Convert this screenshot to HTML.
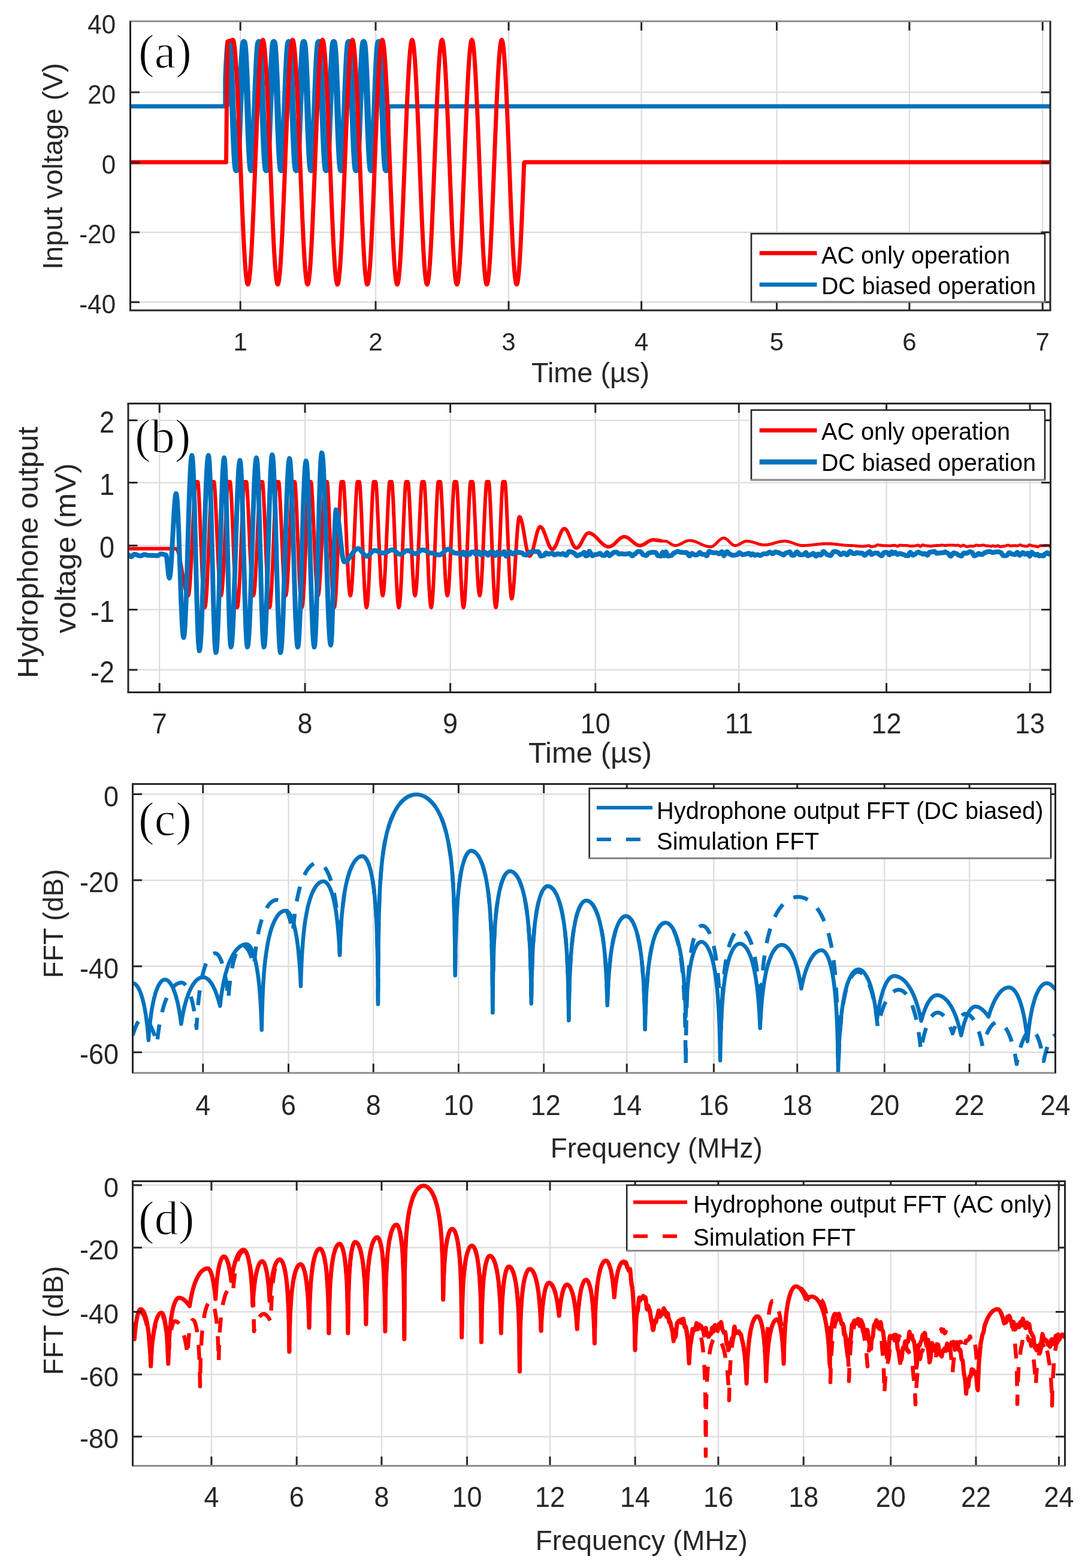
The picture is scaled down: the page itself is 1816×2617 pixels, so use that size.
<!DOCTYPE html>
<html><head><meta charset="utf-8"><title>Figure</title>
<style>html,body{margin:0;padding:0;background:#fff;}svg{display:block;filter:blur(0.6px);}</style>
</head><body>
<svg width="1816" height="2617" viewBox="0 0 1816 2617">
<rect width="1816" height="2617" fill="#fff"/>
<path d="M401.2 35.5V518M627 35.5V518M849 35.5V518M1070.6 35.5V518M1296.5 35.5V518M1517.9 35.5V518M1740.2 35.5V518M217.5 504.3H1753M217.5 387.8H1753M217.5 271.3H1753M217.5 154H1753" stroke="#dedede" stroke-width="2.4" fill="none"/>
<path d="M377.5 177.4 L377.5 131.6 L378 119.9 L378.5 109 L379 99.3 L379.5 90.7 L380 83.5 L380.5 77.8 L381 73.7 L381.5 71.2 L382 70.3 L382.5 71.2 L383 73.7 L383.5 77.8 L384 83.5 L384.5 90.7 L385 99.3 L385.5 109 L386 119.9 L386.5 131.6 L387 144.1 L387.5 157.1 L388 170.4 L388.5 183.8 L389 197.1 L389.5 210.1 L390 222.5 L390.5 234.3 L391 245.1 L391.5 254.9 L392 263.4 L392.5 270.6 L393 276.3 L393.5 280.5 L394 283 L394.5 283.8 L395 283 L395.5 280.5 L396 276.3 L396.5 270.6 L397 263.4 L397.5 254.9 L398 245.1 L398.5 234.3 L399 222.5 L399.5 210.1 L400 197.1 L400.5 183.8 L401 170.4 L401.5 157.1 L402 144.1 L402.5 131.6 L403 119.9 L403.5 109 L404 99.3 L404.5 90.7 L405 83.5 L405.5 77.8 L406 73.7 L406.5 71.2 L407 70.3 L407.5 71.2 L408 73.7 L408.5 77.8 L409 83.5 L409.5 90.7 L410 99.3 L410.5 109 L411 119.9 L411.5 131.6 L412 144.1 L412.5 157.1 L413 170.4 L413.5 183.8 L414 197.1 L414.5 210.1 L415 222.5 L415.5 234.3 L416 245.1 L416.5 254.9 L417 263.4 L417.5 270.6 L418 276.3 L418.5 280.5 L419 283 L419.5 283.8 L420 283 L420.5 280.5 L421 276.3 L421.5 270.6 L422 263.4 L422.5 254.9 L423 245.1 L423.5 234.3 L424 222.5 L424.5 210.1 L425 197.1 L425.5 183.8 L426 170.4 L426.5 157.1 L427 144.1 L427.5 131.6 L428 119.9 L428.5 109 L429 99.3 L429.5 90.7 L430 83.5 L430.5 77.8 L431 73.7 L431.5 71.2 L432 70.3 L432.5 71.2 L433 73.7 L433.5 77.8 L434 83.5 L434.5 90.7 L435 99.3 L435.5 109 L436 119.9 L436.5 131.6 L437 144.1 L437.5 157.1 L438 170.4 L438.5 183.8 L439 197.1 L439.5 210.1 L440 222.5 L440.5 234.3 L441 245.1 L441.5 254.9 L442 263.4 L442.5 270.6 L443 276.3 L443.5 280.5 L444 283 L444.5 283.8 L445 283 L445.5 280.5 L446 276.3 L446.5 270.6 L447 263.4 L447.5 254.9 L448 245.1 L448.5 234.3 L449 222.5 L449.5 210.1 L450 197.1 L450.5 183.8 L451 170.4 L451.5 157.1 L452 144.1 L452.5 131.6 L453 119.9 L453.5 109 L454 99.3 L454.5 90.7 L455 83.5 L455.5 77.8 L456 73.7 L456.5 71.2 L457 70.3 L457.5 71.2 L458 73.7 L458.5 77.8 L459 83.5 L459.5 90.7 L460 99.3 L460.5 109 L461 119.9 L461.5 131.6 L462 144.1 L462.5 157.1 L463 170.4 L463.5 183.8 L464 197.1 L464.5 210.1 L465 222.5 L465.5 234.3 L466 245.1 L466.5 254.9 L467 263.4 L467.5 270.6 L468 276.3 L468.5 280.5 L469 283 L469.5 283.8 L470 283 L470.5 280.5 L471 276.3 L471.5 270.6 L472 263.4 L472.5 254.9 L473 245.1 L473.5 234.3 L474 222.5 L474.5 210.1 L475 197.1 L475.5 183.8 L476 170.4 L476.5 157.1 L477 144.1 L477.5 131.6 L478 119.9 L478.5 109 L479 99.3 L479.5 90.7 L480 83.5 L480.5 77.8 L481 73.7 L481.5 71.2 L482 70.3 L482.5 71.2 L483 73.7 L483.5 77.8 L484 83.5 L484.5 90.7 L485 99.3 L485.5 109 L486 119.9 L486.5 131.6 L487 144.1 L487.5 157.1 L488 170.4 L488.5 183.8 L489 197.1 L489.5 210.1 L490 222.5 L490.5 234.3 L491 245.1 L491.5 254.9 L492 263.4 L492.5 270.6 L493 276.3 L493.5 280.5 L494 283 L494.5 283.8 L495 283 L495.5 280.5 L496 276.3 L496.5 270.6 L497 263.4 L497.5 254.9 L498 245.1 L498.5 234.3 L499 222.5 L499.5 210.1 L500 197.1 L500.5 183.8 L501 170.4 L501.5 157.1 L502 144.1 L502.5 131.6 L503 119.9 L503.5 109 L504 99.3 L504.5 90.7 L505 83.5 L505.5 77.8 L506 73.7 L506.5 71.2 L507 70.3 L507.5 71.2 L508 73.7 L508.5 77.8 L509 83.5 L509.5 90.7 L510 99.3 L510.5 109 L511 119.9 L511.5 131.6 L512 144.1 L512.5 157.1 L513 170.4 L513.5 183.8 L514 197.1 L514.5 210.1 L515 222.5 L515.5 234.3 L516 245.1 L516.5 254.9 L517 263.4 L517.5 270.6 L518 276.3 L518.5 280.5 L519 283 L519.5 283.8 L520 283 L520.5 280.5 L521 276.3 L521.5 270.6 L522 263.4 L522.5 254.9 L523 245.1 L523.5 234.3 L524 222.5 L524.5 210.1 L525 197.1 L525.5 183.8 L526 170.4 L526.5 157.1 L527 144.1 L527.5 131.6 L528 119.9 L528.5 109 L529 99.3 L529.5 90.7 L530 83.5 L530.5 77.8 L531 73.7 L531.5 71.2 L532 70.3 L532.5 71.2 L533 73.7 L533.5 77.8 L534 83.5 L534.5 90.7 L535 99.3 L535.5 109 L536 119.9 L536.5 131.6 L537 144.1 L537.5 157.1 L538 170.4 L538.5 183.8 L539 197.1 L539.5 210.1 L540 222.5 L540.5 234.3 L541 245.1 L541.5 254.9 L542 263.4 L542.5 270.6 L543 276.3 L543.5 280.5 L544 283 L544.5 283.8 L545 283 L545.5 280.5 L546 276.3 L546.5 270.6 L547 263.4 L547.5 254.9 L548 245.1 L548.5 234.3 L549 222.5 L549.5 210.1 L550 197.1 L550.5 183.8 L551 170.4 L551.5 157.1 L552 144.1 L552.5 131.6 L553 119.9 L553.5 109 L554 99.3 L554.5 90.7 L555 83.5 L555.5 77.8 L556 73.7 L556.5 71.2 L557 70.3 L557.5 71.2 L558 73.7 L558.5 77.8 L559 83.5 L559.5 90.7 L560 99.3 L560.5 109 L561 119.9 L561.5 131.6 L562 144.1 L562.5 157.1 L563 170.4 L563.5 183.8 L564 197.1 L564.5 210.1 L565 222.5 L565.5 234.3 L566 245.1 L566.5 254.9 L567 263.4 L567.5 270.6 L568 276.3 L568.5 280.5 L569 283 L569.5 283.8 L570 283 L570.5 280.5 L571 276.3 L571.5 270.6 L572 263.4 L572.5 254.9 L573 245.1 L573.5 234.3 L574 222.5 L574.5 210.1 L575 197.1 L575.5 183.8 L576 170.4 L576.5 157.1 L577 144.1 L577.5 131.6 L578 119.9 L578.5 109 L579 99.3 L579.5 90.7 L580 83.5 L580.5 77.8 L581 73.7 L581.5 71.2 L582 70.3 L582.5 71.2 L583 73.7 L583.5 77.8 L584 83.5 L584.5 90.7 L585 99.3 L585.5 109 L586 119.9 L586.5 131.6 L587 144.1 L587.5 157.1 L588 170.4 L588.5 183.8 L589 197.1 L589.5 210.1 L590 222.5 L590.5 234.3 L591 245.1 L591.5 254.9 L592 263.4 L592.5 270.6 L593 276.3 L593.5 280.5 L594 283 L594.5 283.8 L595 283 L595.5 280.5 L596 276.3 L596.5 270.6 L597 263.4 L597.5 254.9 L598 245.1 L598.5 234.3 L599 222.5 L599.5 210.1 L600 197.1 L600.5 183.8 L601 170.4 L601.5 157.1 L602 144.1 L602.5 131.6 L603 119.9 L603.5 109 L604 99.3 L604.5 90.7 L605 83.5 L605.5 77.8 L606 73.7 L606.5 71.2 L607 70.3 L607.5 71.2 L608 73.7 L608.5 77.8 L609 83.5 L609.5 90.7 L610 99.3 L610.5 109 L611 119.9 L611.5 131.6 L612 144.1 L612.5 157.1 L613 170.4 L613.5 183.8 L614 197.1 L614.5 210.1 L615 222.5 L615.5 234.3 L616 245.1 L616.5 254.9 L617 263.4 L617.5 270.6 L618 276.3 L618.5 280.5 L619 283 L619.5 283.8 L620 283 L620.5 280.5 L621 276.3 L621.5 270.6 L622 263.4 L622.5 254.9 L623 245.1 L623.5 234.3 L624 222.5 L624.5 210.1 L625 197.1 L625.5 183.8 L626 170.4 L626.5 157.1 L627 144.1 L627.5 131.6 L628 119.9 L628.5 109 L629 99.3 L629.5 90.7 L630 83.5 L630.5 77.8 L631 73.7 L631.5 71.2 L632 70.3 L632.5 71.2 L633 73.7 L633.5 77.8 L634 83.5 L634.5 90.7 L635 99.3 L635.5 109 L636 119.9 L636.5 131.6 L637 144.1 L637.5 157.1 L638 170.4 L638.5 183.8 L639 197.1 L639.5 210.1 L640 222.5 L640.5 234.3 L641 245.1 L641.5 254.9 L642 263.4 L642.5 270.6 L643 276.3 L643.5 280.5 L644 283 L644.5 283.8 L645 283 L645.5 270.7 L646.5 177.4" fill="none" stroke="#0072bd" stroke-width="10.5" stroke-linejoin="round"/>
<path d="M217.5 177.4 L378 177.4" fill="none" stroke="#0072bd" stroke-width="7" stroke-linejoin="round"/>
<path d="M646.5 177.4 L1753 177.4" fill="none" stroke="#0072bd" stroke-width="7" stroke-linejoin="round"/>
<path d="M217.5 270.7 L377.5 270.7 L379.5 69.5 L388.8 66.5 L388.8 66.5 L389.3 67 L389.8 68.2 L390.3 70.2 L390.8 73 L391.3 76.6 L391.8 81 L392.3 86.1 L392.8 91.9 L393.3 98.5 L393.8 105.8 L394.3 113.7 L394.8 122.2 L395.3 131.3 L395.8 141 L396.3 151.2 L396.8 161.8 L397.3 172.9 L397.8 184.4 L398.3 196.2 L398.8 208.3 L399.3 220.7 L399.8 233.3 L400.3 246 L400.8 258.8 L401.3 271.7 L401.8 284.5 L402.3 297.3 L402.8 310 L403.3 322.6 L403.8 334.9 L404.3 347 L404.8 358.7 L405.3 370.2 L405.8 381.2 L406.3 391.8 L406.8 401.9 L407.3 411.5 L407.8 420.5 L408.3 429 L408.8 436.8 L409.3 443.9 L409.8 450.4 L410.3 456.1 L410.8 461.1 L411.3 465.4 L411.8 468.9 L412.3 471.6 L412.8 473.5 L413.3 474.6 L413.8 474.8 L414.3 474.3 L414.8 473 L415.3 470.8 L415.8 467.9 L416.3 464.2 L416.8 459.7 L417.3 454.5 L417.8 448.5 L418.3 441.8 L418.8 434.5 L419.3 426.5 L419.8 417.9 L420.3 408.7 L420.8 398.9 L421.3 388.7 L421.8 377.9 L422.3 366.8 L422.8 355.2 L423.3 343.4 L423.8 331.2 L424.3 318.8 L424.8 306.2 L425.3 293.5 L425.8 280.7 L426.3 267.8 L426.8 255 L427.3 242.2 L427.8 229.5 L428.3 217 L428.8 204.7 L429.3 192.6 L429.8 180.9 L430.3 169.6 L430.8 158.6 L431.3 148.1 L431.8 138 L432.3 128.5 L432.8 119.6 L433.3 111.2 L433.8 103.5 L434.3 96.5 L434.8 90.1 L435.3 84.5 L435.8 79.6 L436.3 75.4 L436.8 72.1 L437.3 69.5 L437.8 67.7 L438.3 66.7 L438.8 66.6 L439.3 67.2 L439.8 68.7 L440.3 70.9 L440.8 74 L441.3 77.8 L441.8 82.4 L442.3 87.8 L442.8 93.8 L443.3 100.6 L443.8 108.1 L444.3 116.2 L444.8 124.9 L445.3 134.2 L445.8 144 L446.3 154.3 L446.8 165.1 L447.3 176.3 L447.8 187.9 L448.3 199.8 L448.8 212 L449.3 224.5 L449.8 237.1 L450.3 249.8 L450.8 262.7 L451.3 275.5 L451.8 288.4 L452.3 301.1 L452.8 313.8 L453.3 326.3 L453.8 338.5 L454.3 350.5 L454.8 362.2 L455.3 373.5 L455.8 384.4 L456.3 394.9 L456.8 404.8 L457.3 414.3 L457.8 423.1 L458.3 431.4 L458.8 439 L459.3 445.9 L459.8 452.2 L460.3 457.7 L460.8 462.5 L461.3 466.5 L461.8 469.8 L462.3 472.2 L462.8 473.9 L463.3 474.7 L463.8 474.8 L464.3 474 L464.8 472.4 L465.3 470 L465.8 466.9 L466.3 462.9 L466.8 458.2 L467.3 452.8 L467.8 446.6 L468.3 439.7 L468.8 432.2 L469.3 424 L469.8 415.2 L470.3 405.8 L470.8 395.9 L471.3 385.5 L471.8 374.6 L472.3 363.4 L472.8 351.7 L473.3 339.8 L473.8 327.5 L474.3 315.1 L474.8 302.4 L475.3 289.7 L475.8 276.8 L476.3 263.9 L476.8 251.1 L477.3 238.4 L477.8 225.7 L478.3 213.3 L478.8 201 L479.3 189.1 L479.8 177.5 L480.3 166.2 L480.8 155.4 L481.3 145 L481.8 135.1 L482.3 125.8 L482.8 117 L483.3 108.8 L483.8 101.3 L484.3 94.5 L484.8 88.3 L485.3 82.9 L485.8 78.3 L486.3 74.3 L486.8 71.2 L487.3 68.9 L487.8 67.3 L488.3 66.6 L488.8 66.7 L489.3 67.6 L489.8 69.3 L490.3 71.8 L490.8 75.1 L491.3 79.1 L491.8 84 L492.3 89.5 L492.8 95.8 L493.3 102.8 L493.8 110.4 L494.3 118.7 L494.8 127.6 L495.3 137.1 L495.8 147 L496.3 157.5 L496.8 168.4 L497.3 179.8 L497.8 191.5 L498.3 203.5 L498.8 215.7 L499.3 228.2 L499.8 240.9 L500.3 253.7 L500.8 266.5 L501.3 279.4 L501.8 292.2 L502.3 305 L502.8 317.6 L503.3 330 L503.8 342.2 L504.3 354.1 L504.8 365.6 L505.3 376.8 L505.8 387.6 L506.3 397.9 L506.8 407.7 L507.3 417 L507.8 425.7 L508.3 433.7 L508.8 441.1 L509.3 447.9 L509.8 453.9 L510.3 459.2 L510.8 463.8 L511.3 467.6 L511.8 470.6 L512.3 472.8 L512.8 474.2 L513.3 474.8 L513.8 474.6 L514.3 473.6 L514.8 471.8 L515.3 469.2 L515.8 465.8 L516.3 461.6 L516.8 456.7 L517.3 451 L517.8 444.6 L518.3 437.5 L518.8 429.8 L519.3 421.4 L519.8 412.4 L520.3 402.9 L520.8 392.8 L521.3 382.3 L521.8 371.3 L522.3 359.9 L522.8 348.2 L523.3 336.1 L523.8 323.8 L524.3 311.3 L524.8 298.6 L525.3 285.8 L525.8 273 L526.3 260.1 L526.8 247.3 L527.3 234.5 L527.8 222 L528.3 209.6 L528.8 197.4 L529.3 185.6 L529.8 174.1 L530.3 162.9 L530.8 152.2 L531.3 142 L531.8 132.3 L532.3 123.1 L532.8 114.5 L533.3 106.5 L533.8 99.2 L534.3 92.6 L534.8 86.6 L535.3 81.4 L535.8 77 L536.3 73.3 L536.8 70.4 L537.3 68.3 L537.8 67 L538.3 66.5 L538.8 66.9 L539.3 68 L539.8 69.9 L540.3 72.7 L540.8 76.2 L541.3 80.5 L541.8 85.5 L542.3 91.3 L542.8 97.8 L543.3 105 L543.8 112.8 L544.3 121.3 L544.8 130.4 L545.3 140 L545.8 150.1 L546.3 160.7 L546.8 171.8 L547.3 183.2 L547.8 195 L548.3 207.1 L548.8 219.5 L549.3 232 L549.8 244.7 L550.3 257.5 L550.8 270.4 L551.3 283.2 L551.8 296 L552.3 308.8 L552.8 321.3 L553.3 333.7 L553.8 345.8 L554.3 357.6 L554.8 369 L555.3 380.1 L555.8 390.8 L556.3 400.9 L556.8 410.6 L557.3 419.6 L557.8 428.1 L558.3 436 L558.8 443.2 L559.3 449.8 L559.8 455.6 L560.3 460.7 L560.8 465 L561.3 468.6 L561.8 471.3 L562.3 473.3 L562.8 474.5 L563.3 474.9 L563.8 474.4 L564.3 473.2 L564.8 471.1 L565.3 468.2 L565.8 464.6 L566.3 460.2 L566.8 455 L567.3 449.1 L567.8 442.5 L568.3 435.3 L568.8 427.3 L569.3 418.8 L569.8 409.6 L570.3 399.9 L570.8 389.7 L571.3 379 L571.8 367.9 L572.3 356.4 L572.8 344.6 L573.3 332.4 L573.8 320.1 L574.3 307.5 L574.8 294.8 L575.3 282 L575.8 269.1 L576.3 256.2 L576.8 243.4 L577.3 230.8 L577.8 218.2 L578.3 205.9 L578.8 193.8 L579.3 182.1 L579.8 170.7 L580.3 159.7 L580.8 149.1 L581.3 139 L581.8 129.4 L582.3 120.4 L582.8 112 L583.3 104.3 L583.8 97.1 L584.3 90.7 L584.8 85 L585.3 80 L585.8 75.8 L586.3 72.4 L586.8 69.7 L587.3 67.9 L587.8 66.8 L588.3 66.6 L588.8 67.1 L589.3 68.5 L589.8 70.7 L590.3 73.7 L590.8 77.4 L591.3 81.9 L591.8 87.2 L592.3 93.2 L592.8 99.9 L593.3 107.3 L593.8 115.3 L594.3 124 L594.8 133.2 L595.3 143 L595.8 153.3 L596.3 164 L596.8 175.2 L597.3 186.7 L597.8 198.6 L598.3 210.8 L598.8 223.2 L599.3 235.8 L599.8 248.5 L600.3 261.4 L600.8 274.2 L601.3 287.1 L601.8 299.9 L602.3 312.5 L602.8 325 L603.3 337.3 L603.8 349.3 L604.3 361.1 L604.8 372.4 L605.3 383.4 L605.8 393.9 L606.3 403.9 L606.8 413.3 L607.3 422.3 L607.8 430.6 L608.3 438.3 L608.8 445.3 L609.3 451.6 L609.8 457.2 L610.3 462 L610.8 466.2 L611.3 469.5 L611.8 472 L612.3 473.8 L612.8 474.7 L613.3 474.8 L613.8 474.1 L614.3 472.6 L614.8 470.3 L615.3 467.2 L615.8 463.4 L616.3 458.7 L616.8 453.3 L617.3 447.2 L617.8 440.4 L618.3 432.9 L618.8 424.8 L619.3 416.1 L619.8 406.8 L620.3 396.9 L620.8 386.6 L621.3 375.7 L621.8 364.5 L622.3 352.9 L622.8 341 L623.3 328.7 L623.8 316.3 L624.3 303.7 L624.8 290.9 L625.3 278.1 L625.8 265.2 L626.3 252.4 L626.8 239.6 L627.3 227 L627.8 214.5 L628.3 202.3 L628.8 190.3 L629.3 178.6 L629.8 167.3 L630.3 156.4 L630.8 146 L631.3 136.1 L631.8 126.7 L632.3 117.9 L632.8 109.6 L633.3 102.1 L633.8 95.1 L634.3 88.9 L634.8 83.4 L635.3 78.7 L635.8 74.7 L636.3 71.5 L636.8 69.1 L637.3 67.5 L637.8 66.6 L638.3 66.6 L638.8 67.5 L639.3 69.1 L639.8 71.5 L640.3 74.7 L640.8 78.7 L641.3 83.4 L641.8 88.9 L642.3 95.1 L642.8 102.1 L643.3 109.6 L643.8 117.9 L644.3 126.7 L644.8 136.1 L645.3 146 L645.8 156.4 L646.3 167.3 L646.8 178.6 L647.3 190.3 L647.8 202.3 L648.3 214.5 L648.8 227 L649.3 239.6 L649.8 252.4 L650.3 265.2 L650.8 278.1 L651.3 290.9 L651.8 303.7 L652.3 316.3 L652.8 328.7 L653.3 341 L653.8 352.9 L654.3 364.5 L654.8 375.7 L655.3 386.6 L655.8 396.9 L656.3 406.8 L656.8 416.1 L657.3 424.8 L657.8 432.9 L658.3 440.4 L658.8 447.2 L659.3 453.3 L659.8 458.7 L660.3 463.4 L660.8 467.2 L661.3 470.3 L661.8 472.6 L662.3 474.1 L662.8 474.8 L663.3 474.7 L663.8 473.8 L664.3 472 L664.8 469.5 L665.3 466.2 L665.8 462 L666.3 457.2 L666.8 451.6 L667.3 445.3 L667.8 438.3 L668.3 430.6 L668.8 422.3 L669.3 413.3 L669.8 403.9 L670.3 393.9 L670.8 383.4 L671.3 372.4 L671.8 361.1 L672.3 349.3 L672.8 337.3 L673.3 325 L673.8 312.5 L674.3 299.9 L674.8 287.1 L675.3 274.2 L675.8 261.4 L676.3 248.5 L676.8 235.8 L677.3 223.2 L677.8 210.8 L678.3 198.6 L678.8 186.7 L679.3 175.2 L679.8 164 L680.3 153.3 L680.8 143 L681.3 133.2 L681.8 124 L682.3 115.3 L682.8 107.3 L683.3 99.9 L683.8 93.2 L684.3 87.2 L684.8 81.9 L685.3 77.4 L685.8 73.7 L686.3 70.7 L686.8 68.5 L687.3 67.1 L687.8 66.6 L688.3 66.8 L688.8 67.9 L689.3 69.7 L689.8 72.4 L690.3 75.8 L690.8 80 L691.3 85 L691.8 90.7 L692.3 97.1 L692.8 104.3 L693.3 112 L693.8 120.4 L694.3 129.4 L694.8 139 L695.3 149.1 L695.8 159.7 L696.3 170.7 L696.8 182.1 L697.3 193.8 L697.8 205.9 L698.3 218.2 L698.8 230.8 L699.3 243.4 L699.8 256.2 L700.3 269.1 L700.8 282 L701.3 294.8 L701.8 307.5 L702.3 320.1 L702.8 332.4 L703.3 344.6 L703.8 356.4 L704.3 367.9 L704.8 379 L705.3 389.7 L705.8 399.9 L706.3 409.6 L706.8 418.8 L707.3 427.3 L707.8 435.3 L708.3 442.5 L708.8 449.1 L709.3 455 L709.8 460.2 L710.3 464.6 L710.8 468.2 L711.3 471.1 L711.8 473.2 L712.3 474.4 L712.8 474.9 L713.3 474.5 L713.8 473.3 L714.3 471.3 L714.8 468.6 L715.3 465 L715.8 460.7 L716.3 455.6 L716.8 449.8 L717.3 443.2 L717.8 436 L718.3 428.1 L718.8 419.6 L719.3 410.6 L719.8 400.9 L720.3 390.8 L720.8 380.1 L721.3 369 L721.8 357.6 L722.3 345.8 L722.8 333.7 L723.3 321.3 L723.8 308.8 L724.3 296 L724.8 283.2 L725.3 270.4 L725.8 257.5 L726.3 244.7 L726.8 232 L727.3 219.5 L727.8 207.1 L728.3 195 L728.8 183.2 L729.3 171.8 L729.8 160.7 L730.3 150.1 L730.8 140 L731.3 130.4 L731.8 121.3 L732.3 112.8 L732.8 105 L733.3 97.8 L733.8 91.3 L734.3 85.5 L734.8 80.5 L735.3 76.2 L735.8 72.7 L736.3 69.9 L736.8 68 L737.3 66.9 L737.8 66.5 L738.3 67 L738.8 68.3 L739.3 70.4 L739.8 73.3 L740.3 77 L740.8 81.4 L741.3 86.6 L741.8 92.6 L742.3 99.2 L742.8 106.5 L743.3 114.5 L743.8 123.1 L744.3 132.3 L744.8 142 L745.3 152.2 L745.8 162.9 L746.3 174.1 L746.8 185.6 L747.3 197.4 L747.8 209.6 L748.3 222 L748.8 234.5 L749.3 247.3 L749.8 260.1 L750.3 273 L750.8 285.8 L751.3 298.6 L751.8 311.3 L752.3 323.8 L752.8 336.1 L753.3 348.2 L753.8 359.9 L754.3 371.3 L754.8 382.3 L755.3 392.8 L755.8 402.9 L756.3 412.4 L756.8 421.4 L757.3 429.8 L757.8 437.5 L758.3 444.6 L758.8 451 L759.3 456.7 L759.8 461.6 L760.3 465.8 L760.8 469.2 L761.3 471.8 L761.8 473.6 L762.3 474.6 L762.8 474.8 L763.3 474.2 L763.8 472.8 L764.3 470.6 L764.8 467.6 L765.3 463.8 L765.8 459.2 L766.3 453.9 L766.8 447.9 L767.3 441.1 L767.8 433.7 L768.3 425.7 L768.8 417 L769.3 407.7 L769.8 397.9 L770.3 387.6 L770.8 376.8 L771.3 365.6 L771.8 354.1 L772.3 342.2 L772.8 330 L773.3 317.6 L773.8 305 L774.3 292.2 L774.8 279.4 L775.3 266.5 L775.8 253.7 L776.3 240.9 L776.8 228.2 L777.3 215.7 L777.8 203.5 L778.3 191.5 L778.8 179.8 L779.3 168.4 L779.8 157.5 L780.3 147 L780.8 137.1 L781.3 127.6 L781.8 118.7 L782.3 110.4 L782.8 102.8 L783.3 95.8 L783.8 89.5 L784.3 84 L784.8 79.1 L785.3 75.1 L785.8 71.8 L786.3 69.3 L786.8 67.6 L787.3 66.7 L787.8 66.6 L788.3 67.3 L788.8 68.9 L789.3 71.2 L789.8 74.3 L790.3 78.3 L790.8 82.9 L791.3 88.3 L791.8 94.5 L792.3 101.3 L792.8 108.8 L793.3 117 L793.8 125.8 L794.3 135.1 L794.8 145 L795.3 155.4 L795.8 166.2 L796.3 177.5 L796.8 189.1 L797.3 201 L797.8 213.3 L798.3 225.7 L798.8 238.4 L799.3 251.1 L799.8 263.9 L800.3 276.8 L800.8 289.7 L801.3 302.4 L801.8 315.1 L802.3 327.5 L802.8 339.8 L803.3 351.7 L803.8 363.4 L804.3 374.6 L804.8 385.5 L805.3 395.9 L805.8 405.8 L806.3 415.2 L806.8 424 L807.3 432.2 L807.8 439.7 L808.3 446.6 L808.8 452.8 L809.3 458.2 L809.8 462.9 L810.3 466.9 L810.8 470 L811.3 472.4 L811.8 474 L812.3 474.8 L812.8 474.7 L813.3 473.9 L813.8 472.2 L814.3 469.8 L814.8 466.5 L815.3 462.5 L815.8 457.7 L816.3 452.2 L816.8 445.9 L817.3 439 L817.8 431.4 L818.3 423.1 L818.8 414.3 L819.3 404.8 L819.8 394.9 L820.3 384.4 L820.8 373.5 L821.3 362.2 L821.8 350.5 L822.3 338.5 L822.8 326.3 L823.3 313.8 L823.8 301.1 L824.3 288.4 L824.8 275.5 L825.3 262.7 L825.8 249.8 L826.3 237.1 L826.8 224.5 L827.3 212 L827.8 199.8 L828.3 187.9 L828.8 176.3 L829.3 165.1 L829.8 154.3 L830.3 144 L830.8 134.2 L831.3 124.9 L831.8 116.2 L832.3 108.1 L832.8 100.6 L833.3 93.8 L833.8 87.8 L834.3 82.4 L834.8 77.8 L835.3 74 L835.8 70.9 L836.3 68.7 L836.8 67.2 L837.3 66.6 L837.8 66.7 L838.3 67.7 L838.8 69.5 L839.3 72.1 L839.8 75.4 L840.3 79.6 L840.8 84.5 L841.3 90.1 L841.8 96.5 L842.3 103.5 L842.8 111.2 L843.3 119.6 L843.8 128.5 L844.3 138 L844.8 148.1 L845.3 158.6 L845.8 169.6 L846.3 180.9 L846.8 192.6 L847.3 204.7 L847.8 217 L848.3 229.5 L848.8 242.2 L849.3 255 L849.8 267.8 L850.3 280.7 L850.8 293.5 L851.3 306.2 L851.8 318.8 L852.3 331.2 L852.8 343.4 L853.3 355.2 L853.8 366.8 L854.3 377.9 L854.8 388.7 L855.3 398.9 L855.8 408.7 L856.3 417.9 L856.8 426.5 L857.3 434.5 L857.8 441.8 L858.3 448.5 L858.8 454.5 L859.3 459.7 L859.8 464.2 L860.3 467.9 L860.8 470.8 L861.3 473 L861.8 474.3 L862.3 474.8 L862.8 474.6 L863.3 473.5 L863.8 471.6 L864.3 468.9 L864.8 465.4 L865.3 461.1 L865.8 456.1 L866.3 450.4 L866.8 443.9 L867.3 436.8 L867.8 429 L868.3 420.5 L868.8 411.5 L869.3 401.9 L869.8 391.8 L870.3 381.2 L870.8 370.2 L871.3 358.7 L871.8 347 L872.3 334.9 L872.8 322.6 L873.3 310 L873.8 297.3 L874.3 284.5 L874.8 271.7 L875.3 270.7 L1753 270.7" fill="none" stroke="#ff0000" stroke-width="7" stroke-linejoin="round"/>
<path d="M401.2 518v-15.5M401.2 35.5v15.5M627 518v-15.5M627 35.5v15.5M849 518v-15.5M849 35.5v15.5M1070.6 518v-15.5M1070.6 35.5v15.5M1296.5 518v-15.5M1296.5 35.5v15.5M1517.9 518v-15.5M1517.9 35.5v15.5M1740.2 518v-15.5M1740.2 35.5v15.5M217.5 504.3h15.5M1753 504.3h-15.5M217.5 387.8h15.5M1753 387.8h-15.5M217.5 271.3h15.5M1753 271.3h-15.5M217.5 154h15.5M1753 154h-15.5" stroke="#262626" stroke-width="3" fill="none"/>
<path d="M216 35.5H1754.5" stroke="#939393" stroke-width="3"/>
<path d="M216 518H1754.5" stroke="#262626" stroke-width="3"/>
<path d="M217.5 35.5V518" stroke="#262626" stroke-width="3"/>
<path d="M1753 35.5V518" stroke="#262626" stroke-width="3"/>
<text x="401.2" y="585" font-size="42" text-anchor="middle" fill="#262626" font-family='"Liberation Sans", sans-serif'>1</text>
<text x="627" y="585" font-size="42" text-anchor="middle" fill="#262626" font-family='"Liberation Sans", sans-serif'>2</text>
<text x="849" y="585" font-size="42" text-anchor="middle" fill="#262626" font-family='"Liberation Sans", sans-serif'>3</text>
<text x="1070.6" y="585" font-size="42" text-anchor="middle" fill="#262626" font-family='"Liberation Sans", sans-serif'>4</text>
<text x="1296.5" y="585" font-size="42" text-anchor="middle" fill="#262626" font-family='"Liberation Sans", sans-serif'>5</text>
<text x="1517.9" y="585" font-size="42" text-anchor="middle" fill="#262626" font-family='"Liberation Sans", sans-serif'>6</text>
<text x="1740.2" y="585" font-size="42" text-anchor="middle" fill="#262626" font-family='"Liberation Sans", sans-serif'>7</text>
<text x="0" y="0" font-size="42" text-anchor="end" fill="#262626" font-family='"Liberation Sans", sans-serif' transform="translate(193 522.8) scale(1 1.07)">-40</text>
<text x="0" y="0" font-size="42" text-anchor="end" fill="#262626" font-family='"Liberation Sans", sans-serif' transform="translate(193 406.3) scale(1 1.07)">-20</text>
<text x="0" y="0" font-size="42" text-anchor="end" fill="#262626" font-family='"Liberation Sans", sans-serif' transform="translate(193 289.8) scale(1 1.07)">0</text>
<text x="0" y="0" font-size="42" text-anchor="end" fill="#262626" font-family='"Liberation Sans", sans-serif' transform="translate(193 172.5) scale(1 1.07)">20</text>
<text x="0" y="0" font-size="42" text-anchor="end" fill="#262626" font-family='"Liberation Sans", sans-serif' transform="translate(193 55.8) scale(1 1.07)">40</text>
<text x="985.5" y="637.5" font-size="46" text-anchor="middle" fill="#262626" font-family='"Liberation Sans", sans-serif' textLength="197" lengthAdjust="spacingAndGlyphs">Time (µs)</text>
<text x="104" y="277.5" font-size="46" text-anchor="middle" fill="#262626" font-family='"Liberation Sans", sans-serif' transform="rotate(-90 104 277.5)" textLength="345" lengthAdjust="spacingAndGlyphs">Input voltage (V)</text>
<text x="231" y="113" font-size="80" text-anchor="start" fill="#000" font-family='"Liberation Serif", serif' stroke="#fff" stroke-width="1.3">(a)</text>
<rect x="1254" y="390" width="490" height="114" fill="#fff" stroke="#262626" stroke-width="2.6"/>
<path d="M1252.7 504H1745.3" stroke="#8f8f8f" stroke-width="2.6"/>
<path d="M1267.7 422.4H1363.5" stroke="#ff0000" stroke-width="7"/>
<text x="1371" y="440" font-size="40" text-anchor="start" fill="#000" font-family='"Liberation Sans", sans-serif' textLength="315" lengthAdjust="spacingAndGlyphs">AC only operation</text>
<path d="M1267.7 474.9H1363.5" stroke="#0072bd" stroke-width="7"/>
<text x="1371" y="491" font-size="40" text-anchor="start" fill="#000" font-family='"Liberation Sans", sans-serif' textLength="358" lengthAdjust="spacingAndGlyphs">DC biased operation</text>
<path d="M266.2 673.5V1155.5M509.1 673.5V1155.5M751.6 673.5V1155.5M993.8 673.5V1155.5M1233.3 673.5V1155.5M1479.6 673.5V1155.5M1719.1 673.5V1155.5M214 1118H1753.5M214 1017.4H1753.5M214 910.5H1753.5M214 805.6H1753.5M214 701.6H1753.5" stroke="#dedede" stroke-width="2.4" fill="none"/>
<path d="M214 915.7 L214.8 915.7 L215.6 915.7 L216.4 915.7 L217.2 915.7 L218 915.7 L218.8 915.7 L219.6 915.7 L220.4 915.7 L221.2 915.7 L222 915.7 L222.8 915.7 L223.6 915.7 L224.4 915.7 L225.2 915.7 L226 915.7 L226.8 915.7 L227.6 915.7 L228.4 915.7 L229.2 915.7 L230 915.7 L230.8 915.7 L231.6 915.7 L232.4 915.7 L233.2 915.7 L234 915.7 L234.8 915.7 L235.6 915.7 L236.4 915.7 L237.2 915.7 L238 915.7 L238.8 915.7 L239.6 915.7 L240.4 915.7 L241.2 915.7 L242 915.7 L242.8 915.7 L243.6 915.7 L244.4 915.7 L245.2 915.7 L246 915.7 L246.8 915.7 L247.6 915.7 L248.4 915.7 L249.2 915.7 L250 915.7 L250.8 915.7 L251.6 915.7 L252.4 915.7 L253.2 915.7 L254 915.7 L254.8 915.7 L255.6 915.7 L256.4 915.7 L257.2 915.7 L258 915.7 L258.8 915.7 L259.6 915.7 L260.4 915.7 L261.2 915.7 L262 915.7 L262.8 915.7 L263.6 915.7 L264.4 915.7 L265.2 915.7 L266 915.7 L266.8 915.7 L267.6 915.7 L268.4 915.7 L269.2 915.7 L270 915.7 L270.8 915.7 L271.6 915.7 L272.4 915.7 L273.2 915.7 L274 915.7 L274.8 915.7 L275.6 915.7 L276.4 915.7 L277.2 915.7 L278 915.7 L278.8 915.7 L279.6 915.7 L280.4 915.7 L281.2 915.7 L282 915.7 L282.8 915.7 L283.6 915.7 L284.4 915.7 L285.2 915.7 L286 915.7 L286.8 915.7 L287.6 915.7 L288.4 915.7 L289.2 915.7 L290 915.7 L290.8 915.7 L291.6 915.7 L292.4 915.7 L293.2 915.7 L294 915.7 L294.8 916 L295.6 917 L296.4 918.5 L297.2 920.6 L298.1 923.2 L298.9 926.3 L299.7 929.9 L300.5 933.9 L301.3 938.2 L302.1 942.8 L302.9 947.6 L303.7 952.5 L304.5 957.4 L305.3 962.3 L306.1 967 L307 971.6 L307.8 975.9 L308.6 979.9 L309.4 983.5 L310.2 986.6 L311 989.3 L311.8 991.3 L312.6 992.9 L313.4 993.8 L314.2 994.1 L315.1 992.4 L315.9 987.2 L316.8 978.8 L317.6 967.5 L318.4 953.6 L319.3 937.6 L320.1 920.1 L321 901.6 L321.8 882.8 L322.6 864.3 L323.5 846.8 L324.3 830.8 L325.1 816.9 L326 805.6 L326.8 803.9 L327.7 803.9 L328.5 803.9 L329.3 803.9 L330.2 803.9 L331 809.2 L331.9 823.1 L332.7 840 L333.6 859.4 L334.4 880.3 L335.2 902.1 L336.1 924 L336.9 944.9 L337.8 964.3 L338.6 981.2 L339.5 995.1 L340.3 1005.4 L341.1 1011.8 L342 1014 L342.8 1011.8 L343.7 1005.4 L344.5 995.1 L345.4 981.2 L346.2 964.3 L347 944.9 L347.9 924 L348.7 902.1 L349.6 880.3 L350.4 859.4 L351.3 840 L352.1 823.1 L353 809.2 L353.8 803.9 L354.6 803.9 L355.5 803.9 L356.3 803.9 L357.2 803.9 L358 807.5 L358.9 820.2 L359.7 835.6 L360.5 853.2 L361.4 872.3 L362.2 892.2 L363.1 912.1 L363.9 931.2 L364.8 948.8 L365.6 964.3 L366.4 976.9 L367.3 986.3 L368.1 992.1 L369 994.1 L369.8 992.1 L370.7 986.3 L371.5 976.9 L372.3 964.3 L373.2 948.8 L374 931.2 L374.9 912.1 L375.7 892.2 L376.6 872.3 L377.4 853.2 L378.2 835.6 L379.1 820.2 L379.9 807.5 L380.8 803.9 L381.6 803.9 L382.5 803.9 L383.3 803.9 L384.1 803.9 L385 809.2 L385.8 823.1 L386.7 840 L387.5 859.4 L388.4 880.3 L389.2 902.1 L390 924 L390.9 944.9 L391.7 964.3 L392.6 981.2 L393.4 995.1 L394.3 1005.4 L395.1 1011.8 L395.9 1014 L396.8 1011.8 L397.6 1005.4 L398.5 995.1 L399.3 981.2 L400.2 964.3 L401 944.9 L401.9 924 L402.7 902.1 L403.5 880.3 L404.4 859.4 L405.2 840 L406.1 823.1 L406.9 809.2 L407.8 803.9 L408.6 803.9 L409.4 803.9 L410.3 803.9 L411.1 803.9 L412 807.5 L412.8 820.2 L413.7 835.6 L414.5 853.2 L415.3 872.3 L416.2 892.2 L417 912.1 L417.9 931.2 L418.7 948.8 L419.6 964.3 L420.4 976.9 L421.2 986.3 L422.1 992.1 L422.9 994.1 L423.8 992.1 L424.6 986.3 L425.5 976.9 L426.3 964.3 L427.1 948.8 L428 931.2 L428.8 912.1 L429.7 892.2 L430.5 872.3 L431.4 853.2 L432.2 835.6 L433 820.2 L433.9 807.5 L434.7 803.9 L435.6 803.9 L436.4 803.9 L437.3 803.9 L438.1 803.9 L438.9 809.2 L439.8 823.1 L440.6 840 L441.5 859.4 L442.3 880.3 L443.2 902.1 L444 924 L444.9 944.9 L445.7 964.3 L446.5 981.2 L447.4 995.1 L448.2 1005.4 L449.1 1011.8 L449.9 1014 L450.8 1011.8 L451.6 1005.4 L452.4 995.1 L453.3 981.2 L454.1 964.3 L455 944.9 L455.8 924 L456.7 902.1 L457.5 880.3 L458.3 859.4 L459.2 840 L460 823.1 L460.9 809.2 L461.7 803.9 L462.6 803.9 L463.4 803.9 L464.2 803.9 L465.1 803.9 L465.9 807.5 L466.8 820.2 L467.6 835.6 L468.5 853.2 L469.3 872.3 L470.1 892.2 L471 912.1 L471.8 931.2 L472.7 948.8 L473.5 964.3 L474.4 976.9 L475.2 986.3 L476 992.1 L476.9 994.1 L477.7 992.1 L478.6 986.3 L479.4 976.9 L480.3 964.3 L481.1 948.8 L481.9 931.2 L482.8 912.1 L483.6 892.2 L484.5 872.3 L485.3 853.2 L486.2 835.6 L487 820.2 L487.9 807.5 L488.7 803.9 L489.5 803.9 L490.4 803.9 L491.2 803.9 L492.1 803.9 L492.9 809.2 L493.8 823.1 L494.6 840 L495.4 859.4 L496.3 880.3 L497.1 902.1 L498 924 L498.8 944.9 L499.7 964.3 L500.5 981.2 L501.3 995.1 L502.2 1005.4 L503 1011.8 L503.9 1014 L504.7 1011.8 L505.6 1005.4 L506.4 995.1 L507.2 981.2 L508.1 964.3 L508.9 944.9 L509.8 924 L510.6 902.1 L511.5 880.3 L512.3 859.4 L513.1 840 L514 823.1 L514.8 809.2 L515.7 803.9 L516.5 803.9 L517.4 803.9 L518.2 803.9 L519 803.9 L519.9 807.5 L520.7 820.2 L521.6 835.6 L522.4 853.2 L523.3 872.3 L524.1 892.2 L524.9 912.1 L525.8 931.2 L526.6 948.8 L527.5 964.3 L528.3 976.9 L529.2 986.3 L530 992.1 L530.9 994.1 L531.7 992.1 L532.5 986.3 L533.4 976.9 L534.2 964.3 L535.1 948.8 L535.9 931.2 L536.8 912.1 L537.6 892.2 L538.4 872.3 L539.3 853.2 L540.1 835.6 L541 820.2 L541.8 807.5 L542.7 803.9 L543.5 803.9 L544.3 803.9 L545.2 803.9 L546 803.9 L546.9 809.2 L547.7 823.1 L548.6 840 L549.4 859.4 L550.2 880.3 L551.1 902.1 L551.9 924 L552.8 944.9 L553.6 964.3 L554.5 981.2 L555.3 995.1 L556.1 1005.4 L557 1011.8 L557.8 1014 L558.7 1011.8 L559.5 1005.4 L560.4 995.1 L561.2 981.2 L562 964.3 L562.9 944.9 L563.7 924 L564.6 902.1 L565.4 880.3 L566.3 859.4 L567.1 840 L567.9 823.1 L568.8 809.2 L569.6 803.9 L570.5 803.9 L571.3 803.9 L572.2 803.9 L573 803.9 L573.8 807.5 L574.7 820.2 L575.5 835.6 L576.4 853.2 L577.2 872.3 L578.1 892.2 L578.9 912.1 L579.8 931.2 L580.6 948.8 L581.4 964.3 L582.3 976.9 L583.1 986.3 L584 992.1 L584.8 994.1 L585.7 992.1 L586.5 986.3 L587.3 976.9 L588.2 964.3 L589 948.8 L589.9 931.2 L590.7 912.1 L591.6 892.2 L592.4 872.3 L593.2 853.2 L594.1 835.6 L594.9 820.2 L595.8 807.5 L596.6 803.9 L597.5 803.9 L598.3 803.9 L599.1 803.9 L600 803.9 L600.8 809.2 L601.7 823.1 L602.5 840 L603.4 859.4 L604.2 880.3 L605 902.1 L605.9 924 L606.7 944.9 L607.6 964.3 L608.4 981.2 L609.3 995.1 L610.1 1005.4 L610.9 1011.8 L611.8 1014 L612.6 1011.8 L613.5 1005.4 L614.3 995.1 L615.2 981.2 L616 964.3 L616.8 944.9 L617.7 924 L618.5 902.1 L619.4 880.3 L620.2 859.4 L621.1 840 L621.9 823.1 L622.8 809.2 L623.6 803.9 L624.4 803.9 L625.3 803.9 L626.1 803.9 L627 803.9 L627.8 807.5 L628.7 820.2 L629.5 835.6 L630.3 853.2 L631.2 872.3 L632 892.2 L632.9 912.1 L633.7 931.2 L634.6 948.8 L635.4 964.3 L636.2 976.9 L637.1 986.3 L637.9 992.1 L638.8 994.1 L639.6 992.1 L640.5 986.3 L641.3 976.9 L642.1 964.3 L643 948.8 L643.8 931.2 L644.7 912.1 L645.5 892.2 L646.4 872.3 L647.2 853.2 L648 835.6 L648.9 820.2 L649.7 807.5 L650.6 803.9 L651.4 803.9 L652.3 803.9 L653.1 803.9 L653.9 803.9 L654.8 809.2 L655.6 823.1 L656.5 840 L657.3 859.4 L658.2 880.3 L659 902.1 L659.8 924 L660.7 944.9 L661.5 964.3 L662.4 981.2 L663.2 995.1 L664.1 1005.4 L664.9 1011.8 L665.8 1014 L666.6 1011.8 L667.4 1005.4 L668.3 995.1 L669.1 981.2 L670 964.3 L670.8 944.9 L671.7 924 L672.5 902.1 L673.3 880.3 L674.2 859.4 L675 840 L675.9 823.1 L676.7 809.2 L677.6 803.9 L678.4 803.9 L679.2 803.9 L680.1 803.9 L680.9 803.9 L681.8 807.5 L682.6 820.2 L683.5 835.6 L684.3 853.2 L685.1 872.3 L686 892.2 L686.8 912.1 L687.7 931.2 L688.5 948.8 L689.4 964.3 L690.2 976.9 L691 986.3 L691.9 992.1 L692.7 994.1 L693.6 992.1 L694.4 986.3 L695.3 976.9 L696.1 964.3 L696.9 948.8 L697.8 931.2 L698.6 912.1 L699.5 892.2 L700.3 872.3 L701.2 853.2 L702 835.6 L702.8 820.2 L703.7 807.5 L704.5 803.9 L705.4 803.9 L706.2 803.9 L707.1 803.9 L707.9 803.9 L708.7 809.2 L709.6 823.1 L710.4 840 L711.3 859.4 L712.1 880.3 L713 902.1 L713.8 924 L714.7 944.9 L715.5 964.3 L716.3 981.2 L717.2 995.1 L718 1005.4 L718.9 1011.8 L719.7 1014 L720.6 1011.8 L721.4 1005.4 L722.2 995.1 L723.1 981.2 L723.9 964.3 L724.8 944.9 L725.6 924 L726.5 902.1 L727.3 880.3 L728.1 859.4 L729 840 L729.8 823.1 L730.7 809.2 L731.5 803.9 L732.4 803.9 L733.2 803.9 L734 803.9 L734.9 803.9 L735.7 807.5 L736.6 820.2 L737.4 835.6 L738.3 853.2 L739.1 872.3 L739.9 892.2 L740.8 912.1 L741.6 931.2 L742.5 948.8 L743.3 964.3 L744.2 976.9 L745 986.3 L745.8 992.1 L746.7 994.1 L747.5 992.1 L748.4 986.3 L749.2 976.9 L750.1 964.3 L750.9 948.8 L751.7 931.2 L752.6 912.1 L753.4 892.2 L754.3 872.3 L755.1 853.2 L756 835.6 L756.8 820.2 L757.7 807.5 L758.5 803.9 L759.3 803.9 L760.2 803.9 L761 803.9 L761.9 803.9 L762.7 809.2 L763.6 823.1 L764.4 840 L765.2 859.4 L766.1 880.3 L766.9 902.1 L767.8 924 L768.6 944.9 L769.5 964.3 L770.3 981.2 L771.1 995.1 L772 1005.4 L772.8 1011.8 L773.7 1014 L774.5 1011.8 L775.4 1005.4 L776.2 995.1 L777 981.2 L777.9 964.3 L778.7 944.9 L779.6 924 L780.4 902.1 L781.3 880.3 L782.1 859.4 L782.9 840 L783.8 823.1 L784.6 809.2 L785.5 803.9 L786.3 803.9 L787.2 803.9 L788 803.9 L788.8 803.9 L789.7 807.5 L790.5 820.2 L791.4 835.6 L792.2 853.2 L793.1 872.3 L793.9 892.2 L794.7 912.1 L795.6 931.2 L796.4 948.8 L797.3 964.3 L798.1 976.9 L799 986.3 L799.8 992.1 L800.7 994.1 L801.5 992.1 L802.3 986.3 L803.2 976.9 L804 964.3 L804.9 948.8 L805.7 931.2 L806.6 912.1 L807.4 892.2 L808.2 872.3 L809.1 853.2 L809.9 835.6 L810.8 820.2 L811.6 807.5 L812.5 803.9 L813.3 803.9 L814.1 803.9 L815 803.9 L815.8 803.9 L816.7 809.2 L817.5 823.1 L818.4 840 L819.2 859.4 L820 880.3 L820.9 902.1 L821.7 924 L822.6 944.9 L823.4 964.3 L824.3 981.2 L825.1 995.1 L825.9 1005.4 L826.8 1011.8 L827.6 1014 L828.5 1011.8 L829.3 1005.4 L830.2 995.1 L831 981.2 L831.8 964.3 L832.7 944.9 L833.5 924 L834.4 902.1 L835.2 880.3 L836.1 859.4 L836.9 840 L837.7 823.1 L838.6 809.2 L839.4 803.9 L840.3 803.9 L841.1 803.9 L841.9 803.9 L842.7 803.9 L843.6 807.9 L844.4 820.9 L845.2 836.8 L846 854.8 L846.8 874.4 L847.6 894.8 L848.4 915.2 L849.2 934.8 L850 952.9 L850.9 968.7 L851.7 981.7 L852.5 991.4 L853.3 997.3 L854.1 999.3 L854.9 998 L855.7 994.1 L856.5 987.8 L857.3 979.3 L858.1 968.9 L858.9 957.1 L859.7 944.2 L860.5 930.9 L861.4 917.5 L862.2 904.7 L863 892.9 L863.8 882.5 L864.6 874 L865.4 867.6 L866.2 863.7 L867 862.4 L867.8 862.8 L868.6 863.9 L869.4 865.7 L870.2 868.1 L871 871.2 L871.9 874.8 L872.7 878.9 L873.5 883.3 L874.3 888 L875.1 892.9 L875.9 897.8 L876.7 902.7 L877.5 907.4 L878.3 911.8 L879.1 915.9 L880 919.5 L880.8 922.5 L881.6 925 L882.4 926.8 L883.2 927.9 L884 928.3 L884.8 928 L885.6 927.3 L886.4 926 L887.2 924.4 L888 922.3 L888.8 919.8 L889.6 917 L890.4 913.9 L891.2 910.6 L892 907.2 L892.9 903.7 L893.7 900.2 L894.5 896.8 L895.3 893.5 L896.1 890.4 L896.9 887.6 L897.7 885.1 L898.5 883 L899.3 881.4 L900.1 880.1 L900.9 879.4 L901.7 879.1 L902.5 879.3 L903.3 879.7 L904.1 880.5 L904.9 881.5 L905.8 882.7 L906.6 884.2 L907.4 886 L908.2 887.9 L909 890 L909.8 892.1 L910.6 894.4 L911.4 896.8 L912.3 899.1 L913.1 901.5 L913.9 903.8 L914.7 906 L915.5 908 L916.3 909.9 L917.1 911.7 L917.9 913.2 L918.8 914.4 L919.6 915.4 L920.4 916.2 L921.2 916.6 L922 916.8 L922.8 916.6 L923.6 916.2 L924.4 915.6 L925.2 914.6 L926 913.5 L926.8 912.1 L927.6 910.5 L928.4 908.8 L929.2 906.9 L930 904.9 L930.8 902.8 L931.6 900.6 L932.4 898.4 L933.2 896.3 L934 894.2 L934.8 892.2 L935.6 890.3 L936.4 888.5 L937.2 887 L938 885.6 L938.8 884.4 L939.6 883.5 L940.4 882.8 L941.2 882.4 L942 882.3 L942.8 882.4 L943.6 882.8 L944.4 883.4 L945.2 884.3 L946 885.4 L946.8 886.7 L947.6 888.2 L948.4 889.8 L949.2 891.6 L950 893.5 L950.8 895.4 L951.6 897.5 L952.4 899.5 L953.2 901.5 L954 903.5 L954.8 905.4 L955.6 907.2 L956.4 908.8 L957.2 910.3 L958 911.6 L958.8 912.7 L959.6 913.5 L960.4 914.2 L961.2 914.6 L962 914.7 L962.8 914.6 L963.6 914.3 L964.4 913.8 L965.3 913.1 L966.1 912.3 L966.9 911.3 L967.7 910.1 L968.5 908.9 L969.3 907.5 L970.2 906 L971 904.5 L971.8 902.9 L972.6 901.4 L973.4 899.8 L974.2 898.3 L975.1 896.8 L975.9 895.4 L976.7 894.1 L977.5 893 L978.3 892 L979.1 891.2 L980 890.5 L980.8 890 L981.6 889.7 L982.4 889.6 L983.2 889.6 L984 889.7 L984.8 889.9 L985.6 890.1 L986.4 890.4 L987.2 890.7 L988 891.1 L988.8 891.6 L989.6 892.1 L990.4 892.7 L991.2 893.3 L992 893.9 L992.8 894.6 L993.6 895.3 L994.4 896.1 L995.2 896.9 L996 897.7 L996.8 898.5 L997.6 899.4 L998.4 900.2 L999.2 901.1 L1000 902 L1000.8 902.8 L1001.6 903.7 L1002.4 904.5 L1003.2 905.3 L1004 906.1 L1004.8 906.8 L1005.6 907.6 L1006.4 908.3 L1007.2 908.9 L1008 909.5 L1008.8 910.1 L1009.6 910.6 L1010.4 911 L1011.2 911.5 L1012 911.8 L1012.8 912.1 L1013.6 912.3 L1014.4 912.5 L1015.2 912.6 L1016 912.6 L1016.8 912.5 L1017.6 912.4 L1018.4 912.2 L1019.2 912 L1020.1 911.6 L1020.9 911.2 L1021.7 910.7 L1022.5 910.1 L1023.3 909.5 L1024.1 908.9 L1024.9 908.2 L1025.8 907.4 L1026.6 906.7 L1027.4 905.9 L1028.2 905 L1029 904.2 L1029.8 903.4 L1030.6 902.6 L1031.4 901.8 L1032.2 901 L1033.1 900.3 L1033.9 899.6 L1034.7 898.9 L1035.5 898.3 L1036.3 897.8 L1037.1 897.3 L1037.9 896.9 L1038.8 896.5 L1039.6 896.2 L1040.4 896 L1041.2 895.9 L1042 895.9 L1042.8 895.9 L1043.6 896 L1044.4 896.2 L1045.2 896.4 L1046.1 896.7 L1046.9 897.1 L1047.7 897.5 L1048.5 898 L1049.3 898.5 L1050.1 899.1 L1050.9 899.7 L1051.8 900.4 L1052.6 901.1 L1053.4 901.8 L1054.2 902.5 L1055 903.2 L1055.8 903.9 L1056.6 904.6 L1057.4 905.3 L1058.2 906 L1059.1 906.6 L1059.9 907.2 L1060.7 907.8 L1061.5 908.4 L1062.3 908.8 L1063.1 909.3 L1063.9 909.6 L1064.8 909.9 L1065.6 910.2 L1066.4 910.4 L1067.2 910.5 L1068 910.5 L1068.8 910.5 L1069.6 910.4 L1070.4 910.2 L1071.3 910 L1072.1 909.7 L1072.9 909.4 L1073.7 909 L1074.5 908.6 L1075.3 908.1 L1076.1 907.7 L1077 907.1 L1077.8 906.6 L1078.6 906.1 L1079.4 905.5 L1080.2 905 L1081 904.4 L1081.9 903.9 L1082.7 903.4 L1083.5 903 L1084.3 902.6 L1085.1 902.2 L1085.9 901.9 L1086.7 901.6 L1087.6 901.4 L1088.4 901.2 L1089.2 901.1 L1090 901.1 L1090.8 901.1 L1091.6 901.1 L1092.4 901.2 L1093.2 901.2 L1094 901.3 L1094.8 901.4 L1095.6 901.5 L1096.4 901.6 L1097.2 901.7 L1098 901.8 L1098.8 901.9 L1099.6 902.1 L1100.4 902.2 L1101.2 902.3 L1102 902.5 L1102.8 902.6 L1103.6 902.7 L1104.4 902.8" fill="none" stroke="#ff0000" stroke-width="6" stroke-linejoin="round"/>
<path d="M1100.4 902.2 L1101.2 902.3 L1102 902.5 L1102.8 902.6 L1103.6 902.7 L1104.4 902.8 L1105.2 902.9 L1106 903 L1106.8 903.1 L1107.6 903.1 L1108.4 903.2 L1109.2 903.2 L1110 903.2 L1110.8 903.2 L1111.6 903.3 L1112.4 903.5 L1113.2 903.8 L1114 904.2 L1114.9 904.6 L1115.7 905 L1116.5 905.5 L1117.3 906 L1118.1 906.6 L1118.9 907.1 L1119.7 907.7 L1120.5 908.2 L1121.3 908.7 L1122.1 909.1 L1123 909.5 L1123.8 909.9 L1124.6 910.1 L1125.4 910.3 L1126.2 910.5 L1127 910.5 L1127.8 910.5 L1128.6 910.4 L1129.4 910.3 L1130.2 910.1 L1131 909.9 L1131.8 909.7 L1132.6 909.4 L1133.4 909.1 L1134.2 908.8 L1135 908.4 L1135.8 908 L1136.6 907.6 L1137.4 907.2 L1138.2 906.8 L1139 906.3 L1139.8 905.9 L1140.6 905.5 L1141.4 905 L1142.2 904.6 L1143 904.2 L1143.8 903.9 L1144.6 903.5 L1145.4 903.2 L1146.2 902.9 L1147 902.7 L1147.8 902.5 L1148.6 902.3 L1149.4 902.2 L1150.2 902.2 L1151 902.1 L1151.8 902.2 L1152.6 902.2 L1153.4 902.3 L1154.3 902.4 L1155.1 902.5 L1155.9 902.6 L1156.7 902.8 L1157.5 903 L1158.3 903.2 L1159.1 903.5 L1160 903.7 L1160.8 904 L1161.6 904.3 L1162.4 904.6 L1163.2 905 L1164 905.3 L1164.8 905.7 L1165.7 906 L1166.5 906.4 L1167.3 906.8 L1168.1 907.2 L1168.9 907.6 L1169.7 907.9 L1170.5 908.3 L1171.3 908.7 L1172.2 909.1 L1173 909.4 L1173.8 909.8 L1174.6 910.1 L1175.4 910.4 L1176.2 910.7 L1177 911 L1177.9 911.3 L1178.7 911.5 L1179.5 911.7 L1180.3 911.9 L1181.1 912.1 L1181.9 912.2 L1182.7 912.4 L1183.6 912.5 L1184.4 912.5 L1185.2 912.6 L1186 912.6 L1186.8 912.5 L1187.6 912.4 L1188.4 912.1 L1189.3 911.8 L1190.1 911.4 L1190.9 910.9 L1191.7 910.3 L1192.5 909.6 L1193.3 908.9 L1194.1 908.2 L1195 907.4 L1195.8 906.5 L1196.6 905.7 L1197.4 904.8 L1198.2 904 L1199 903.2 L1199.9 902.4 L1200.7 901.6 L1201.5 900.9 L1202.3 900.3 L1203.1 899.7 L1203.9 899.2 L1204.7 898.7 L1205.6 898.4 L1206.4 898.2 L1207.2 898 L1208 898 L1208.8 898 L1209.7 898.2 L1210.5 898.5 L1211.3 898.9 L1212.1 899.4 L1213 900 L1213.8 900.6 L1214.6 901.3 L1215.4 902.1 L1216.3 903 L1217.1 903.8 L1217.9 904.7 L1218.7 905.5 L1219.6 906.3 L1220.4 907.1 L1221.2 907.8 L1222 908.5 L1222.9 909.1 L1223.7 909.6 L1224.5 910 L1225.3 910.3 L1226.2 910.4 L1227 910.5 L1227.8 910.5 L1228.6 910.4 L1229.5 910.2 L1230.3 910 L1231.1 909.7 L1231.9 909.4 L1232.7 909.1 L1233.5 908.7 L1234.3 908.2 L1235.2 907.8 L1236 907.3 L1236.8 906.8 L1237.6 906.4 L1238.4 905.9 L1239.2 905.4 L1240.1 905 L1240.9 904.6 L1241.7 904.3 L1242.5 903.9 L1243.3 903.7 L1244.1 903.5 L1245 903.3 L1245.8 903.2 L1246.6 903.2 L1247.4 903.2 L1248.2 903.2 L1249 903.3 L1249.9 903.4 L1250.7 903.5 L1251.5 903.6 L1252.3 903.8 L1253.1 903.9 L1253.9 904.1 L1254.8 904.3 L1255.6 904.5 L1256.4 904.8 L1257.2 905 L1258 905.2 L1258.8 905.5 L1259.7 905.8 L1260.5 906 L1261.3 906.3 L1262.1 906.6 L1262.9 906.9 L1263.8 907.1 L1264.6 907.4 L1265.4 907.6 L1266.2 907.9 L1267 908.1 L1267.8 908.3 L1268.7 908.5 L1269.5 908.7 L1270.3 908.9 L1271.1 909 L1271.9 909.2 L1272.7 909.3 L1273.5 909.3 L1274.4 909.4 L1275.2 909.4 L1276 909.5 L1276.8 909.4 L1277.6 909.4 L1278.5 909.4 L1279.3 909.3 L1280.1 909.2 L1280.9 909.1 L1281.7 909 L1282.6 908.9 L1283.4 908.7 L1284.2 908.6 L1285 908.4 L1285.8 908.2 L1286.7 908 L1287.5 907.8 L1288.3 907.6 L1289.1 907.4 L1289.9 907.2 L1290.8 906.9 L1291.6 906.7 L1292.4 906.4 L1293.2 906.2 L1294 906 L1294.8 905.7 L1295.7 905.5 L1296.5 905.3 L1297.3 905 L1298.1 904.8 L1298.9 904.6 L1299.8 904.4 L1300.6 904.2 L1301.4 904.1 L1302.2 903.9 L1303 903.8 L1303.9 903.6 L1304.7 903.5 L1305.5 903.4 L1306.3 903.3 L1307.1 903.3 L1308 903.2 L1308.8 903.2 L1309.6 903.2 L1310.4 903.2 L1311.2 903.2 L1312 903.3 L1312.8 903.4 L1313.6 903.5 L1314.4 903.6 L1315.2 903.8 L1316 904 L1316.8 904.2 L1317.6 904.4 L1318.4 904.6 L1319.2 904.8 L1320 905.1 L1320.8 905.4 L1321.6 905.7 L1322.4 905.9 L1323.2 906.2 L1324 906.5 L1324.8 906.8 L1325.6 907.1 L1326.4 907.4 L1327.2 907.7 L1328 908 L1328.8 908.3 L1329.6 908.6 L1330.4 908.8 L1331.2 909.1 L1332 909.3 L1332.8 909.5 L1333.6 909.7 L1334.4 909.9 L1335.2 910.1 L1336 910.2 L1336.8 910.3 L1337.6 910.4 L1338.4 910.5 L1339.2 910.5 L1340 910.5 L1340.8 910.5 L1341.6 910.5 L1342.4 910.5 L1343.2 910.5 L1344 910.4 L1344.8 910.4 L1345.6 910.4 L1346.4 910.3 L1347.2 910.3 L1348 910.2 L1348.8 910.1 L1349.6 910.1 L1350.4 910 L1351.2 909.9 L1352 909.9 L1352.8 909.8 L1353.6 909.7 L1354.4 909.6 L1355.2 909.5 L1356 909.4 L1356.8 909.3 L1357.6 909.2 L1358.4 909.1 L1359.2 909 L1360 908.9 L1360.8 908.8 L1361.6 908.7 L1362.4 908.6 L1363.2 908.5 L1364 908.4 L1364.8 908.4 L1365.6 908.3 L1366.4 908.2 L1367.2 908.1 L1368 908 L1368.8 907.9 L1369.6 907.9 L1370.4 907.8 L1371.2 907.7 L1372 907.7 L1372.8 907.6 L1373.6 907.6 L1374.4 907.5 L1375.2 907.5 L1376 907.4 L1376.8 907.4 L1377.6 907.4 L1378.4 907.4 L1379.2 907.4 L1380 907.4 L1380.8 907.4 L1381.6 907.4 L1382.4 907.4 L1383.2 907.4 L1384 907.4 L1384.8 907.5 L1385.6 907.5 L1386.4 907.6 L1387.2 907.6 L1388 907.7 L1388.8 907.7 L1389.6 907.8 L1390.4 907.9 L1391.2 907.9 L1392 908 L1392.8 908.1 L1393.6 908.2 L1394.4 908.3 L1395.2 908.4 L1396 908.4 L1396.8 908.5 L1397.6 908.6 L1398.4 908.7 L1399.2 908.8 L1400 908.9 L1400.8 909 L1401.6 909.1 L1402.4 909.2 L1403.2 909.3 L1404 909.4 L1404.8 909.5 L1405.6 909.6 L1406.4 909.7 L1407.2 909.8 L1408 909.9 L1408.8 909.9 L1409.6 910 L1410.4 910.1 L1411.2 910.1 L1412 910.2 L1412.8 910.3 L1413.6 910.3 L1414.4 910.4 L1415.2 910.4 L1416 910.4 L1416.8 910.5 L1417.6 910.5 L1418.4 910.5 L1419.2 910.5 L1420 910.5 L1420.8 910.5 L1421.6 910.5 L1422.4 910.5 L1423.2 910.6 L1424 910.6 L1424.8 910.7 L1425.6 910.7 L1426.4 910.8 L1427.2 910.9 L1428 911 L1428.8 911 L1429.6 911.1 L1430.4 911.2 L1431.2 911.3 L1432 911.4 L1432.8 911.5 L1433.6 911.5 L1434.4 911.6 L1435.2 911.7 L1436 911.7 L1436.8 911.8 L1437.6 911.8 L1438.4 911.8 L1439.2 911.8 L1440 911.8 L1440.9 911.8 L1441.7 911.7 L1442.6 911.6 L1443.5 911.5 L1444.3 911.5 L1445.2 911.4 L1446.1 911.4 L1447 911.2 L1447.9 911 L1448.8 910.8 L1449.7 910.7 L1450.6 910.6 L1451.4 910.9 L1452.2 911.6 L1453 912.3 L1453.9 912.5 L1454.8 912.5 L1455.7 912.4 L1456.6 912.2 L1457.5 912.1 L1458.4 911.9 L1459.3 911.8 L1460.2 911.8 L1461.2 911.4 L1462.2 910.6 L1463.2 909.8 L1464.1 909.5 L1465 909.5 L1465.8 909.6 L1466.6 909.7 L1467.4 909.8 L1468.2 909.9 L1469 910 L1469.8 910 L1470.7 910.1 L1471.5 910.3 L1472.3 910.4 L1473.1 910.5 L1473.9 910.6 L1474.8 910.6 L1475.7 910.6 L1476.6 910.6 L1477.5 910.6 L1478.3 910.6 L1479.1 910.7 L1480 910.7 L1480.8 910.8 L1481.6 910.8 L1482.4 910.9 L1483.2 910.9 L1484 910.9 L1484.9 910.9 L1485.7 910.9 L1486.6 910.8 L1487.4 910.7 L1488.3 910.6 L1489.1 910.5 L1490 910.5 L1490.8 910.4 L1491.6 910.3 L1492.4 910.3 L1493.2 910.2 L1494.1 910.3 L1495 910.6 L1495.9 910.9 L1496.8 911.3 L1497.7 911.5 L1498.6 911.6 L1499.6 911.2 L1500.7 910.3 L1501.7 909.9 L1502.5 909.9 L1503.3 910 L1504.2 910.1 L1505 910.2 L1505.8 910.3 L1506.6 910.3 L1507.4 910.3 L1508.2 910.3 L1509 910.3 L1509.9 910.3 L1510.7 910.3 L1511.5 910.3 L1512.3 910.4 L1513.1 910.4 L1514 910.4 L1514.8 910.5 L1515.6 910.7 L1516.5 910.9 L1517.3 911 L1518.1 911.2 L1519 911.3 L1519.8 911.4 L1520.7 911.3 L1521.6 911.3 L1522.5 911.3 L1523.3 911.3 L1524.2 911.2 L1525.1 911.2 L1526 911.2 L1526.8 911.1 L1527.7 911 L1528.5 910.8 L1529.4 910.5 L1530.2 910.3 L1531.1 910 L1531.9 909.9 L1532.7 909.8 L1533.6 910.2 L1534.4 911 L1535.3 911.8 L1536.1 912.2 L1537.1 911.8 L1538.1 910.9 L1539 909.9 L1540 909.6 L1541 909.7 L1541.9 909.9 L1542.9 910.3 L1543.8 910.5 L1544.8 910.6 L1545.6 910.7 L1546.4 910.8 L1547.3 910.9 L1548.1 911 L1549 911 L1549.9 911 L1550.8 911.2 L1551.7 911.3 L1552.6 911.4 L1553.5 911.5 L1554.4 911.4 L1555.3 911.3 L1556.2 911.1 L1557.1 910.9 L1557.9 910.8 L1558.8 910.8 L1559.7 910.7 L1560.5 910.7 L1561.3 910.7 L1562.1 910.6 L1563 910.5 L1563.8 910.5 L1564.6 910.5 L1565.5 910.5 L1566.3 910.4 L1567.1 910.4 L1568 910.3 L1568.8 910.2 L1569.7 910.1 L1570.5 910 L1571.3 909.9 L1572.2 909.9 L1573 909.9 L1573.9 910 L1574.8 910.1 L1575.7 910.2 L1576.5 910.3 L1577.4 910.4 L1578.3 910.5 L1579.1 910.5 L1580 910.4 L1581 910.2 L1581.9 910 L1582.8 909.9 L1583.6 909.9 L1584.5 909.9 L1585.4 909.8 L1586.2 909.8 L1587.1 909.8 L1587.9 909.8 L1588.8 909.8 L1589.6 909.8 L1590.5 909.8 L1591.4 909.9 L1592.3 910.1 L1593.2 910.2 L1594 910.3 L1594.9 910.4 L1595.9 910.3 L1596.8 910.2 L1597.8 910 L1598.8 910 L1599.7 910.1 L1600.5 910.4 L1601.4 910.8 L1602.3 911.3 L1603.2 911.6 L1604.1 911.7 L1604.9 911.4 L1605.7 910.8 L1606.5 910.2 L1607.3 909.9 L1608.2 910 L1609.1 910.3 L1609.9 910.7 L1610.8 911.1 L1611.7 911.6 L1612.5 912 L1613.4 912.2 L1614.3 912.3 L1615.2 912.3 L1616 912.1 L1616.9 911.9 L1617.8 911.7 L1618.7 911.5 L1619.6 911.4 L1620.5 911.3 L1621.4 911.4 L1622.3 911.5 L1623.2 911.6 L1624.1 911.7 L1624.9 911.6 L1625.8 911.3 L1626.7 911 L1627.6 910.6 L1628.4 910.2 L1629.3 909.9 L1630.2 909.9 L1631.2 910.1 L1632.3 910.5 L1633.3 910.7 L1634.4 910.6 L1635.5 910.4 L1636.5 910.3 L1637.4 910.3 L1638.2 910.2 L1639.1 910 L1640 909.9 L1640.8 909.8 L1641.7 909.9 L1642.6 910 L1643.4 910.2 L1644.3 910.4 L1645.2 910.6 L1646 910.8 L1646.9 911 L1647.8 911 L1648.6 911 L1649.5 911.1 L1650.4 911.2 L1651.3 911.3 L1652.1 911.4 L1653 911.5 L1653.9 911.6 L1654.8 911.6 L1655.6 911.5 L1656.4 911.2 L1657.2 910.8 L1658.1 910.7 L1659.1 911 L1660.1 911.7 L1661.2 912 L1662.1 911.8 L1663 911.5 L1664 911.1 L1664.9 910.8 L1665.8 910.7 L1666.7 910.9 L1667.6 911.6 L1668.5 912.2 L1669.4 912.5 L1670.3 912.4 L1671.1 912.3 L1671.9 912.2 L1672.7 912 L1673.5 911.9 L1674.3 911.7 L1675.1 911.6 L1675.9 911.6 L1676.8 911.5 L1677.6 911.3 L1678.5 911 L1679.3 910.7 L1680.2 910.3 L1681 910 L1681.9 909.8 L1682.7 909.8 L1683.7 909.9 L1684.6 910.3 L1685.5 910.7 L1686.4 911 L1687.3 911.1 L1688.1 911.1 L1689 911 L1689.8 910.9 L1690.6 910.7 L1691.5 910.6 L1692.3 910.6 L1693.2 910.6 L1694.1 910.6 L1695 910.7 L1695.9 910.8 L1696.8 910.8 L1697.7 910.8 L1698.6 910.8 L1699.5 910.5 L1700.5 910.2 L1701.4 909.9 L1702.3 909.7 L1703.2 909.6 L1704 909.7 L1704.9 910 L1705.7 910.4 L1706.6 910.8 L1707.4 911.1 L1708.2 911.2 L1709.1 911.3 L1709.9 911.4 L1710.8 911.5 L1711.6 911.6 L1712.4 911.7 L1713.3 911.8 L1714.1 911.8 L1715 911.6 L1715.8 911 L1716.6 910.3 L1717.5 909.7 L1718.3 909.5 L1719.2 909.6 L1720 909.9 L1720.9 910.2 L1721.7 910.5 L1722.6 910.8 L1723.4 910.9 L1724.4 911 L1725.4 911.2 L1726.4 911.3 L1727.3 911.4 L1728.2 911.6 L1729.1 911.9 L1730 912.2 L1730.9 912.4 L1731.8 912.5 L1732.7 912.4 L1733.6 912 L1734.5 911.6 L1735.4 911.1 L1736.3 910.7 L1737.2 910.6 L1738 910.6 L1738.9 910.6 L1739.7 910.6 L1740.5 910.6 L1741.3 910.6 L1742.1 910.6 L1742.9 910.5 L1743.7 910.5 L1744.5 910.5 L1745.3 910.5 L1746.2 910.5 L1747.1 910.4 L1748 910.4 L1748.9 910.4 L1749.7 910.4 L1750.7 910.5 L1751.6 911 L1752.6 911.4 L1753.5 911.5" fill="none" stroke="#ff0000" stroke-width="4.8" stroke-linejoin="round"/>
<path d="M214 926.2 L214.8 926.4 L215.7 926.9 L216.5 927.7 L217.3 928.4 L218.2 929 L219 929.2 L219.9 928.9 L220.8 928.1 L221.7 927.1 L222.5 926.1 L223.4 925.3 L224.3 925.1 L225.1 925.1 L225.9 925.2 L226.8 925.5 L227.6 925.7 L228.4 926.1 L229.2 926.4 L230 926.7 L230.8 927.1 L231.7 927.3 L232.5 927.6 L233.3 927.7 L234.1 927.7 L234.9 927.7 L235.7 927.5 L236.5 927.2 L237.4 926.9 L238.2 926.5 L239 926.1 L239.8 925.8 L240.6 925.7 L241.4 925.6 L242.2 925.6 L243.1 925.8 L243.9 926 L244.7 926.3 L245.5 926.6 L246.4 926.8 L247.2 927 L248 927 L248.8 927 L249.6 927 L250.5 927 L251.3 927 L252.1 927 L252.9 927 L253.7 927 L254.6 927 L255.5 927 L256.3 927 L257.2 927.1 L258.1 927.2 L259 927.2 L259.9 927.3 L260.8 927.4 L261.7 927.4 L262.5 927.4 L263.4 927.3 L264.3 927 L265.1 926.5 L266 925.9 L266.8 925.4 L267.7 924.9 L268.6 924.6 L269.4 924.5 L270.3 924.5 L271.1 924.7 L272 924.9 L272.8 925.2 L273.6 925.5 L274.5 925.7 L275.3 926 L276.2 926.1 L277 926.2 L277.8 928.1 L278.6 933.5 L279.4 941.2 L280.3 949.8 L281.1 957.6 L281.9 962.9 L282.7 964.8 L283.5 963.1 L284.3 957.9 L285.1 949.5 L285.9 938.3 L286.7 924.9 L287.5 910 L288.4 894.3 L289.2 878.6 L290 863.7 L290.8 850.3 L291.6 839.2 L292.4 830.8 L293.2 825.5 L294 823.8 L294.8 826.4 L295.7 834.2 L296.5 846.7 L297.3 863.5 L298.2 883.9 L299 906.8 L299.8 931.4 L300.7 956.5 L301.5 981.1 L302.3 1004 L303.2 1024.4 L304 1041.2 L304.8 1053.7 L305.7 1061.5 L306.5 1064.1 L307.3 1061.5 L308.1 1053.8 L308.9 1041.3 L309.7 1024.4 L310.6 1003.7 L311.4 979.8 L312.2 953.7 L313 926.1 L313.8 898 L314.6 870.5 L315.4 844.3 L316.2 820.4 L317.1 799.7 L317.9 782.8 L318.7 770.3 L319.5 762.6 L320.3 760 L321.1 763.6 L322 774.1 L322.8 791.2 L323.6 814 L324.5 841.5 L325.3 872.7 L326.1 906 L327 940.1 L327.8 973.4 L328.6 1004.5 L329.5 1032.1 L330.3 1054.9 L331.1 1072 L332 1082.5 L332.8 1086.1 L333.6 1083.6 L334.5 1076.2 L335.3 1064.2 L336.2 1047.9 L337 1027.8 L337.8 1004.5 L338.7 978.8 L339.5 951.3 L340.4 923 L341.2 894.7 L342 867.3 L342.9 841.5 L343.7 818.3 L344.5 798.2 L345.4 781.9 L346.2 769.9 L347.1 762.5 L347.9 760 L348.7 763.6 L349.6 774.2 L350.4 791.5 L351.2 814.5 L352.1 842.3 L352.9 873.7 L353.7 907.4 L354.6 941.8 L355.4 975.5 L356.2 1006.9 L357.1 1034.7 L357.9 1057.8 L358.7 1075 L359.6 1085.6 L360.4 1089.2 L361.2 1086.4 L362 1078.2 L362.8 1064.9 L363.6 1046.8 L364.5 1024.6 L365.3 999.1 L366.1 971.2 L366.9 941.7 L367.7 911.7 L368.5 882.2 L369.3 854.3 L370.1 828.8 L371 806.6 L371.8 788.5 L372.6 775.2 L373.4 767 L374.2 764.2 L375 768.2 L375.8 779.8 L376.6 798.6 L377.4 823.6 L378.2 853.5 L379 886.9 L379.9 922 L380.7 957.1 L381.5 990.5 L382.3 1020.4 L383.1 1045.4 L383.9 1064.2 L384.7 1075.8 L385.5 1079.8 L386.3 1077.4 L387.2 1070.4 L388 1058.9 L388.8 1043.4 L389.7 1024.2 L390.5 1001.9 L391.3 977.3 L392.2 951.1 L393 924.1 L393.8 897 L394.7 870.8 L395.5 846.2 L396.3 824 L397.2 804.8 L398 789.2 L398.8 777.8 L399.7 770.7 L400.5 768.4 L401.3 771.8 L402.2 781.8 L403 798.1 L403.8 819.9 L404.7 846.2 L405.5 876 L406.3 907.8 L407.2 940.4 L408 972.2 L408.8 1001.9 L409.7 1028.3 L410.5 1050.1 L411.3 1066.3 L412.2 1076.4 L413 1079.8 L413.8 1077.4 L414.7 1070.3 L415.5 1058.6 L416.4 1042.9 L417.2 1023.4 L418 1000.9 L418.9 976 L419.7 949.4 L420.6 922 L421.4 894.6 L422.2 868 L423.1 843.1 L423.9 820.6 L424.7 801.1 L425.6 785.3 L426.4 773.7 L427.3 766.6 L428.1 764.2 L428.9 767.6 L429.8 777.8 L430.6 794.3 L431.4 816.4 L432.3 843.1 L433.1 873.2 L433.9 905.5 L434.8 938.5 L435.6 970.8 L436.4 1000.9 L437.3 1027.6 L438.1 1049.7 L438.9 1066.1 L439.8 1076.3 L440.6 1079.8 L441.4 1077.1 L442.2 1069 L443 1055.8 L443.8 1037.9 L444.7 1016 L445.5 990.9 L446.3 963.3 L447.1 934.2 L447.9 904.6 L448.7 875.5 L449.5 847.9 L450.3 822.7 L451.2 800.8 L452 783 L452.8 769.8 L453.6 761.7 L454.4 759 L455.2 761.8 L456 770.1 L456.8 783.7 L457.6 802.1 L458.5 824.6 L459.3 850.5 L460.1 878.9 L460.9 908.9 L461.7 939.3 L462.5 969.3 L463.3 997.7 L464.1 1023.6 L465 1046.1 L465.8 1064.5 L466.6 1078 L467.4 1086.4 L468.2 1089.2 L469 1086.7 L469.9 1079.4 L470.7 1067.5 L471.5 1051.3 L472.4 1031.3 L473.2 1008.2 L474 982.6 L474.9 955.3 L475.7 927.2 L476.5 899.1 L477.4 871.8 L478.2 846.2 L479 823.1 L479.9 803.1 L480.7 786.9 L481.5 775 L482.4 767.7 L483.2 765.2 L484 767.9 L484.8 775.9 L485.6 788.8 L486.4 806.3 L487.3 827.7 L488.1 852.4 L488.9 879.5 L489.7 908 L490.5 937 L491.3 965.6 L492.1 992.6 L492.9 1017.3 L493.8 1038.7 L494.6 1056.2 L495.4 1069.2 L496.2 1077.1 L497 1079.8 L497.8 1077.1 L498.6 1069.3 L499.4 1056.5 L500.2 1039.3 L501.1 1018.1 L501.9 993.8 L502.7 967.1 L503.5 938.9 L504.3 910.3 L505.1 882.1 L505.9 855.4 L506.7 831.1 L507.6 809.9 L508.4 792.7 L509.2 779.9 L510 772.1 L510.8 769.4 L511.6 772.1 L512.4 779.9 L513.2 792.7 L514 809.9 L514.9 831.1 L515.7 855.4 L516.5 882.1 L517.3 910.3 L518.1 938.9 L518.9 967.1 L519.7 993.8 L520.5 1018.1 L521.4 1039.3 L522.2 1056.5 L523 1069.3 L523.8 1077.1 L524.6 1079.8 L525.4 1076.3 L526.3 1065.8 L527.1 1048.9 L527.9 1026.2 L528.8 998.8 L529.6 967.9 L530.4 934.7 L531.3 900.9 L532.1 867.8 L532.9 836.8 L533.8 809.4 L534.6 786.8 L535.4 769.8 L536.3 759.4 L537.1 755.8 L537.9 758.3 L538.8 765.5 L539.6 777.3 L540.4 793.4 L541.3 813.1 L542.1 836 L542.9 861.4 L543.8 888.4 L544.6 916.2 L545.4 944.1 L546.3 971.1 L547.1 996.5 L547.9 1019.4 L548.8 1039.1 L549.6 1055.2 L550.4 1067 L551.3 1074.2 L552.1 1076.7 L553 1071.1 L553.9 1055.1 L554.7 1030.1 L555.6 998.7 L556.5 963.8 L557.4 928.9 L558.3 897.5 L559.1 872.5 L560 856.5 L560.9 850.9 L561.7 851.7 L562.5 853.9 L563.3 857.4 L564.1 862.3 L564.9 868.2 L565.7 875 L566.5 882.4 L567.3 890.3 L568.2 898.3 L569 906.2 L569.8 913.6 L570.6 920.4 L571.4 926.4 L572.2 931.2 L573 934.7 L573.8 936.9 L574.6 937.7 L575.4 937.6 L576.2 937.4 L577.1 937.1 L577.9 936.6 L578.7 936 L579.5 935.3 L580.4 934.5 L581.2 933.5 L582 932.5 L582.8 931.5 L583.6 930.3 L584.5 929.1 L585.3 927.9 L586.1 926.7 L586.9 925.5 L587.7 924.3 L588.6 923.1 L589.4 921.9 L590.2 920.9 L591 919.9 L591.9 918.9 L592.7 918.1 L593.5 917.4 L594.3 916.8 L595.1 916.3 L596 916 L596.8 915.8 L597.6 915.7 L598.4 915.8 L599.3 916.1 L600.1 916.7 L601 917.4 L601.8 918.2 L602.7 919.2 L603.5 920.3 L604.4 921.4 L605.2 922.6 L606.1 923.7 L606.9 924.8 L607.8 925.8 L608.6 926.6 L609.5 927.3 L610.3 927.8 L611.2 928.2 L612 928.3 L612.8 928.2 L613.6 927.9 L614.4 927.5 L615.2 926.9 L616.1 926.2 L616.9 925.4 L617.7 924.5 L618.5 923.6 L619.3 922.6 L620.1 921.8 L620.9 920.9 L621.8 920.2 L622.6 919.7 L623.4 919.2 L624.2 919 L625 918.9 L625.8 918.9 L626.7 919 L627.5 919.1 L628.3 919.3 L629.2 919.6 L630 919.9 L630.8 920.2 L631.7 920.6 L632.5 920.9 L633.3 921.3 L634.2 921.7 L635 922 L635.8 922.3 L636.7 922.6 L637.5 922.8 L638.3 922.9 L639.2 923 L640 923 L640.8 923 L641.7 922.9 L642.5 922.7 L643.3 922.4 L644.2 922.1 L645 921.7 L645.8 921.3 L646.7 920.9 L647.5 920.4 L648.3 920 L649.2 919.5 L650 919.1 L650.8 918.7 L651.7 918.4 L652.5 918.2 L653.3 918 L654.2 917.9 L655 917.8 L655.8 917.9 L656.6 918.1 L657.4 918.4 L658.2 918.9 L659.1 919.4 L659.9 920.1 L660.7 920.8 L661.5 921.5 L662.3 922.2 L663.1 922.9 L663.9 923.5 L664.8 924.1 L665.6 924.5 L666.4 924.9 L667.2 925.1 L668 925.1 L668.8 925.1 L669.6 924.9 L670.4 924.5 L671.2 924.1 L672 923.6 L672.8 923 L673.6 922.3 L674.4 921.7 L675.2 921 L676 920.4 L676.8 919.9 L677.6 919.5 L678.4 919.1 L679.2 918.9 L680 918.9 L680.8 918.9 L681.6 919 L682.5 919.3 L683.3 919.5 L684.1 919.9 L684.9 920.3 L685.8 920.8 L686.6 921.2 L687.4 921.7 L688.2 922.2 L689.1 922.6 L689.9 923 L690.7 923.4 L691.5 923.7 L692.4 923.9 L693.2 924 L694 924.1 L694.8 924 L695.7 923.7 L696.5 923.3 L697.4 922.7 L698.2 922.1 L699.1 921.3 L699.9 920.6 L700.8 919.8 L701.6 919.2 L702.5 918.6 L703.3 918.2 L704.2 917.9 L705 917.8 L705.8 917.9 L706.7 918 L707.5 918.2 L708.3 918.4 L709.2 918.7 L710 919.1 L710.8 919.5 L711.7 920 L712.5 920.4 L713.3 920.9 L714.2 921.3 L715 921.7 L715.8 922.1 L716.7 922.4 L717.5 922.7 L718.3 922.9 L719.2 923 L720 923 L720.8 923.1 L721.6 923.2 L722.4 923.3 L723.2 923.5 L724.1 923.7 L724.9 924 L725.7 924.3 L726.5 924.6 L727.3 924.9 L728.1 925.2 L728.9 925.5 L729.8 925.7 L730.6 925.9 L731.4 926.1 L732.2 926.1 L733 926.2 L733.8 926.1 L734.7 925.9 L735.5 925.5 L736.3 925.1 L737.2 924.5 L738 923.8 L738.8 923.1 L739.7 922.3 L740.5 921.5 L741.3 920.7 L742.2 919.9 L743 919.1 L743.8 918.4 L744.7 917.9 L745.5 917.4 L746.3 917.1 L747.2 916.8 L748 916.8 L748.8 916.8 L749.6 917 L750.4 917.4 L751.2 917.8 L752 918.3 L752.8 918.9 L753.6 919.6 L754.4 920.2 L755.2 920.9 L756 921.5 L756.8 922 L757.6 922.4 L758.4 922.8 L759.2 923 L760 923 L760.8 923.1 L761.7 923.2 L762.5 923.3 L763.3 923.4 L764.2 923.5 L765 923.5 L765.8 923.7 L766.7 924 L767.5 924.6 L768.4 925.1 L769.2 925.5 L770.1 925.7 L770.9 925.1 L771.7 923.6 L772.5 922.1 L773.4 921.5 L774.2 922.3 L775 924.1 L775.9 925.9 L776.7 926.7 L777.5 926.3 L778.3 925.2 L779.1 923.9 L779.9 922.8 L780.7 922.4 L781.7 923.2 L782.6 924.8 L783.6 925.6 L784.5 924.9 L785.4 923.4 L786.3 921.9 L787.2 921.3 L788 921.3 L788.8 921.2 L789.7 921.2 L790.5 921.1 L791.3 921.1 L792.3 922.2 L793.3 924.4 L794.4 925.5 L795.3 925 L796.3 923.9 L797.2 922.5 L798.2 921.3 L799.1 920.9 L800 921.4 L800.8 922.8 L801.6 924.5 L802.4 925.9 L803.2 926.4 L804.2 925.7 L805.2 924.5 L806.1 923.8 L807.2 923.3 L808.3 922.1 L809.3 921.5 L810.2 921.9 L811.1 922.8 L812 924.1 L812.9 925.4 L813.8 926.4 L814.7 926.7 L815.6 926 L816.5 924.1 L817.3 922.3 L818.2 921.5 L819.2 921.5 L820.1 921.5 L821.1 921.5 L822 921.5 L823 921.5 L823.9 922.4 L824.8 924.4 L825.7 926.4 L826.7 927.2 L827.6 926.4 L828.4 924.4 L829.3 922.4 L830.2 921.6 L831.1 922.2 L831.9 923.5 L832.8 924.8 L833.6 925.4 L834.6 925.3 L835.6 925.1 L836.6 924.8 L837.6 924.8 L838.6 924.1 L839.6 922.7 L840.6 921.2 L841.5 920.6 L842.6 922.5 L843.6 926.3 L844.6 928.2 L845.4 927.9 L846.2 926.8 L847.1 925.4 L847.9 923.8 L848.7 922.3 L849.6 921.3 L850.4 920.9 L851.2 921.1 L852.1 921.6 L852.9 922.4 L853.8 923.2 L854.6 923.9 L855.5 924.4 L856.3 924.6 L857.2 924.4 L858 923.9 L858.8 923 L859.7 922.1 L860.5 921.3 L861.3 920.7 L862.2 920.5 L863 920.7 L863.8 921.3 L864.6 921.8 L865.4 922 L866.3 922.1 L867.3 922.2 L868.2 922.4 L869.1 922.5 L870 922.7 L870.9 922.7 L871.7 923 L872.6 923.8 L873.5 924.8 L874.3 925.6 L875.2 925.8 L876.1 925.9 L877 926.1 L878 926.3 L878.9 926.4 L879.8 925.6 L880.7 924.1 L881.6 923.3 L882.5 923.1 L883.4 922.4 L884.2 921.8 L885.1 921.5 L886 921.3 L886.9 920.9 L887.8 920.7 L888.6 920.7 L889.4 920.7 L890.2 920.6 L891.1 920.6 L891.9 920.6 L892.7 920.5 L893.5 920.6 L894.3 920.6 L895.1 920.6 L895.9 920.7 L896.7 920.7 L897.5 920.7 L898.3 920.7 L899.3 921.5 L900.2 923.3 L901.1 925.6 L902 927.4 L902.9 928.2 L903.7 928.1 L904.6 927.8 L905.4 927.5 L906.3 927.2 L907.1 926.9 L908 926.8 L908.9 926.2 L909.7 924.8 L910.6 923.3 L911.5 922.7 L912.4 922.9 L913.3 923.4 L914.1 924.1 L915 924.6 L915.9 924.8 L916.7 924.7 L917.5 924.5 L918.3 924.2 L919.2 923.8 L920 923.5 L920.8 923.2 L921.6 923.1 L922.6 923.6 L923.5 924.7 L924.4 925.7 L925.3 926.2 L926.3 926 L927.2 925.7 L928.1 925.2 L929 924.7 L929.9 924.4 L930.9 924.3 L931.7 924.3 L932.6 924.5 L933.5 924.8 L934.4 925.1 L935.2 925.3 L936.1 925.3 L937.2 924.9 L938.2 924.2 L939.3 923.8 L940.2 924 L941.1 924.6 L942 925.3 L942.9 926.1 L943.8 926.6 L944.6 926.8 L945.5 926.4 L946.4 925.3 L947.3 923.7 L948.2 922.1 L949 921 L949.9 920.6 L950.8 920.6 L951.7 920.8 L952.6 921 L953.5 921.2 L954.4 921.3 L955.2 921.4 L956.1 921.8 L956.9 922.6 L957.8 923 L958.7 923.3 L959.6 924.2 L960.5 925.4 L961.4 926.6 L962.4 927.5 L963.3 927.8 L964.1 927.6 L965 926.9 L965.9 926.3 L966.7 926 L967.6 925.9 L968.5 925.6 L969.3 925.2 L970.2 924.9 L971.1 924.7 L971.9 924.4 L972.7 923.7 L973.6 922.8 L974.4 922.1 L975.2 921.8 L976.1 923.3 L976.9 926.3 L977.7 927.8 L978.7 927.7 L979.7 927.4 L980.7 927.2 L981.6 925.4 L982.5 921.9 L983.4 920.1 L984.3 920.6 L985.3 922 L986.2 923.8 L987.1 925.7 L988 927 L988.9 927.5 L989.8 927.4 L990.6 926.9 L991.5 926.3 L992.3 925.8 L993.2 925.6 L994.1 925.6 L995 925.5 L995.9 925.4 L996.8 925.3 L997.7 925.1 L998.7 924.6 L999.6 924 L1000.6 923.5 L1001.5 923.4 L1002.5 923.8 L1003.4 925 L1004.4 926.2 L1005.3 926.7 L1006.2 926.7 L1007.1 926.9 L1008 927.1 L1009 927.2 L1009.8 926.8 L1010.7 925.5 L1011.6 924 L1012.5 922.8 L1013.4 922.3 L1014.4 923.1 L1015.3 924.9 L1016.3 926.8 L1017.2 927.6 L1018.3 927 L1019.3 925.8 L1020.4 925.1 L1021.3 924.8 L1022.2 924 L1023.1 922.9 L1024 922 L1025 921.7 L1025.9 921.7 L1026.9 921.6 L1027.8 921.6 L1028.8 921.6 L1029.7 921.9 L1030.7 922.6 L1031.6 923.6 L1032.5 924.4 L1033.5 924.7 L1034.4 924.6 L1035.4 924.4 L1036.3 924.2 L1037.3 924.1 L1038.1 924.2 L1038.9 924.3 L1039.8 924.4 L1040.6 924.6 L1041.4 924.7 L1042.2 924.7 L1043.1 924.7 L1043.9 924.7 L1044.7 924.6 L1045.5 924.5 L1046.3 924.4 L1047.2 924.4 L1048 924.3 L1048.8 924.1 L1049.7 923.9 L1050.5 923.8 L1051.4 924 L1052.2 924.8 L1053 925.7 L1053.8 926.7 L1054.6 927.4 L1055.5 927.7 L1056.5 927.2 L1057.5 926.2 L1058.5 925.1 L1059.4 924.7 L1060.4 924.4 L1061.3 923.6 L1062.2 922.6 L1063.2 921.5 L1064.1 920.7 L1065 920.4 L1066 920.5 L1066.9 920.6 L1067.9 920.7 L1068.8 920.8 L1069.7 921.1 L1070.6 922.1 L1071.5 923.4 L1072.3 924.7 L1073.2 925.7 L1074.1 926.1 L1074.9 926.2 L1075.8 926.5 L1076.6 926.8 L1077.4 927.1 L1078.2 927.2 L1079.1 926.9 L1080 926.1 L1080.9 925 L1081.8 923.9 L1082.7 923 L1083.6 922.7 L1084.4 922.7 L1085.2 922.5 L1086 922.3 L1086.8 922.1 L1087.6 921.8 L1088.4 921.7 L1089.2 921.6 L1090 921.7 L1090.8 921.8 L1091.6 921.9 L1092.4 922 L1093.2 922.1 L1094 922.1 L1094.9 922.6 L1095.8 924 L1096.7 925.6 L1097.6 926.9 L1098.5 927.4 L1099.4 927.5 L1100.3 927.7 L1101.2 927.9 L1102.1 928.1 L1103 928.2 L1104 926.6 L1105.1 923.4 L1106.1 921.8 L1106.9 923.2 L1107.8 926.1 L1108.7 927.5 L1109.7 925.8 L1110.6 922.6 L1111.6 920.9 L1112.6 922.7 L1113.6 926.3 L1114.7 928.1 L1115.6 928 L1116.5 927.9 L1117.4 927.7 L1118.3 927.5 L1119.2 927.3 L1120.1 927.3 L1121 926.9 L1121.9 926.1 L1122.9 924.9 L1123.8 923.8 L1124.7 922.9 L1125.6 922.6 L1126.5 922.5 L1127.4 922.1 L1128.3 921.5 L1129.2 920.9 L1130.1 920.5 L1131 920.3 L1131.9 920.4 L1132.8 920.7 L1133.7 921.1 L1134.6 921.5 L1135.5 921.6 L1136.4 921.7 L1137.3 921.8 L1138.2 921.8 L1139 921.9 L1139.9 922 L1140.7 922.1 L1141.6 922.2 L1142.4 922.3 L1143.4 922.2 L1144.4 922.1 L1145.3 922 L1146.1 922.3 L1147 923.1 L1147.8 924.2 L1148.6 925.5 L1149.4 926.7 L1150.3 927.5 L1151.1 927.8 L1152 927.1 L1152.9 925.7 L1153.8 924.2 L1154.7 923.6 L1155.6 923.7 L1156.5 924.2 L1157.4 924.9 L1158.3 925.6 L1159.2 926.1 L1160.1 926.2 L1161.2 926.2 L1162.2 926.2 L1163.3 926.2 L1164.2 925.8 L1165.1 924.7 L1166.1 923.4 L1167 922.4 L1167.9 922 L1168.9 922.4 L1169.9 923.6 L1170.8 924.7 L1171.8 925.2 L1172.8 925.2 L1173.7 925.3 L1174.7 925.3 L1175.7 925.3 L1176.7 925.7 L1177.7 926.5 L1178.7 927.2 L1179.6 927.6 L1180.5 926.9 L1181.3 925 L1182.2 922.7 L1183 920.8 L1183.9 920.1 L1184.9 920.4 L1185.9 921.1 L1186.9 921.7 L1187.8 922 L1188.9 922.1 L1189.9 922.4 L1190.9 922.5 L1191.8 922.5 L1192.6 922.5 L1193.5 922.6 L1194.3 922.6 L1195.2 922.6 L1196 922.6 L1196.9 922.8 L1197.8 923.2 L1198.6 923.7 L1199.5 924.1 L1200.4 924.2 L1201.3 923.9 L1202.3 923 L1203.2 922 L1204.2 921.1 L1205.1 920.8 L1206.1 922.4 L1207.1 925.8 L1208.1 927.5 L1209 927 L1209.8 925.7 L1210.7 924 L1211.5 922.3 L1212.4 921.1 L1213.2 920.6 L1214.1 921 L1215 922 L1215.8 923.2 L1216.7 924.2 L1217.6 924.6 L1218.4 924.7 L1219.2 925.1 L1220.1 925.6 L1220.9 926.2 L1221.7 926.6 L1222.6 926.7 L1223.4 926.7 L1224.3 926.7 L1225.2 926.6 L1226 926.6 L1226.9 926.5 L1227.8 926.3 L1228.7 926 L1229.7 925.7 L1230.6 925.6 L1231.4 925.2 L1232.2 924.1 L1233 922.9 L1233.9 922.5 L1234.7 922.7 L1235.5 923.1 L1236.4 923.8 L1237.2 924.5 L1238 925.2 L1238.9 925.6 L1239.7 925.8 L1240.5 925.7 L1241.4 925.5 L1242.2 925.3 L1243 925.1 L1243.9 924.9 L1244.7 924.8 L1245.6 924.7 L1246.5 924.5 L1247.4 924.1 L1248.3 923.7 L1249.3 923.5 L1250.2 923.4 L1251 923.8 L1251.9 924.9 L1252.7 926 L1253.6 926.4 L1254.5 925.9 L1255.3 924.8 L1256.2 924.3 L1257.1 924.6 L1258.1 925.5 L1259.1 926.4 L1260 926.8 L1261 926.6 L1261.9 926.2 L1262.8 925.8 L1263.8 925.6 L1264.7 925.7 L1265.5 925.9 L1266.4 926.3 L1267.3 926.7 L1268.1 927 L1269 927.1 L1269.8 926.9 L1270.7 926.5 L1271.6 926 L1272.4 925.3 L1273.3 924.8 L1274.1 924.4 L1275 924.3 L1275.9 924.3 L1276.8 924.3 L1277.7 924.3 L1278.6 924.3 L1279.6 924.4 L1280.5 924.2 L1281.4 923.6 L1282.3 922.9 L1283.2 922.1 L1284.1 921.6 L1285 921.4 L1285.9 921.7 L1286.8 922.4 L1287.7 923.3 L1288.5 924 L1289.4 924.2 L1290.3 924 L1291.1 923.5 L1291.9 922.7 L1292.8 921.9 L1293.6 921.3 L1294.5 921.1 L1295.4 921.3 L1296.4 921.6 L1297.4 922 L1298.4 922.1 L1299.2 922.2 L1300 922.6 L1300.9 923 L1301.7 923.5 L1302.5 923.9 L1303.4 924.2 L1304.2 924.4 L1305 924.6 L1305.9 925.3 L1306.7 926 L1307.5 926.3 L1308.4 926.1 L1309.2 925.4 L1310 924.5 L1310.9 923.5 L1311.7 922.9 L1312.5 922.6 L1313.4 922.5 L1314.2 922.3 L1315 922 L1315.9 921.7 L1316.7 921.4 L1317.5 921.2 L1318.4 921.1 L1319.2 921.9 L1320.1 923.9 L1320.9 925.9 L1321.7 926.7 L1322.6 926.7 L1323.4 926.7 L1324.3 926.7 L1325.1 926.7 L1326 926.3 L1326.8 925.3 L1327.6 923.9 L1328.4 922.5 L1329.3 921.5 L1330.1 921.1 L1330.9 921.3 L1331.7 922 L1332.5 923 L1333.3 924.2 L1334.1 925.2 L1334.9 925.9 L1335.8 926.1 L1336.7 926.1 L1337.6 926 L1338.5 925.9 L1339.4 925.8 L1340.4 925.7 L1341.3 925.6 L1342.3 925.1 L1343.3 923.9 L1344.3 922.7 L1345.3 922.2 L1346.2 923.5 L1347.1 926.2 L1348.1 927.5 L1349 927.4 L1349.9 927.1 L1350.8 926.7 L1351.7 926.2 L1352.6 925.9 L1353.5 925.8 L1354.4 925.5 L1355.4 924.6 L1356.3 923.8 L1357.2 923.4 L1358 923.7 L1358.9 924.6 L1359.7 925.8 L1360.5 927 L1361.3 927.9 L1362.1 928.2 L1363 927.7 L1363.9 926.4 L1364.8 925.1 L1365.8 924.6 L1366.6 924.8 L1367.4 925.3 L1368.3 925.9 L1369.1 926.3 L1370 926.5 L1370.9 925.9 L1371.8 924.4 L1372.7 922.4 L1373.6 920.9 L1374.5 920.3 L1375.5 920.8 L1376.5 922 L1377.4 923.2 L1378.4 923.7 L1379.4 924.3 L1380.3 925.4 L1381.3 926 L1382.1 926.1 L1382.9 926.3 L1383.7 926.6 L1384.5 927 L1385.3 927.2 L1386.1 927.3 L1386.9 927 L1387.7 926.1 L1388.5 924.7 L1389.3 923.3 L1390.1 921.9 L1390.9 921 L1391.7 920.7 L1392.7 920.6 L1393.6 920.5 L1394.6 920.4 L1395.5 920.6 L1396.5 921.1 L1397.4 921.6 L1398.4 921.8 L1399.2 922.1 L1400.1 922.8 L1401 923.8 L1401.8 924.8 L1402.7 925.5 L1403.5 925.8 L1404.3 925.6 L1405.2 925 L1406 924.3 L1406.8 923.5 L1407.6 923 L1408.4 922.8 L1409.3 923 L1410.2 923.6 L1411.1 924.4 L1411.9 925.2 L1412.8 925.8 L1413.7 926 L1414.6 925.7 L1415.4 924.6 L1416.3 923.1 L1417.1 921.7 L1418 920.6 L1418.9 920.2 L1419.7 920.5 L1420.5 921.1 L1421.3 922 L1422.1 922.9 L1422.9 923.5 L1423.7 923.8 L1424.7 923.9 L1425.6 924 L1426.6 924.1 L1427.5 923.9 L1428.5 923.2 L1429.4 922.5 L1430.3 922.3 L1431.2 922.3 L1432 922.6 L1432.8 922.9 L1433.6 923.2 L1434.4 923.4 L1435.2 923.5 L1436.3 923.4 L1437.3 923 L1438.4 922.9 L1439.3 923.2 L1440.2 924.2 L1441.2 925.4 L1442.1 926.4 L1443.1 926.8 L1443.9 926.6 L1444.7 926 L1445.5 925.2 L1446.3 924.3 L1447.1 923.5 L1447.9 923 L1448.7 922.8 L1449.7 922.2 L1450.6 921.1 L1451.6 920.5 L1452.6 921.7 L1453.6 924.2 L1454.6 925.5 L1455.4 925.3 L1456.3 924.9 L1457.1 924.4 L1458 923.8 L1458.8 923.4 L1459.6 923.3 L1460.5 923.2 L1461.4 923.1 L1462.3 923 L1463.2 922.9 L1464.1 922.9 L1464.9 923.1 L1465.7 923.8 L1466.5 924.7 L1467.4 925.4 L1468.2 925.7 L1469.2 926.2 L1470.3 927.2 L1471.3 927.7 L1472.1 927.3 L1473 926.3 L1473.8 924.8 L1474.6 923.4 L1475.5 922.3 L1476.3 922 L1477.2 922 L1478.1 922 L1478.9 922 L1479.8 922.1 L1480.7 922.1 L1481.6 922.7 L1482.6 924.1 L1483.5 925.5 L1484.5 926 L1485.4 925.3 L1486.4 923.5 L1487.3 921.7 L1488.3 921 L1489.2 921.7 L1490.1 923.3 L1490.9 924 L1491.8 923.7 L1492.6 922.9 L1493.5 922.2 L1494.3 921.8 L1495.2 922.4 L1496.2 923.7 L1497.1 924.9 L1498 925.5 L1499 925.2 L1500 924.6 L1501 924 L1502 923.7 L1502.8 923.8 L1503.7 924.1 L1504.6 924.5 L1505.4 924.9 L1506.3 925.2 L1507.2 925.3 L1508.1 925.4 L1509 925.8 L1509.9 926.3 L1510.8 926.8 L1511.7 927.2 L1512.6 927.3 L1513.5 927.3 L1514.3 927.4 L1515.2 927.4 L1516.1 927.4 L1517 926 L1518 923.2 L1519 921.8 L1519.8 922.1 L1520.6 923 L1521.5 924.2 L1522.3 925.5 L1523.2 926.4 L1524 926.7 L1525.1 926.2 L1526.1 925.3 L1527.2 924.8 L1528 924.6 L1528.9 923.9 L1529.7 923.1 L1530.6 922.3 L1531.4 921.7 L1532.3 921.4 L1533.1 921.6 L1534 921.9 L1534.8 922.4 L1535.7 922.8 L1536.5 923.2 L1537.4 923.3 L1538.4 923.7 L1539.4 924.5 L1540.4 924.9 L1541.5 924.7 L1542.5 924.1 L1543.6 923.9 L1544.5 924.1 L1545.4 924.8 L1546.3 925.6 L1547.2 926.3 L1548.1 926.6 L1548.9 925.9 L1549.8 924.2 L1550.6 922.4 L1551.4 921.7 L1552.3 921.7 L1553.2 921.6 L1554.1 921.6 L1554.9 921.5 L1555.7 921.3 L1556.5 921.1 L1557.3 920.8 L1558.1 920.6 L1558.9 920.4 L1559.7 920.3 L1560.6 920.8 L1561.6 922 L1562.6 923.2 L1563.5 923.6 L1564.4 923.6 L1565.3 923.4 L1566.2 923.2 L1567.1 923 L1568.1 923 L1568.9 922.9 L1569.7 922.9 L1570.6 922.8 L1571.4 922.7 L1572.3 922.6 L1573.1 922.5 L1574 922.5 L1574.9 922.3 L1575.7 921.8 L1576.6 921.3 L1577.5 921.1 L1578.4 921.3 L1579.2 921.8 L1580 922.5 L1580.9 923 L1581.7 923.2 L1582.6 923.6 L1583.4 924.5 L1584.2 925.7 L1585.1 927 L1585.9 927.9 L1586.8 928.2 L1587.6 927.9 L1588.5 926.9 L1589.4 925.5 L1590.2 924.1 L1591.1 923.1 L1592 922.7 L1592.8 922.8 L1593.6 923.1 L1594.5 923.5 L1595.3 923.8 L1596.2 923.9 L1597 924.2 L1597.8 924.8 L1598.6 925.7 L1599.5 926.4 L1600.3 926.6 L1601.2 926.8 L1602 927.1 L1602.9 927.5 L1603.8 927.8 L1604.6 928 L1605.5 927.5 L1606.3 926.2 L1607.2 924.6 L1608 923.4 L1608.9 922.9 L1609.7 922.9 L1610.5 923.1 L1611.3 923.3 L1612.1 923.5 L1613 923.5 L1613.8 923.4 L1614.6 923 L1615.5 922.5 L1616.3 921.9 L1617.1 921.3 L1618 920.9 L1618.8 920.8 L1619.8 921 L1620.8 921.4 L1621.8 921.6 L1622.7 922.2 L1623.7 923.8 L1624.6 925.7 L1625.5 927.2 L1626.5 927.8 L1627.4 927.6 L1628.3 927.1 L1629.3 926.5 L1630.2 926.3 L1631.1 925.7 L1632.1 924.4 L1633 923.8 L1633.8 923.8 L1634.6 924.1 L1635.5 924.5 L1636.3 924.9 L1637.1 925.2 L1637.9 925.5 L1638.8 925.6 L1639.7 925.4 L1640.6 924.8 L1641.5 924 L1642.4 923.2 L1643.4 922.7 L1644.3 922.5 L1645.3 922.1 L1646.3 921.4 L1647.3 921.1 L1648.2 921 L1649.1 920.9 L1650 920.7 L1651 920.6 L1651.9 920.5 L1652.7 920.6 L1653.5 920.9 L1654.4 921.3 L1655.2 921.7 L1656 922 L1656.9 922.1 L1657.8 922 L1658.7 921.8 L1659.7 921.6 L1660.6 921.5 L1661.4 921.5 L1662.2 921.4 L1663 921.3 L1663.9 921.2 L1664.7 921.1 L1665.5 921.1 L1666.3 921.1 L1667.1 921.1 L1668 921.4 L1668.8 921.6 L1669.6 921.9 L1670.4 921.9 L1671.2 922.5 L1672 923.8 L1672.9 925.5 L1673.7 926.8 L1674.6 927.4 L1675.5 927.4 L1676.3 927.5 L1677.2 927.6 L1678 927.5 L1678.8 927.3 L1679.6 927 L1680.4 926.9 L1681.3 926.5 L1682.1 925.4 L1683 924 L1683.8 922.8 L1684.7 922.4 L1685.5 922.6 L1686.4 923.2 L1687.3 923.9 L1688.2 924.5 L1689 924.7 L1690 924.8 L1690.9 925.1 L1691.9 925.4 L1692.9 925.6 L1693.8 925.7 L1694.6 925.4 L1695.5 924.4 L1696.3 923.2 L1697.1 922.3 L1697.9 921.9 L1698.9 922.6 L1699.9 924.3 L1700.9 926 L1701.8 926.8 L1702.6 926.5 L1703.5 925.9 L1704.3 925 L1705.1 924 L1705.9 923.1 L1706.7 922.5 L1707.5 922.2 L1708.4 922.7 L1709.4 923.7 L1710.3 924.7 L1711.3 925.2 L1712.1 925 L1713 924.5 L1713.9 923.9 L1714.8 923.5 L1715.6 923.3 L1716.4 924 L1717.3 925.8 L1718.1 927.5 L1718.9 928.2 L1719.7 927.3 L1720.5 925 L1721.3 922.7 L1722.1 921.7 L1723.1 922.4 L1724.1 923.7 L1725.1 924.4 L1726.2 924.9 L1727.3 926 L1728.3 926.5 L1729.4 926.1 L1730.4 925.3 L1731.4 924.9 L1732.5 925.7 L1733.5 927.2 L1734.5 928 L1735.5 927.7 L1736.4 927.2 L1737.4 926.9 L1738.2 926.9 L1739.1 927.2 L1739.9 927.5 L1740.8 927.7 L1741.6 927.8 L1742.5 927 L1743.3 925.3 L1744.2 924.5 L1745.2 924.2 L1746.2 923.5 L1747.1 922.7 L1748.1 922.4 L1749 923 L1749.9 924.3 L1750.8 924.9 L1751.7 924.7 L1752.6 924.3 L1753.5 924.1" fill="none" stroke="#0072bd" stroke-width="8" stroke-linejoin="round"/>
<path d="M266.2 1155.5v-15.5M266.2 673.5v15.5M509.1 1155.5v-15.5M509.1 673.5v15.5M751.6 1155.5v-15.5M751.6 673.5v15.5M993.8 1155.5v-15.5M993.8 673.5v15.5M1233.3 1155.5v-15.5M1233.3 673.5v15.5M1479.6 1155.5v-15.5M1479.6 673.5v15.5M1719.1 1155.5v-15.5M1719.1 673.5v15.5M214 1118h15.5M1753.5 1118h-15.5M214 1017.4h15.5M1753.5 1017.4h-15.5M214 910.5h15.5M1753.5 910.5h-15.5M214 805.6h15.5M1753.5 805.6h-15.5M214 701.6h15.5M1753.5 701.6h-15.5" stroke="#262626" stroke-width="3" fill="none"/>
<path d="M212.5 673.5H1755" stroke="#262626" stroke-width="3"/>
<path d="M212.5 1155.5H1755" stroke="#262626" stroke-width="3"/>
<path d="M214 673.5V1155.5" stroke="#262626" stroke-width="3"/>
<path d="M1753.5 673.5V1155.5" stroke="#262626" stroke-width="3"/>
<text x="0" y="0" font-size="45" text-anchor="middle" fill="#262626" font-family='"Liberation Sans", sans-serif' transform="translate(266.2 1224) scale(1 1.05)">7</text>
<text x="0" y="0" font-size="45" text-anchor="middle" fill="#262626" font-family='"Liberation Sans", sans-serif' transform="translate(509.1 1224) scale(1 1.05)">8</text>
<text x="0" y="0" font-size="45" text-anchor="middle" fill="#262626" font-family='"Liberation Sans", sans-serif' transform="translate(751.6 1224) scale(1 1.05)">9</text>
<text x="0" y="0" font-size="45" text-anchor="middle" fill="#262626" font-family='"Liberation Sans", sans-serif' transform="translate(993.8 1224) scale(1 1.05)">10</text>
<text x="0" y="0" font-size="45" text-anchor="middle" fill="#262626" font-family='"Liberation Sans", sans-serif' transform="translate(1233.3 1224) scale(1 1.05)">11</text>
<text x="0" y="0" font-size="45" text-anchor="middle" fill="#262626" font-family='"Liberation Sans", sans-serif' transform="translate(1479.6 1224) scale(1 1.05)">12</text>
<text x="0" y="0" font-size="45" text-anchor="middle" fill="#262626" font-family='"Liberation Sans", sans-serif' transform="translate(1719.1 1224) scale(1 1.05)">13</text>
<text x="0" y="0" font-size="45" text-anchor="end" fill="#262626" font-family='"Liberation Sans", sans-serif' transform="translate(191 1138.5) scale(1 1.1)">-2</text>
<text x="0" y="0" font-size="45" text-anchor="end" fill="#262626" font-family='"Liberation Sans", sans-serif' transform="translate(191 1037.9) scale(1 1.1)">-1</text>
<text x="0" y="0" font-size="45" text-anchor="end" fill="#262626" font-family='"Liberation Sans", sans-serif' transform="translate(191 931) scale(1 1.1)">0</text>
<text x="0" y="0" font-size="45" text-anchor="end" fill="#262626" font-family='"Liberation Sans", sans-serif' transform="translate(191 826.1) scale(1 1.1)">1</text>
<text x="0" y="0" font-size="45" text-anchor="end" fill="#262626" font-family='"Liberation Sans", sans-serif' transform="translate(191 722.1) scale(1 1.1)">2</text>
<text x="985" y="1272.8" font-size="49" text-anchor="middle" fill="#262626" font-family='"Liberation Sans", sans-serif' textLength="206" lengthAdjust="spacingAndGlyphs">Time (µs)</text>
<text x="63" y="922" font-size="49" text-anchor="middle" fill="#262626" font-family='"Liberation Sans", sans-serif' transform="rotate(-90 63 922)" textLength="420" lengthAdjust="spacingAndGlyphs">Hydrophone output</text>
<text x="125.7" y="915" font-size="49" text-anchor="middle" fill="#262626" font-family='"Liberation Sans", sans-serif' transform="rotate(-90 125.7 915)" textLength="284" lengthAdjust="spacingAndGlyphs">voltage (mV)</text>
<text x="225" y="755" font-size="80" text-anchor="start" fill="#000" font-family='"Liberation Serif", serif' stroke="#fff" stroke-width="1.3">(b)</text>
<rect x="1254" y="684.4" width="490" height="116.6" fill="#fff" stroke="#262626" stroke-width="2.6"/>
<path d="M1252.7 801H1745.3" stroke="#8f8f8f" stroke-width="2.6"/>
<path d="M1267.7 718.2H1363.5" stroke="#ff0000" stroke-width="7"/>
<text x="1371" y="733.7" font-size="40" text-anchor="start" fill="#000" font-family='"Liberation Sans", sans-serif' textLength="315" lengthAdjust="spacingAndGlyphs">AC only operation</text>
<path d="M1267.7 771H1363.5" stroke="#0072bd" stroke-width="8.5"/>
<text x="1371" y="785.8" font-size="40" text-anchor="start" fill="#000" font-family='"Liberation Sans", sans-serif' textLength="358" lengthAdjust="spacingAndGlyphs">DC biased operation</text>
<path d="M338.8 1308.5V1790.8M481.5 1308.5V1790.8M623.2 1308.5V1790.8M765.4 1308.5V1790.8M907.7 1308.5V1790.8M1046.2 1308.5V1790.8M1191.4 1308.5V1790.8M1330.7 1308.5V1790.8M1476.3 1308.5V1790.8M1618.1 1308.5V1790.8M1761.5 1308.5V1790.8M221.5 1756.3H1761.5M221.5 1612.7H1761.5M221.5 1469.1H1761.5M221.5 1325.5H1761.5" stroke="#dedede" stroke-width="2.4" fill="none"/>
<clipPath id="cc"><rect x="221.5" y="1308.5" width="1540.0" height="482.29999999999995"/></clipPath>
<g clip-path="url(#cc)">
<path d="M221.5 1728 L222.2 1725.6 L222.9 1723.4 L223.7 1721.2 L224.4 1719.1 L225.1 1717.2 L225.8 1715.3 L226.5 1713.6 L227.2 1711.9 L228 1710.4 L228.7 1708.9 L229.4 1707.6 L230.1 1706.4 L230.8 1705.3 L231.5 1704.3 L232.3 1703.4 L233 1702.6 L233.7 1701.9 L234.4 1701.3 L235.1 1700.8 L235.8 1700.5 L236.6 1700.2 L237.3 1700.1 L238 1700 L238.7 1700 L239.4 1700.1 L240.1 1700.3 L240.8 1700.5 L241.5 1700.8 L242.2 1701.2 L242.9 1701.6 L243.6 1702.1 L244.4 1702.7 L245.1 1703.3 L245.8 1704 L246.5 1704.8 L247.2 1705.6 L247.9 1706.5 L248.6 1707.5 L249.3 1708.5 L250 1709.7 L250.7 1710.9 L251.4 1712.1 L252.1 1713.5 L252.8 1714.9 L253.5 1716.5 L254.2 1718.1 L254.9 1719.8 L255.6 1721.5 L256.4 1723.4 L257.1 1725.4 L257.8 1727.4 L258.5 1729.6 L259.2 1731.9 L259.9 1734.2 L260.6 1736.7 L261.3 1739.3 L262 1742 L262.7 1735.4 L263.4 1729.4 L264.1 1724 L264.8 1719 L265.5 1714.4 L266.2 1710.1 L266.9 1706.1 L267.7 1702.4 L268.4 1698.9 L269.1 1695.6 L269.8 1692.5 L270.5 1689.5 L271.2 1686.8 L271.9 1684.1 L272.6 1681.6 L273.3 1679.3 L274 1677 L274.7 1674.8 L275.4 1672.8 L276.1 1670.8 L276.8 1669 L277.6 1667.2 L278.3 1665.5 L279 1663.9 L279.7 1662.3 L280.4 1660.8 L281.1 1659.4 L281.8 1658.1 L282.5 1656.8 L283.2 1655.5 L283.9 1654.4 L284.6 1653.3 L285.3 1652.2 L286 1651.2 L286.7 1650.2 L287.4 1649.3 L288.2 1648.5 L288.9 1647.6 L289.6 1646.9 L290.3 1646.1 L291 1645.5 L291.7 1644.8 L292.4 1644.2 L293.1 1643.7 L293.8 1643.2 L294.5 1642.7 L295.2 1642.3 L295.9 1641.9 L296.6 1641.5 L297.3 1641.2 L298.1 1640.9 L298.8 1640.7 L299.5 1640.5 L300.2 1640.3 L300.9 1640.2 L301.6 1640.1 L302.3 1640 L303 1640 L303.7 1640 L304.4 1640.2 L305.1 1640.4 L305.9 1640.7 L306.6 1641.1 L307.3 1641.6 L308 1642.2 L308.7 1642.9 L309.4 1643.6 L310.1 1644.5 L310.9 1645.5 L311.6 1646.6 L312.3 1647.7 L313 1649 L313.7 1650.4 L314.4 1651.9 L315.1 1653.5 L315.9 1655.3 L316.6 1657.2 L317.3 1659.2 L318 1661.4 L318.7 1663.7 L319.4 1666.2 L320.1 1668.9 L320.9 1671.7 L321.6 1674.8 L322.3 1678.1 L323 1681.6 L323.7 1685.4 L324.4 1689.5 L325.1 1693.9 L325.9 1698.7 L326.6 1703.9 L327.3 1709.7 L328 1716 L328.7 1703.1 L329.4 1692.5 L330.1 1683.4 L330.8 1675.5 L331.5 1668.5 L332.2 1662.3 L332.9 1656.7 L333.6 1651.6 L334.3 1646.9 L335 1642.6 L335.8 1638.6 L336.5 1635 L337.2 1631.5 L337.9 1628.3 L338.6 1625.4 L339.3 1622.6 L340 1620 L340.7 1617.6 L341.4 1615.3 L342.1 1613.1 L342.8 1611.1 L343.5 1609.2 L344.2 1607.5 L344.9 1605.8 L345.6 1604.3 L346.3 1602.8 L347 1601.5 L347.7 1600.2 L348.4 1599.1 L349.1 1598 L349.8 1597 L350.5 1596.1 L351.2 1595.2 L352 1594.5 L352.7 1593.8 L353.4 1593.2 L354.1 1592.7 L354.8 1592.2 L355.5 1591.9 L356.2 1591.6 L356.9 1591.3 L357.6 1591.1 L358.3 1591 L359 1591 L359.7 1591.1 L360.4 1591.2 L361.1 1591.5 L361.8 1591.9 L362.5 1592.4 L363.3 1593.1 L364 1593.8 L364.7 1594.7 L365.4 1595.7 L366.1 1596.8 L366.8 1598.1 L367.5 1599.5 L368.2 1601 L368.9 1602.7 L369.6 1604.5 L370.4 1606.5 L371.1 1608.7 L371.8 1611.1 L372.5 1613.6 L373.2 1616.3 L373.9 1619.3 L374.6 1622.5 L375.3 1626 L376 1629.8 L376.7 1633.8 L377.5 1638.3 L378.2 1643.1 L378.9 1648.4 L379.6 1654.3 L380.3 1660.7 L381 1668 L381.7 1659.3 L382.4 1651.7 L383.1 1645 L383.8 1638.9 L384.5 1633.4 L385.2 1628.5 L385.9 1623.9 L386.6 1619.7 L387.4 1615.9 L388.1 1612.3 L388.8 1609 L389.5 1606 L390.2 1603.2 L390.9 1600.6 L391.6 1598.1 L392.3 1595.9 L393 1593.8 L393.7 1591.9 L394.4 1590.1 L395.1 1588.5 L395.8 1586.9 L396.5 1585.6 L397.2 1584.3 L397.9 1583.2 L398.6 1582.2 L399.4 1581.3 L400.1 1580.5 L400.8 1579.8 L401.5 1579.3 L402.2 1578.8 L402.9 1578.5 L403.6 1578.2 L404.3 1578.1 L405 1578 L405.7 1578 L406.4 1578.2 L407.1 1578.4 L407.8 1578.7 L408.5 1579.1 L409.2 1579.6 L409.9 1580.2 L410.6 1580.9 L411.3 1581.6 L412 1582.5 L412.7 1583.4 L413.4 1584.5 L414.1 1585.6 L414.9 1586.8 L415.6 1588.1 L416.3 1589.6 L417 1591.1 L417.7 1592.7 L418.4 1594.4 L419.1 1596.3 L419.8 1598.2 L420.5 1600.2 L421.2 1602.4 L421.9 1604.6 L422.6 1607 L423.3 1609.4 L424 1612 L424.7 1603.8 L425.4 1596.6 L426.1 1590.1 L426.8 1584.2 L427.5 1578.9 L428.2 1574 L428.9 1569.5 L429.6 1565.3 L430.3 1561.4 L431 1557.8 L431.7 1554.3 L432.4 1551.1 L433.1 1548.1 L433.9 1545.3 L434.6 1542.6 L435.3 1540.1 L436 1537.6 L436.7 1535.4 L437.4 1533.2 L438.1 1531.1 L438.8 1529.2 L439.5 1527.3 L440.2 1525.6 L440.9 1523.9 L441.6 1522.3 L442.3 1520.8 L443 1519.3 L443.7 1518 L444.4 1516.7 L445.1 1515.4 L445.8 1514.3 L446.5 1513.2 L447.2 1512.1 L447.9 1511.1 L448.6 1510.2 L449.3 1509.3 L450 1508.5 L450.7 1507.8 L451.4 1507 L452.1 1506.4 L452.9 1505.8 L453.6 1505.2 L454.3 1504.7 L455 1504.2 L455.7 1503.8 L456.4 1503.4 L457.1 1503.1 L457.8 1502.8 L458.5 1502.5 L459.2 1502.4 L459.9 1502.2 L460.6 1502.1 L461.3 1502 L462 1502 L462.7 1502 L463.4 1502.1 L464.1 1502.3 L464.8 1502.5 L465.6 1502.8 L466.3 1503.1 L467 1503.5 L467.7 1504 L468.4 1504.5 L469.1 1505.1 L469.8 1505.8 L470.5 1506.5 L471.2 1507.3 L471.9 1508.2 L472.7 1509.1 L473.4 1510.1 L474.1 1511.2 L474.8 1512.4 L475.5 1513.6 L476.2 1514.9 L476.9 1516.3 L477.6 1517.8 L478.3 1519.3 L479.1 1521 L479.8 1522.7 L480.5 1524.6 L481.2 1526.5 L481.9 1528.5 L482.6 1530.7 L483.3 1533 L484 1535.3 L484.7 1537.8 L485.4 1540.5 L486.2 1543.3 L486.9 1546.2 L487.6 1549.3 L488.3 1552.5 L489 1556 L489.7 1547.5 L490.4 1539.9 L491.1 1533.3 L491.8 1527.2 L492.5 1521.7 L493.2 1516.7 L493.9 1512.1 L494.7 1507.8 L495.4 1503.8 L496.1 1500.1 L496.8 1496.6 L497.5 1493.3 L498.2 1490.2 L498.9 1487.3 L499.6 1484.6 L500.3 1482 L501 1479.5 L501.7 1477.2 L502.4 1474.9 L503.1 1472.8 L503.8 1470.8 L504.6 1468.9 L505.3 1467 L506 1465.3 L506.7 1463.6 L507.4 1462 L508.1 1460.5 L508.8 1459.1 L509.5 1457.7 L510.2 1456.4 L510.9 1455.2 L511.6 1454 L512.3 1452.9 L513 1451.8 L513.7 1450.8 L514.4 1449.8 L515.2 1448.9 L515.9 1448 L516.6 1447.2 L517.3 1446.5 L518 1445.7 L518.7 1445.1 L519.4 1444.4 L520.1 1443.9 L520.8 1443.3 L521.5 1442.8 L522.2 1442.4 L522.9 1441.9 L523.6 1441.6 L524.3 1441.2 L525.1 1441 L525.8 1440.7 L526.5 1440.5 L527.2 1440.3 L527.9 1440.2 L528.6 1440.1 L529.3 1440 L530 1440 L530.7 1440 L531.4 1440.1 L532.1 1440.2 L532.8 1440.4 L533.5 1440.6 L534.2 1440.9 L534.9 1441.2 L535.6 1441.6 L536.3 1442.1 L537 1442.5 L537.7 1443.1 L538.4 1443.7 L539.1 1444.3 L539.8 1445 L540.5 1445.8 L541.2 1446.6 L541.9 1447.5 L542.6 1448.5 L543.3 1449.5 L544 1450.6 L544.7 1451.7 L545.4 1453 L546.1 1454.3 L546.8 1455.7 L547.5 1457.1 L548.2 1458.7 L548.9 1460.3 L549.6 1462 L550.3 1463.8 L551 1465.8 L551.7 1467.8 L552.4 1470 L553.1 1472.3 L553.8 1474.7 L554.5 1477.3 L555.2 1480 L555.9 1482.9 L556.6 1486 L557.3 1489.3 L558 1492.8 L558.7 1496.6 L559.4 1500.7 L560.1 1505.1 L560.8 1509.9 L561.5 1515.2 L562.2 1520.9 L562.9 1527.3 L563.6 1534.5 L564.3 1542.6 L565 1552 L565.7 1563.1 L566.4 1576.7 L567.1 1594 L567.8 1573.6 L568.5 1558.2 L569.2 1545.9 L569.9 1535.7 L570.6 1526.9 L571.4 1519.2 L572.1 1512.5 L572.8 1506.4 L573.5 1500.9 L574.2 1495.9 L574.9 1491.3 L575.6 1487 L576.3 1483.1 L577 1479.4 L577.7 1476 L578.5 1472.8 L579.2 1469.8 L579.9 1467 L580.6 1464.4 L581.3 1461.9 L582 1459.6 L582.7 1457.4 L583.4 1455.3 L584.1 1453.3 L584.8 1451.4 L585.5 1449.7 L586.3 1448 L587 1446.4 L587.7 1444.9 L588.4 1443.5 L589.1 1442.2 L589.8 1440.9 L590.5 1439.8 L591.2 1438.7 L591.9 1437.6 L592.6 1436.7 L593.3 1435.7 L594.1 1434.9 L594.8 1434.1 L595.5 1433.4 L596.2 1432.7 L596.9 1432.1 L597.6 1431.6 L598.3 1431.1 L599 1430.6 L599.7 1430.3 L600.4 1429.9 L601.2 1429.6 L601.9 1429.4 L602.6 1429.2 L603.3 1429.1 L604 1429 L604.7 1429 L605.4 1429.1 L606.1 1429.2 L606.8 1429.5 L607.5 1429.9 L608.3 1430.4 L609 1431 L609.7 1431.7 L610.4 1432.6 L611.1 1433.6 L611.8 1434.7 L612.5 1435.9 L613.2 1437.3 L613.9 1438.8 L614.7 1440.5 L615.4 1442.3 L616.1 1444.3 L616.8 1446.5 L617.5 1448.9 L618.2 1451.4 L618.9 1454.2 L619.6 1457.3 L620.3 1460.6 L621 1464.2 L621.8 1468.2 L622.5 1472.5 L623.2 1477.3 L623.9 1482.6 L624.6 1488.6 L625.3 1495.2 L626 1502.8 L626.7 1511.5 L627.4 1521.8 L628.2 1534.3 L628.9 1550 L629.6 1571.2 L630.3 1603.7 L631 1676 L631.7 1567.4 L632.4 1529.9 L633.1 1506.6 L633.8 1489.7 L634.5 1476.5 L635.2 1465.6 L635.9 1456.3 L636.6 1448.3 L637.3 1441.1 L638 1434.8 L638.7 1429 L639.4 1423.8 L640.1 1418.9 L640.8 1414.5 L641.5 1410.3 L642.2 1406.4 L642.9 1402.8 L643.6 1399.4 L644.3 1396.2 L645 1393.1 L645.7 1390.2 L646.4 1387.5 L647.2 1384.9 L647.9 1382.4 L648.6 1380 L649.3 1377.8 L650 1375.6 L650.7 1373.5 L651.4 1371.5 L652.1 1369.6 L652.8 1367.8 L653.5 1366 L654.2 1364.3 L654.9 1362.7 L655.6 1361.1 L656.3 1359.6 L657 1358.1 L657.7 1356.7 L658.4 1355.3 L659.1 1354 L659.8 1352.7 L660.5 1351.5 L661.2 1350.3 L661.9 1349.2 L662.6 1348.1 L663.3 1347 L664 1346 L664.7 1345 L665.4 1344 L666.1 1343.1 L666.8 1342.2 L667.5 1341.3 L668.2 1340.4 L668.9 1339.6 L669.6 1338.9 L670.3 1338.1 L671 1337.4 L671.7 1336.7 L672.4 1336 L673.1 1335.4 L673.8 1334.7 L674.5 1334.1 L675.2 1333.6 L675.9 1333 L676.6 1332.5 L677.3 1332 L678 1331.5 L678.7 1331 L679.5 1330.6 L680.2 1330.2 L680.9 1329.8 L681.6 1329.4 L682.3 1329 L683 1328.7 L683.7 1328.4 L684.4 1328.1 L685.1 1327.8 L685.8 1327.6 L686.5 1327.3 L687.2 1327.1 L687.9 1326.9 L688.6 1326.8 L689.3 1326.6 L690 1326.5 L690.7 1326.3 L691.4 1326.2 L692.1 1326.1 L692.8 1326.1 L693.5 1326 L694.2 1326 L694.9 1326 L695.6 1326 L696.3 1326 L697 1326.1 L697.7 1326.1 L698.4 1326.2 L699.1 1326.3 L699.8 1326.4 L700.5 1326.6 L701.2 1326.7 L701.9 1326.9 L702.6 1327.1 L703.4 1327.3 L704.1 1327.5 L704.8 1327.8 L705.5 1328.1 L706.2 1328.3 L706.9 1328.6 L707.6 1329 L708.3 1329.3 L709 1329.7 L709.7 1330.1 L710.4 1330.5 L711.1 1330.9 L711.8 1331.3 L712.5 1331.8 L713.2 1332.3 L713.9 1332.8 L714.6 1333.4 L715.3 1333.9 L716 1334.5 L716.7 1335.1 L717.4 1335.7 L718.1 1336.4 L718.8 1337.1 L719.6 1337.8 L720.3 1338.5 L721 1339.3 L721.7 1340 L722.4 1340.9 L723.1 1341.7 L723.8 1342.6 L724.5 1343.5 L725.2 1344.4 L725.9 1345.4 L726.6 1346.4 L727.3 1347.4 L728 1348.5 L728.7 1349.6 L729.4 1350.7 L730.1 1351.9 L730.8 1353.1 L731.5 1354.4 L732.2 1355.7 L732.9 1357.1 L733.6 1358.5 L734.3 1360 L735 1361.5 L735.8 1363.1 L736.5 1364.7 L737.2 1366.4 L737.9 1368.1 L738.6 1370 L739.3 1371.9 L740 1373.8 L740.7 1375.9 L741.4 1378.1 L742.1 1380.3 L742.8 1382.7 L743.5 1385.1 L744.2 1387.7 L744.9 1390.4 L745.6 1393.3 L746.3 1396.3 L747 1399.4 L747.7 1402.8 L748.4 1406.4 L749.1 1410.2 L749.8 1414.3 L750.5 1418.7 L751.2 1423.4 L752 1428.6 L752.7 1434.2 L753.4 1440.4 L754.1 1447.3 L754.8 1455.1 L755.5 1464 L756.2 1474.5 L756.9 1487.1 L757.6 1502.8 L758.3 1524.1 L759 1556.5 L759.7 1628 L760.4 1581.2 L761.1 1554.8 L761.8 1536.3 L762.5 1522.2 L763.2 1510.7 L763.9 1501.1 L764.7 1492.9 L765.4 1485.7 L766.1 1479.3 L766.8 1473.7 L767.5 1468.5 L768.2 1463.9 L768.9 1459.7 L769.6 1455.8 L770.3 1452.3 L771 1449 L771.7 1446 L772.4 1443.3 L773.2 1440.7 L773.9 1438.3 L774.6 1436.2 L775.3 1434.2 L776 1432.3 L776.7 1430.7 L777.4 1429.1 L778.1 1427.7 L778.8 1426.4 L779.5 1425.3 L780.2 1424.3 L780.9 1423.3 L781.6 1422.6 L782.4 1421.9 L783.1 1421.3 L783.8 1420.8 L784.5 1420.5 L785.2 1420.2 L785.9 1420.1 L786.6 1420 L787.3 1420 L788 1420.1 L788.7 1420.3 L789.5 1420.5 L790.2 1420.8 L790.9 1421.1 L791.6 1421.5 L792.3 1422 L793 1422.5 L793.7 1423.1 L794.5 1423.7 L795.2 1424.5 L795.9 1425.3 L796.6 1426.2 L797.3 1427.1 L798 1428.1 L798.7 1429.2 L799.5 1430.4 L800.2 1431.7 L800.9 1433 L801.6 1434.5 L802.3 1436 L803 1437.7 L803.7 1439.4 L804.5 1441.3 L805.2 1443.3 L805.9 1445.4 L806.6 1447.6 L807.3 1450 L808 1452.6 L808.7 1455.3 L809.4 1458.2 L810.2 1461.3 L810.9 1464.7 L811.6 1468.3 L812.3 1472.2 L813 1476.4 L813.7 1480.9 L814.4 1485.9 L815.2 1491.4 L815.9 1497.5 L816.6 1504.3 L817.3 1512.1 L818 1521 L818.7 1531.4 L819.4 1544 L820.2 1559.9 L820.9 1581.4 L821.6 1614.6 L822.3 1690 L823 1629.3 L823.7 1599.2 L824.4 1579 L825.1 1563.8 L825.8 1551.7 L826.5 1541.6 L827.2 1533 L827.9 1525.5 L828.6 1518.9 L829.3 1513 L830.1 1507.7 L830.8 1502.9 L831.5 1498.5 L832.2 1494.5 L832.9 1490.8 L833.6 1487.4 L834.3 1484.3 L835 1481.4 L835.7 1478.7 L836.4 1476.2 L837.1 1473.9 L837.8 1471.7 L838.5 1469.8 L839.2 1467.9 L839.9 1466.2 L840.6 1464.6 L841.3 1463.2 L842 1461.9 L842.7 1460.7 L843.4 1459.6 L844.2 1458.6 L844.9 1457.7 L845.6 1456.9 L846.3 1456.2 L847 1455.6 L847.7 1455.1 L848.4 1454.7 L849.1 1454.4 L849.8 1454.2 L850.5 1454 L851.2 1454 L851.9 1454 L852.6 1454.1 L853.3 1454.3 L854 1454.5 L854.8 1454.8 L855.5 1455.1 L856.2 1455.5 L856.9 1455.9 L857.6 1456.5 L858.3 1457 L859 1457.7 L859.7 1458.4 L860.5 1459.2 L861.2 1460 L861.9 1461 L862.6 1462 L863.3 1463.1 L864 1464.2 L864.7 1465.5 L865.4 1466.8 L866.2 1468.2 L866.9 1469.7 L867.6 1471.3 L868.3 1473 L869 1474.9 L869.7 1476.8 L870.4 1478.9 L871.1 1481.1 L871.8 1483.4 L872.6 1485.9 L873.3 1488.5 L874 1491.4 L874.7 1494.4 L875.4 1497.6 L876.1 1501.1 L876.8 1504.9 L877.5 1508.9 L878.3 1513.3 L879 1518.1 L879.7 1523.3 L880.4 1529.1 L881.1 1535.6 L881.8 1542.8 L882.5 1551.1 L883.2 1560.7 L884 1572.1 L884.7 1586.1 L885.4 1604.3 L886.1 1630.1 L886.8 1675 L887.5 1635.2 L888.2 1611.1 L888.9 1593.9 L889.6 1580.4 L890.3 1569.4 L891 1560.2 L891.7 1552.2 L892.4 1545.2 L893.1 1538.9 L893.9 1533.4 L894.6 1528.3 L895.3 1523.8 L896 1519.6 L896.7 1515.8 L897.4 1512.3 L898.1 1509 L898.8 1506 L899.5 1503.3 L900.2 1500.7 L900.9 1498.4 L901.6 1496.2 L902.3 1494.1 L903 1492.3 L903.7 1490.6 L904.4 1489 L905.1 1487.6 L905.8 1486.2 L906.5 1485 L907.2 1484 L908 1483 L908.7 1482.1 L909.4 1481.4 L910.1 1480.8 L910.8 1480.2 L911.5 1479.8 L912.2 1479.4 L912.9 1479.2 L913.6 1479 L914.3 1479 L915 1479 L915.7 1479.1 L916.4 1479.3 L917.1 1479.5 L917.8 1479.8 L918.5 1480.1 L919.2 1480.5 L919.9 1480.9 L920.6 1481.5 L921.3 1482 L922 1482.7 L922.7 1483.4 L923.4 1484.2 L924.1 1485.1 L924.8 1486 L925.5 1487 L926.2 1488.1 L926.9 1489.2 L927.6 1490.5 L928.3 1491.8 L929 1493.2 L929.7 1494.7 L930.4 1496.4 L931.1 1498.1 L931.8 1499.9 L932.5 1501.8 L933.2 1503.9 L933.9 1506.1 L934.6 1508.5 L935.3 1510.9 L936 1513.6 L936.7 1516.4 L937.4 1519.5 L938.1 1522.7 L938.8 1526.2 L939.5 1530 L940.2 1534 L940.9 1538.4 L941.6 1543.2 L942.3 1548.5 L943 1554.3 L943.7 1560.8 L944.4 1568.1 L945.1 1576.4 L945.8 1586.1 L946.5 1597.6 L947.2 1611.7 L947.9 1630.1 L948.6 1656.5 L949.3 1703 L950 1662.7 L950.7 1638.5 L951.4 1621.1 L952.1 1607.6 L952.9 1596.5 L953.6 1587.2 L954.3 1579.2 L955 1572.1 L955.7 1565.9 L956.4 1560.3 L957.1 1555.2 L957.8 1550.6 L958.6 1546.4 L959.3 1542.5 L960 1538.9 L960.7 1535.6 L961.4 1532.6 L962.1 1529.8 L962.8 1527.2 L963.5 1524.7 L964.3 1522.5 L965 1520.4 L965.7 1518.4 L966.4 1516.6 L967.1 1515 L967.8 1513.4 L968.5 1512 L969.2 1510.7 L970 1509.5 L970.7 1508.5 L971.4 1507.5 L972.1 1506.6 L972.8 1505.9 L973.5 1505.2 L974.2 1504.6 L974.9 1504.1 L975.7 1503.7 L976.4 1503.4 L977.1 1503.2 L977.8 1503 L978.5 1503 L979.2 1503 L979.9 1503.1 L980.6 1503.3 L981.3 1503.5 L982 1503.7 L982.7 1504 L983.4 1504.4 L984.1 1504.9 L984.8 1505.4 L985.5 1505.9 L986.2 1506.6 L986.9 1507.3 L987.7 1508 L988.4 1508.8 L989.1 1509.7 L989.8 1510.7 L990.5 1511.7 L991.2 1512.9 L991.9 1514.1 L992.6 1515.3 L993.3 1516.7 L994 1518.1 L994.7 1519.7 L995.4 1521.3 L996.1 1523.1 L996.8 1524.9 L997.5 1526.9 L998.2 1529 L998.9 1531.2 L999.6 1533.6 L1000.3 1536.1 L1001 1538.7 L1001.7 1541.6 L1002.4 1544.6 L1003.1 1547.9 L1003.8 1551.4 L1004.5 1555.1 L1005.3 1559.2 L1006 1563.6 L1006.7 1568.3 L1007.4 1573.6 L1008.1 1579.3 L1008.8 1585.7 L1009.5 1592.9 L1010.2 1601.1 L1010.9 1610.6 L1011.6 1621.8 L1012.3 1635.5 L1013 1653.2 L1013.7 1678 L1014.4 1659.1 L1015.1 1644.7 L1015.8 1633 L1016.5 1623.2 L1017.2 1614.7 L1017.9 1607.3 L1018.6 1600.8 L1019.3 1594.9 L1020 1589.6 L1020.7 1584.7 L1021.5 1580.3 L1022.2 1576.2 L1022.9 1572.4 L1023.6 1568.9 L1024.3 1565.7 L1025 1562.7 L1025.7 1559.9 L1026.4 1557.2 L1027.1 1554.8 L1027.8 1552.5 L1028.5 1550.3 L1029.2 1548.3 L1029.9 1546.4 L1030.6 1544.6 L1031.3 1543 L1032 1541.5 L1032.7 1540 L1033.4 1538.7 L1034.1 1537.5 L1034.8 1536.3 L1035.5 1535.3 L1036.2 1534.3 L1037 1533.5 L1037.7 1532.7 L1038.4 1532 L1039.1 1531.3 L1039.8 1530.8 L1040.5 1530.3 L1041.2 1529.9 L1041.9 1529.6 L1042.6 1529.3 L1043.3 1529.1 L1044 1529 L1044.7 1529 L1045.4 1529 L1046.1 1529.1 L1046.8 1529.3 L1047.5 1529.6 L1048.3 1529.9 L1049 1530.3 L1049.7 1530.8 L1050.4 1531.3 L1051.1 1532 L1051.8 1532.7 L1052.5 1533.5 L1053.2 1534.4 L1053.9 1535.3 L1054.7 1536.4 L1055.4 1537.5 L1056.1 1538.7 L1056.8 1540.1 L1057.5 1541.5 L1058.2 1543.1 L1058.9 1544.7 L1059.6 1546.5 L1060.3 1548.4 L1061.1 1550.4 L1061.8 1552.6 L1062.5 1554.9 L1063.2 1557.4 L1063.9 1560.1 L1064.6 1562.9 L1065.3 1566 L1066 1569.3 L1066.7 1572.8 L1067.5 1576.7 L1068.2 1580.9 L1068.9 1585.4 L1069.6 1590.4 L1070.3 1595.8 L1071 1601.9 L1071.7 1608.7 L1072.4 1616.4 L1073.1 1625.3 L1073.9 1635.7 L1074.6 1648.2 L1075.3 1664.1 L1076 1685.4 L1076.7 1718 L1077.4 1691.3 L1078.1 1672.6 L1078.8 1658.3 L1079.5 1646.7 L1080.3 1637 L1081 1628.6 L1081.7 1621.3 L1082.4 1614.8 L1083.1 1608.9 L1083.8 1603.6 L1084.5 1598.8 L1085.2 1594.4 L1085.9 1590.3 L1086.6 1586.5 L1087.4 1583 L1088.1 1579.7 L1088.8 1576.7 L1089.5 1573.8 L1090.2 1571.2 L1090.9 1568.7 L1091.6 1566.3 L1092.3 1564.1 L1093 1562.1 L1093.8 1560.1 L1094.5 1558.3 L1095.2 1556.6 L1095.9 1555 L1096.6 1553.5 L1097.3 1552.1 L1098 1550.8 L1098.7 1549.6 L1099.4 1548.4 L1100.1 1547.4 L1100.9 1546.4 L1101.6 1545.5 L1102.3 1544.6 L1103 1543.9 L1103.7 1543.2 L1104.4 1542.6 L1105.1 1542 L1105.8 1541.6 L1106.5 1541.1 L1107.2 1540.8 L1108 1540.5 L1108.7 1540.3 L1109.4 1540.1 L1110.1 1540 L1110.8 1540 L1111.5 1540 L1112.2 1540.1 L1112.9 1540.3 L1113.6 1540.5 L1114.3 1540.8 L1115 1541.2 L1115.7 1541.6 L1116.4 1542.1 L1117.1 1542.7 L1117.8 1543.3 L1118.5 1544 L1119.2 1544.8 L1120 1545.7 L1120.7 1546.6 L1121.4 1547.7 L1122.1 1548.8 L1122.8 1550 L1123.5 1551.2 L1124.2 1552.6 L1124.9 1554.1 L1125.6 1555.7 L1126.3 1557.3 L1127 1559.1 L1127.7 1561 L1128.4 1563.1 L1129.1 1565.3 L1129.8 1567.6 L1130.5 1570.1 L1131.2 1572.7 L1131.9 1575.6 L1132.6 1578.6 L1133.3 1581.9 L1134 1585.4 L1134.7 1589.2 L1135.4 1593.3 L1136.1 1597.7 L1136.9 1602.6 L1137.6 1607.9 L1138.3 1613.9 L1139 1620.5 L1139.7 1627.9 L1140.4 1636.5 L1141.1 1646.5 L1141.8 1658.5 L1142.5 1673.3 L1143.2 1693 L1143.9 1722 L1144.6 1778 L1145.3 1717.3 L1146 1687.1 L1146.7 1666.9 L1147.4 1651.8 L1148.1 1639.7 L1148.8 1629.6 L1149.5 1621 L1150.2 1613.6 L1150.9 1607 L1151.6 1601.1 L1152.3 1595.9 L1153 1591.1 L1153.7 1586.8 L1154.4 1582.8 L1155.1 1579.1 L1155.8 1575.8 L1156.5 1572.7 L1157.2 1569.9 L1157.9 1567.2 L1158.7 1564.8 L1159.4 1562.6 L1160.1 1560.5 L1160.8 1558.6 L1161.5 1556.8 L1162.2 1555.2 L1162.9 1553.7 L1163.6 1552.4 L1164.3 1551.2 L1165 1550.1 L1165.7 1549.1 L1166.4 1548.2 L1167.1 1547.5 L1167.8 1546.8 L1168.5 1546.2 L1169.2 1545.8 L1169.9 1545.4 L1170.6 1545.2 L1171.3 1545 L1172 1545 L1172.7 1545 L1173.4 1545.2 L1174.1 1545.3 L1174.8 1545.6 L1175.5 1546 L1176.2 1546.4 L1176.9 1546.9 L1177.6 1547.5 L1178.3 1548.1 L1179 1548.9 L1179.8 1549.7 L1180.5 1550.6 L1181.2 1551.6 L1181.9 1552.8 L1182.6 1554 L1183.3 1555.3 L1184 1556.7 L1184.7 1558.2 L1185.4 1559.8 L1186.1 1561.6 L1186.8 1563.5 L1187.5 1565.5 L1188.2 1567.7 L1188.9 1570 L1189.6 1572.5 L1190.3 1575.1 L1191 1578 L1191.7 1581.1 L1192.4 1584.4 L1193.1 1588 L1193.8 1591.8 L1194.5 1596.1 L1195.2 1600.6 L1196 1605.7 L1196.7 1611.2 L1197.4 1617.4 L1198.1 1624.3 L1198.8 1632.2 L1199.5 1641.3 L1200.2 1652 L1200.9 1665 L1201.6 1681.5 L1202.3 1704.1 L1203 1740 L1203.7 1708.4 L1204.4 1687.6 L1205.1 1672.1 L1205.8 1659.7 L1206.5 1649.4 L1207.2 1640.6 L1207.9 1632.9 L1208.6 1626.1 L1209.3 1620.1 L1210 1614.6 L1210.7 1609.7 L1211.4 1605.1 L1212.1 1601 L1212.8 1597.1 L1213.5 1593.5 L1214.2 1590.2 L1214.9 1587.1 L1215.6 1584.2 L1216.3 1581.5 L1217 1579 L1217.7 1576.7 L1218.4 1574.4 L1219.1 1572.4 L1219.9 1570.4 L1220.6 1568.6 L1221.3 1566.9 L1222 1565.3 L1222.7 1563.8 L1223.4 1562.4 L1224.1 1561.1 L1224.8 1559.9 L1225.5 1558.8 L1226.2 1557.7 L1226.9 1556.8 L1227.6 1555.9 L1228.3 1555.1 L1229 1554.4 L1229.7 1553.7 L1230.4 1553.1 L1231.1 1552.6 L1231.8 1552.2 L1232.5 1551.8 L1233.2 1551.5 L1233.9 1551.3 L1234.6 1551.1 L1235.3 1551 L1236 1551 L1236.7 1551 L1237.4 1551.1 L1238.1 1551.3 L1238.8 1551.5 L1239.5 1551.8 L1240.2 1552.1 L1240.9 1552.6 L1241.6 1553 L1242.3 1553.6 L1243 1554.2 L1243.7 1554.9 L1244.4 1555.7 L1245.1 1556.5 L1245.8 1557.4 L1246.5 1558.4 L1247.2 1559.5 L1247.9 1560.6 L1248.6 1561.8 L1249.3 1563.2 L1250 1564.6 L1250.7 1566.1 L1251.4 1567.7 L1252.1 1569.4 L1252.9 1571.2 L1253.6 1573.2 L1254.3 1575.2 L1255 1577.4 L1255.7 1579.8 L1256.4 1582.3 L1257.1 1584.9 L1257.8 1587.8 L1258.5 1590.8 L1259.2 1594.1 L1259.9 1597.6 L1260.6 1601.3 L1261.3 1605.4 L1262 1609.8 L1262.7 1614.6 L1263.4 1619.8 L1264.1 1625.6 L1264.8 1632.1 L1265.5 1639.3 L1266.2 1647.5 L1266.9 1657 L1267.6 1668.3 L1268.3 1682.2 L1269 1700 L1269.7 1677.5 L1270.4 1661 L1271.1 1647.9 L1271.8 1637.2 L1272.5 1628 L1273.2 1620 L1273.9 1613 L1274.6 1606.6 L1275.3 1600.9 L1276 1595.7 L1276.7 1590.9 L1277.4 1586.4 L1278.1 1582.3 L1278.8 1578.4 L1279.5 1574.8 L1280.2 1571.3 L1280.9 1568.1 L1281.6 1565.1 L1282.3 1562.2 L1283 1559.4 L1283.7 1556.8 L1284.4 1554.3 L1285.1 1552 L1285.8 1549.7 L1286.5 1547.5 L1287.2 1545.4 L1287.9 1543.4 L1288.6 1541.5 L1289.3 1539.6 L1290 1537.9 L1290.7 1536.2 L1291.4 1534.5 L1292.1 1532.9 L1292.8 1531.4 L1293.5 1529.9 L1294.2 1528.5 L1294.9 1527.1 L1295.6 1525.8 L1296.3 1524.5 L1297 1523.2 L1297.7 1522 L1298.4 1520.9 L1299.1 1519.8 L1299.8 1518.7 L1300.5 1517.6 L1301.2 1516.6 L1301.9 1515.6 L1302.6 1514.7 L1303.3 1513.8 L1304 1512.9 L1304.7 1512 L1305.4 1511.2 L1306.1 1510.4 L1306.8 1509.7 L1307.5 1508.9 L1308.2 1508.2 L1308.9 1507.5 L1309.6 1506.8 L1310.3 1506.2 L1311 1505.6 L1311.7 1505 L1312.4 1504.4 L1313.1 1503.9 L1313.8 1503.4 L1314.5 1502.9 L1315.2 1502.4 L1315.9 1502 L1316.6 1501.5 L1317.3 1501.1 L1318 1500.7 L1318.7 1500.4 L1319.4 1500 L1320.1 1499.7 L1320.8 1499.4 L1321.5 1499.1 L1322.2 1498.8 L1322.9 1498.6 L1323.6 1498.3 L1324.3 1498.1 L1325 1497.9 L1325.7 1497.7 L1326.4 1497.6 L1327.1 1497.4 L1327.8 1497.3 L1328.5 1497.2 L1329.2 1497.1 L1329.9 1497.1 L1330.6 1497 L1331.3 1497 L1332 1497 L1332.7 1497 L1333.4 1497 L1334.1 1497.1 L1334.8 1497.1 L1335.5 1497.2 L1336.2 1497.3 L1336.9 1497.4 L1337.6 1497.5 L1338.3 1497.7 L1339.1 1497.8 L1339.8 1498 L1340.5 1498.2 L1341.2 1498.4 L1341.9 1498.7 L1342.6 1498.9 L1343.3 1499.2 L1344 1499.5 L1344.7 1499.8 L1345.4 1500.1 L1346.1 1500.4 L1346.8 1500.8 L1347.5 1501.2 L1348.2 1501.6 L1348.9 1502 L1349.6 1502.4 L1350.3 1502.9 L1351 1503.4 L1351.7 1503.9 L1352.5 1504.4 L1353.2 1504.9 L1353.9 1505.5 L1354.6 1506.1 L1355.3 1506.7 L1356 1507.3 L1356.7 1508 L1357.4 1508.7 L1358.1 1509.4 L1358.8 1510.1 L1359.5 1510.9 L1360.2 1511.6 L1360.9 1512.4 L1361.6 1513.3 L1362.3 1514.1 L1363 1515 L1363.7 1516 L1364.4 1516.9 L1365.1 1517.9 L1365.9 1518.9 L1366.6 1520 L1367.3 1521.1 L1368 1522.2 L1368.7 1523.4 L1369.4 1524.6 L1370.1 1525.8 L1370.8 1527.1 L1371.5 1528.4 L1372.2 1529.8 L1372.9 1531.2 L1373.6 1532.7 L1374.3 1534.2 L1375 1535.8 L1375.7 1537.5 L1376.4 1539.2 L1377.1 1540.9 L1377.8 1542.8 L1378.5 1544.7 L1379.3 1546.7 L1380 1548.7 L1380.7 1550.9 L1381.4 1553.2 L1382.1 1555.5 L1382.8 1558 L1383.5 1560.6 L1384.2 1563.3 L1384.9 1566.2 L1385.6 1569.2 L1386.3 1572.3 L1387 1575.7 L1387.7 1579.3 L1388.4 1583.1 L1389.1 1587.2 L1389.8 1591.6 L1390.5 1596.3 L1391.2 1601.5 L1391.9 1607.1 L1392.7 1613.3 L1393.4 1620.2 L1394.1 1628 L1394.8 1636.9 L1395.5 1647.4 L1396.2 1659.9 L1396.9 1675.7 L1397.6 1696.9 L1398.3 1729.2 L1399 1800 L1399.7 1772.8 L1400.4 1753.9 L1401.1 1739.5 L1401.8 1727.8 L1402.5 1718.1 L1403.2 1709.6 L1403.9 1702.3 L1404.6 1695.7 L1405.3 1689.9 L1406 1684.6 L1406.7 1679.7 L1407.4 1675.3 L1408.1 1671.2 L1408.8 1667.4 L1409.5 1663.9 L1410.2 1660.7 L1410.9 1657.6 L1411.6 1654.8 L1412.3 1652.2 L1413 1649.7 L1413.7 1647.3 L1414.4 1645.2 L1415.1 1643.1 L1415.9 1641.2 L1416.6 1639.4 L1417.3 1637.7 L1418 1636.1 L1418.7 1634.7 L1419.4 1633.3 L1420.1 1632 L1420.8 1630.8 L1421.5 1629.7 L1422.2 1628.7 L1422.9 1627.7 L1423.6 1626.8 L1424.3 1626.1 L1425 1625.3 L1425.7 1624.7 L1426.4 1624.1 L1427.1 1623.6 L1427.8 1623.2 L1428.5 1622.8 L1429.2 1622.5 L1429.9 1622.3 L1430.6 1622.1 L1431.3 1622 L1432 1622 L1432.7 1622 L1433.4 1622.1 L1434.1 1622.2 L1434.8 1622.4 L1435.5 1622.7 L1436.2 1623 L1436.9 1623.3 L1437.6 1623.7 L1438.3 1624.2 L1439 1624.7 L1439.7 1625.3 L1440.4 1625.9 L1441.1 1626.6 L1441.8 1627.4 L1442.5 1628.2 L1443.2 1629.1 L1443.9 1630.1 L1444.6 1631.1 L1445.3 1632.2 L1446 1633.3 L1446.7 1634.6 L1447.4 1635.9 L1448.1 1637.2 L1448.9 1638.7 L1449.6 1640.3 L1450.3 1641.9 L1451 1643.6 L1451.7 1645.5 L1452.4 1647.4 L1453.1 1649.5 L1453.8 1651.6 L1454.5 1653.9 L1455.2 1656.3 L1455.9 1658.9 L1456.6 1661.6 L1457.3 1664.5 L1458 1667.5 L1458.7 1670.8 L1459.4 1674.3 L1460.1 1678 L1460.8 1682 L1461.5 1686.2 L1462.2 1690.9 L1462.9 1695.9 L1463.6 1701.3 L1464.3 1707.3 L1465 1714 L1465.7 1710.8 L1466.4 1707.7 L1467.1 1704.7 L1467.8 1701.9 L1468.5 1699.3 L1469.2 1696.7 L1469.9 1694.3 L1470.6 1692 L1471.3 1689.8 L1472 1687.6 L1472.7 1685.6 L1473.4 1683.7 L1474.1 1681.8 L1474.8 1680 L1475.5 1678.3 L1476.2 1676.6 L1476.9 1675.1 L1477.6 1673.6 L1478.3 1672.1 L1479 1670.8 L1479.7 1669.4 L1480.4 1668.2 L1481.1 1667 L1481.8 1665.8 L1482.5 1664.7 L1483.2 1663.7 L1483.9 1662.7 L1484.6 1661.7 L1485.3 1660.8 L1486 1660 L1486.7 1659.2 L1487.4 1658.4 L1488.1 1657.7 L1488.8 1657.1 L1489.5 1656.4 L1490.2 1655.9 L1490.9 1655.3 L1491.6 1654.8 L1492.3 1654.4 L1493 1654 L1493.7 1653.6 L1494.4 1653.2 L1495.1 1653 L1495.8 1652.7 L1496.5 1652.5 L1497.2 1652.3 L1497.9 1652.2 L1498.6 1652.1 L1499.3 1652 L1500 1652 L1500.7 1652 L1501.4 1652.1 L1502.1 1652.2 L1502.8 1652.4 L1503.6 1652.6 L1504.3 1652.8 L1505 1653.1 L1505.7 1653.5 L1506.4 1653.9 L1507.1 1654.3 L1507.8 1654.8 L1508.5 1655.4 L1509.2 1655.9 L1510 1656.6 L1510.7 1657.3 L1511.4 1658 L1512.1 1658.8 L1512.8 1659.7 L1513.5 1660.6 L1514.2 1661.6 L1514.9 1662.6 L1515.7 1663.7 L1516.4 1664.9 L1517.1 1666.1 L1517.8 1667.4 L1518.5 1668.8 L1519.2 1670.2 L1519.9 1671.7 L1520.6 1673.3 L1521.3 1675 L1522.1 1676.8 L1522.8 1678.7 L1523.5 1680.6 L1524.2 1682.7 L1524.9 1684.9 L1525.6 1687.2 L1526.3 1689.6 L1527 1692.2 L1527.8 1694.9 L1528.5 1697.7 L1529.2 1700.8 L1529.9 1704 L1530.6 1707.4 L1531.3 1711.1 L1532 1715.1 L1532.7 1719.3 L1533.4 1723.8 L1534.2 1728.8 L1534.9 1734.2 L1535.6 1740.1 L1536.3 1746.7 L1537 1754 L1537.7 1749.8 L1538.4 1745.8 L1539.1 1742.1 L1539.8 1738.6 L1540.5 1735.3 L1541.2 1732.2 L1541.9 1729.3 L1542.6 1726.5 L1543.3 1723.9 L1544 1721.5 L1544.7 1719.1 L1545.4 1716.9 L1546.1 1714.8 L1546.8 1712.8 L1547.5 1710.9 L1548.2 1709.2 L1548.9 1707.5 L1549.6 1705.9 L1550.3 1704.4 L1551 1703 L1551.7 1701.7 L1552.4 1700.4 L1553.1 1699.2 L1553.8 1698.2 L1554.5 1697.1 L1555.2 1696.2 L1555.9 1695.3 L1556.6 1694.5 L1557.3 1693.8 L1558 1693.1 L1558.7 1692.5 L1559.4 1692 L1560.1 1691.5 L1560.8 1691.1 L1561.5 1690.8 L1562.2 1690.5 L1562.9 1690.3 L1563.6 1690.1 L1564.3 1690 L1565 1690 L1565.7 1690 L1566.4 1690.1 L1567.1 1690.2 L1567.9 1690.4 L1568.6 1690.7 L1569.3 1691 L1570 1691.3 L1570.7 1691.7 L1571.4 1692.2 L1572.1 1692.7 L1572.9 1693.3 L1573.6 1693.9 L1574.3 1694.6 L1575 1695.3 L1575.7 1696.1 L1576.4 1697 L1577.1 1697.9 L1577.9 1698.9 L1578.6 1699.9 L1579.3 1701 L1580 1702.2 L1580.7 1703.4 L1581.4 1704.6 L1582.1 1706 L1582.9 1707.4 L1583.6 1708.8 L1584.3 1710.4 L1585 1712 L1585.7 1713.6 L1586.4 1715.3 L1587.1 1717.1 L1587.9 1719 L1588.6 1720.9 L1589.3 1722.9 L1590 1725 L1590.7 1722.8 L1591.4 1720.7 L1592.1 1718.7 L1592.8 1716.8 L1593.5 1715 L1594.3 1713.2 L1595 1711.5 L1595.7 1709.8 L1596.4 1708.3 L1597.1 1706.8 L1597.8 1705.4 L1598.5 1704.1 L1599.2 1702.8 L1599.9 1701.6 L1600.6 1700.5 L1601.4 1699.5 L1602.1 1698.5 L1602.8 1697.6 L1603.5 1696.8 L1604.2 1696 L1604.9 1695.3 L1605.6 1694.7 L1606.3 1694.1 L1607 1693.6 L1607.7 1693.2 L1608.5 1692.8 L1609.2 1692.5 L1609.9 1692.3 L1610.6 1692.1 L1611.3 1692 L1612 1692 L1612.7 1692 L1613.4 1692.1 L1614.1 1692.3 L1614.8 1692.4 L1615.5 1692.7 L1616.2 1693 L1616.9 1693.4 L1617.6 1693.8 L1618.3 1694.3 L1619 1694.8 L1619.7 1695.4 L1620.4 1696.1 L1621.1 1696.8 L1621.8 1697.6 L1622.5 1698.4 L1623.2 1699.3 L1623.9 1700.3 L1624.6 1701.3 L1625.3 1702.4 L1626 1703.6 L1626.7 1704.8 L1627.4 1706.2 L1628.1 1707.5 L1628.8 1709 L1629.5 1710.6 L1630.2 1712.2 L1630.9 1713.9 L1631.6 1715.7 L1632.3 1717.6 L1633 1719.6 L1633.7 1721.7 L1634.4 1723.9 L1635.1 1726.2 L1635.8 1728.6 L1636.5 1731.2 L1637.2 1733.8 L1637.9 1736.6 L1638.6 1739.6 L1639.3 1742.7 L1640 1746 L1640.7 1743.5 L1641.4 1741.2 L1642.1 1738.9 L1642.9 1736.7 L1643.6 1734.6 L1644.3 1732.6 L1645 1730.7 L1645.7 1728.9 L1646.4 1727.1 L1647.1 1725.5 L1647.9 1723.9 L1648.6 1722.3 L1649.3 1720.9 L1650 1719.5 L1650.7 1718.2 L1651.4 1717 L1652.1 1715.9 L1652.9 1714.8 L1653.6 1713.8 L1654.3 1712.8 L1655 1711.9 L1655.7 1711.1 L1656.4 1710.3 L1657.1 1709.6 L1657.9 1709 L1658.6 1708.4 L1659.3 1707.9 L1660 1707.5 L1660.7 1707.1 L1661.4 1706.7 L1662.1 1706.5 L1662.9 1706.3 L1663.6 1706.1 L1664.3 1706 L1665 1706 L1665.7 1706 L1666.4 1706.1 L1667.1 1706.2 L1667.8 1706.4 L1668.6 1706.6 L1669.3 1706.9 L1670 1707.3 L1670.7 1707.7 L1671.4 1708.1 L1672.1 1708.6 L1672.8 1709.1 L1673.5 1709.7 L1674.2 1710.4 L1675 1711.1 L1675.7 1711.9 L1676.4 1712.7 L1677.1 1713.6 L1677.8 1714.6 L1678.5 1715.6 L1679.2 1716.7 L1679.9 1717.9 L1680.6 1719.1 L1681.4 1720.4 L1682.1 1721.7 L1682.8 1723.2 L1683.5 1724.7 L1684.2 1726.3 L1684.9 1728 L1685.6 1729.8 L1686.3 1731.7 L1687 1733.6 L1687.8 1735.7 L1688.5 1737.9 L1689.2 1740.2 L1689.9 1742.6 L1690.6 1745.1 L1691.3 1747.8 L1692 1750.7 L1692.7 1753.7 L1693.4 1756.8 L1694.2 1760.2 L1694.9 1763.8 L1695.6 1767.6 L1696.3 1771.6 L1697 1776 L1697.7 1772.1 L1698.4 1768.4 L1699.1 1764.9 L1699.9 1761.6 L1700.6 1758.5 L1701.3 1755.6 L1702 1752.8 L1702.7 1750.3 L1703.4 1747.8 L1704.1 1745.5 L1704.9 1743.3 L1705.6 1741.2 L1706.3 1739.3 L1707 1737.5 L1707.7 1735.7 L1708.4 1734.1 L1709.1 1732.6 L1709.9 1731.2 L1710.6 1729.9 L1711.3 1728.6 L1712 1727.5 L1712.7 1726.4 L1713.4 1725.5 L1714.1 1724.6 L1714.9 1723.8 L1715.6 1723 L1716.3 1722.4 L1717 1721.8 L1717.7 1721.3 L1718.4 1720.9 L1719.1 1720.6 L1719.9 1720.3 L1720.6 1720.1 L1721.3 1720 L1722 1720 L1722.7 1720.1 L1723.4 1720.2 L1724.1 1720.5 L1724.9 1720.9 L1725.6 1721.4 L1726.3 1722 L1727 1722.7 L1727.7 1723.5 L1728.4 1724.5 L1729.1 1725.6 L1729.9 1726.8 L1730.6 1728.1 L1731.3 1729.6 L1732 1731.1 L1732.7 1732.9 L1733.4 1734.7 L1734.1 1736.7 L1734.9 1738.9 L1735.6 1741.2 L1736.3 1743.7 L1737 1746.4 L1737.7 1749.2 L1738.4 1752.3 L1739.1 1755.5 L1739.9 1759 L1740.6 1762.7 L1741.3 1766.7 L1742 1771 L1742.7 1767.6 L1743.4 1764.4 L1744.1 1761.4 L1744.9 1758.6 L1745.6 1755.9 L1746.3 1753.3 L1747 1750.9 L1747.7 1748.7 L1748.4 1746.5 L1749.1 1744.6 L1749.9 1742.7 L1750.6 1741 L1751.3 1739.3 L1752 1737.8 L1752.7 1736.4 L1753.4 1735.2 L1754.1 1734 L1754.9 1733 L1755.6 1732 L1756.3 1731.2 L1757 1730.4 L1757.7 1729.8 L1758.4 1729.2 L1759.1 1728.8 L1759.9 1728.4 L1760.6 1728.2 L1761.3 1728 L1762 1728" fill="none" stroke="#0072bd" stroke-width="6.5" stroke-linejoin="round" stroke-dasharray="25 21"/>
<path d="M221.5 1641 L222.2 1641 L222.9 1641.2 L223.6 1641.4 L224.4 1641.7 L225.1 1642.1 L225.8 1642.6 L226.5 1643.2 L227.2 1643.8 L227.9 1644.6 L228.6 1645.5 L229.3 1646.5 L230.1 1647.5 L230.8 1648.7 L231.5 1650 L232.2 1651.4 L232.9 1652.9 L233.6 1654.5 L234.3 1656.3 L235.1 1658.2 L235.8 1660.2 L236.5 1662.4 L237.2 1664.8 L237.9 1667.3 L238.6 1670 L239.3 1672.9 L240.1 1676.1 L240.8 1679.4 L241.5 1683 L242.2 1687 L242.9 1691.2 L243.6 1695.8 L244.3 1700.9 L245 1706.4 L245.8 1712.6 L246.5 1719.4 L247.2 1727.2 L247.9 1736 L248.6 1726.3 L249.3 1718 L250.1 1710.7 L250.8 1704.1 L251.5 1698.3 L252.2 1692.9 L252.9 1688.1 L253.6 1683.6 L254.4 1679.5 L255.1 1675.8 L255.8 1672.3 L256.5 1669 L257.2 1666 L258 1663.2 L258.7 1660.5 L259.4 1658.1 L260.1 1655.8 L260.8 1653.7 L261.6 1651.7 L262.3 1649.9 L263 1648.1 L263.7 1646.6 L264.4 1645.1 L265.1 1643.7 L265.9 1642.5 L266.6 1641.3 L267.3 1640.3 L268 1639.4 L268.7 1638.5 L269.5 1637.8 L270.2 1637.1 L270.9 1636.5 L271.6 1636.1 L272.3 1635.7 L273 1635.4 L273.8 1635.2 L274.5 1635 L275.2 1635 L275.9 1635 L276.6 1635.1 L277.3 1635.3 L278.1 1635.6 L278.8 1635.9 L279.5 1636.3 L280.2 1636.8 L280.9 1637.4 L281.6 1638 L282.4 1638.8 L283.1 1639.6 L283.8 1640.5 L284.5 1641.4 L285.2 1642.5 L285.9 1643.6 L286.7 1644.9 L287.4 1646.2 L288.1 1647.7 L288.8 1649.2 L289.5 1650.8 L290.2 1652.6 L290.9 1654.5 L291.7 1656.5 L292.4 1658.6 L293.1 1660.8 L293.8 1663.2 L294.5 1665.8 L295.2 1668.5 L296 1671.4 L296.7 1674.5 L297.4 1677.8 L298.1 1681.3 L298.8 1685.1 L299.5 1689.2 L300.3 1693.5 L301 1698.3 L301.7 1703.4 L302.4 1709 L303.1 1704.5 L303.8 1700.3 L304.5 1696.3 L305.2 1692.6 L305.9 1689.1 L306.6 1685.9 L307.3 1682.8 L308 1679.8 L308.7 1677 L309.4 1674.4 L310.1 1671.9 L310.8 1669.5 L311.5 1667.2 L312.3 1665.1 L313 1663 L313.7 1661 L314.4 1659.1 L315.1 1657.3 L315.8 1655.6 L316.5 1654 L317.2 1652.4 L317.9 1650.9 L318.6 1649.5 L319.3 1648.2 L320 1646.9 L320.7 1645.6 L321.4 1644.5 L322.1 1643.3 L322.8 1642.3 L323.5 1641.3 L324.2 1640.3 L324.9 1639.4 L325.6 1638.6 L326.3 1637.8 L327 1637 L327.7 1636.3 L328.4 1635.7 L329.1 1635.1 L329.9 1634.5 L330.6 1634 L331.3 1633.5 L332 1633 L332.7 1632.7 L333.4 1632.3 L334.1 1632 L334.8 1631.7 L335.5 1631.5 L336.2 1631.3 L336.9 1631.2 L337.6 1631.1 L338.3 1631 L339 1631 L339.7 1631 L340.4 1631.1 L341.1 1631.2 L341.8 1631.4 L342.5 1631.6 L343.2 1631.9 L344 1632.3 L344.7 1632.7 L345.4 1633.1 L346.1 1633.6 L346.8 1634.2 L347.5 1634.8 L348.2 1635.4 L348.9 1636.1 L349.6 1636.9 L350.3 1637.7 L351 1638.6 L351.7 1639.6 L352.4 1640.6 L353.1 1641.7 L353.9 1642.8 L354.6 1644 L355.3 1645.3 L356 1646.6 L356.7 1648 L357.4 1649.5 L358.1 1651 L358.8 1652.6 L359.5 1654.3 L360.2 1656.1 L360.9 1658 L361.6 1659.9 L362.3 1661.9 L363.1 1664.1 L363.8 1666.3 L364.5 1668.6 L365.2 1671 L365.9 1673.6 L366.6 1676.2 L367.3 1679 L368 1672.7 L368.7 1666.9 L369.4 1661.7 L370.1 1656.8 L370.9 1652.4 L371.6 1648.2 L372.3 1644.3 L373 1640.7 L373.7 1637.3 L374.4 1634 L375.1 1631 L375.8 1628.1 L376.5 1625.4 L377.3 1622.8 L378 1620.3 L378.7 1617.9 L379.4 1615.7 L380.1 1613.5 L380.8 1611.5 L381.5 1609.5 L382.2 1607.7 L382.9 1605.9 L383.7 1604.2 L384.4 1602.5 L385.1 1601 L385.8 1599.5 L386.5 1598 L387.2 1596.6 L387.9 1595.3 L388.6 1594.1 L389.4 1592.8 L390.1 1591.7 L390.8 1590.6 L391.5 1589.5 L392.2 1588.5 L392.9 1587.6 L393.6 1586.6 L394.3 1585.8 L395 1584.9 L395.8 1584.1 L396.5 1583.4 L397.2 1582.7 L397.9 1582 L398.6 1581.4 L399.3 1580.8 L400 1580.2 L400.7 1579.7 L401.4 1579.2 L402.2 1578.8 L402.9 1578.4 L403.6 1578 L404.3 1577.6 L405 1577.3 L405.7 1577 L406.4 1576.8 L407.1 1576.6 L407.8 1576.4 L408.6 1576.3 L409.3 1576.1 L410 1576.1 L410.7 1576 L411.4 1576 L412.1 1576.1 L412.8 1576.2 L413.5 1576.5 L414.2 1576.9 L414.9 1577.3 L415.6 1577.9 L416.3 1578.7 L417 1579.5 L417.8 1580.4 L418.5 1581.5 L419.2 1582.7 L419.9 1584 L420.6 1585.5 L421.3 1587.1 L422 1588.8 L422.7 1590.7 L423.4 1592.8 L424.1 1595.1 L424.8 1597.5 L425.5 1600.2 L426.2 1603 L426.9 1606.2 L427.6 1609.5 L428.3 1613.2 L429 1617.3 L429.7 1621.7 L430.4 1626.5 L431.2 1631.8 L431.9 1637.8 L432.6 1644.5 L433.3 1652 L434 1660.7 L434.7 1670.9 L435.4 1683.2 L436.1 1698.5 L436.8 1719 L437.5 1687.6 L438.2 1666.9 L438.9 1651.3 L439.6 1638.9 L440.3 1628.6 L441 1619.8 L441.7 1612.1 L442.4 1605.3 L443.1 1599.2 L443.9 1593.7 L444.6 1588.7 L445.3 1584.1 L446 1579.8 L446.7 1575.9 L447.4 1572.2 L448.1 1568.8 L448.8 1565.6 L449.5 1562.6 L450.2 1559.8 L450.9 1557.1 L451.6 1554.6 L452.3 1552.3 L453 1550 L453.7 1547.9 L454.4 1545.9 L455.1 1544 L455.8 1542.3 L456.6 1540.6 L457.3 1539 L458 1537.4 L458.7 1536 L459.4 1534.6 L460.1 1533.4 L460.8 1532.1 L461.5 1531 L462.2 1529.9 L462.9 1528.9 L463.6 1527.9 L464.3 1527.1 L465 1526.2 L465.7 1525.4 L466.4 1524.7 L467.1 1524.1 L467.8 1523.4 L468.5 1522.9 L469.2 1522.4 L470 1521.9 L470.7 1521.5 L471.4 1521.2 L472.1 1520.9 L472.8 1520.6 L473.5 1520.4 L474.2 1520.2 L474.9 1520.1 L475.6 1520 L476.3 1520 L477 1520.1 L477.7 1520.2 L478.4 1520.5 L479.2 1520.8 L479.9 1521.3 L480.6 1521.9 L481.3 1522.6 L482 1523.4 L482.7 1524.3 L483.4 1525.3 L484.2 1526.4 L484.9 1527.7 L485.6 1529.1 L486.3 1530.6 L487 1532.3 L487.7 1534.1 L488.4 1536.1 L489.1 1538.3 L489.9 1540.6 L490.6 1543.1 L491.3 1545.9 L492 1548.8 L492.7 1552 L493.4 1555.5 L494.1 1559.2 L494.9 1563.3 L495.6 1567.8 L496.3 1572.7 L497 1578.2 L497.7 1584.2 L498.4 1591 L499.1 1598.7 L499.9 1607.5 L500.6 1617.9 L501.3 1630.3 L502 1646 L502.7 1622.4 L503.4 1605.3 L504.1 1591.9 L504.9 1580.9 L505.6 1571.6 L506.3 1563.6 L507 1556.5 L507.7 1550.1 L508.4 1544.4 L509.1 1539.2 L509.8 1534.5 L510.6 1530.1 L511.3 1526.1 L512 1522.3 L512.7 1518.8 L513.4 1515.6 L514.1 1512.5 L514.8 1509.6 L515.6 1506.9 L516.3 1504.4 L517 1502 L517.7 1499.8 L518.4 1497.6 L519.1 1495.6 L519.8 1493.7 L520.5 1491.9 L521.3 1490.2 L522 1488.6 L522.7 1487.1 L523.4 1485.7 L524.1 1484.4 L524.8 1483.1 L525.5 1481.9 L526.2 1480.8 L527 1479.7 L527.7 1478.7 L528.4 1477.8 L529.1 1477 L529.8 1476.2 L530.5 1475.5 L531.2 1474.8 L532 1474.2 L532.7 1473.6 L533.4 1473.1 L534.1 1472.7 L534.8 1472.3 L535.5 1471.9 L536.2 1471.6 L536.9 1471.4 L537.7 1471.2 L538.4 1471.1 L539.1 1471 L539.8 1471 L540.5 1471 L541.2 1471.2 L541.9 1471.4 L542.6 1471.7 L543.3 1472.1 L544 1472.6 L544.7 1473.2 L545.4 1473.8 L546.1 1474.6 L546.8 1475.5 L547.5 1476.4 L548.2 1477.5 L548.9 1478.6 L549.6 1479.9 L550.3 1481.3 L551 1482.8 L551.7 1484.5 L552.4 1486.2 L553.1 1488.1 L553.8 1490.2 L554.5 1492.4 L555.2 1494.7 L555.9 1497.3 L556.6 1500 L557.3 1502.9 L558 1506.1 L558.7 1509.5 L559.4 1513.2 L560.1 1517.2 L560.8 1521.6 L561.5 1526.3 L562.2 1531.6 L562.9 1537.3 L563.6 1543.8 L564.3 1551 L565 1559.3 L565.7 1568.8 L566.4 1580.1 L567.1 1594 L567.8 1573.6 L568.5 1558.2 L569.2 1545.9 L569.9 1535.7 L570.6 1526.9 L571.4 1519.2 L572.1 1512.5 L572.8 1506.4 L573.5 1500.9 L574.2 1495.9 L574.9 1491.3 L575.6 1487 L576.3 1483.1 L577 1479.4 L577.7 1476 L578.5 1472.8 L579.2 1469.8 L579.9 1467 L580.6 1464.4 L581.3 1461.9 L582 1459.6 L582.7 1457.4 L583.4 1455.3 L584.1 1453.3 L584.8 1451.4 L585.5 1449.7 L586.3 1448 L587 1446.4 L587.7 1444.9 L588.4 1443.5 L589.1 1442.2 L589.8 1440.9 L590.5 1439.8 L591.2 1438.7 L591.9 1437.6 L592.6 1436.7 L593.3 1435.7 L594.1 1434.9 L594.8 1434.1 L595.5 1433.4 L596.2 1432.7 L596.9 1432.1 L597.6 1431.6 L598.3 1431.1 L599 1430.6 L599.7 1430.3 L600.4 1429.9 L601.2 1429.6 L601.9 1429.4 L602.6 1429.2 L603.3 1429.1 L604 1429 L604.7 1429 L605.4 1429.1 L606.1 1429.2 L606.8 1429.5 L607.5 1429.9 L608.3 1430.4 L609 1431 L609.7 1431.7 L610.4 1432.6 L611.1 1433.6 L611.8 1434.7 L612.5 1435.9 L613.2 1437.3 L613.9 1438.8 L614.7 1440.5 L615.4 1442.3 L616.1 1444.3 L616.8 1446.5 L617.5 1448.9 L618.2 1451.4 L618.9 1454.2 L619.6 1457.3 L620.3 1460.6 L621 1464.2 L621.8 1468.2 L622.5 1472.5 L623.2 1477.3 L623.9 1482.6 L624.6 1488.6 L625.3 1495.2 L626 1502.8 L626.7 1511.5 L627.4 1521.8 L628.2 1534.3 L628.9 1550 L629.6 1571.2 L630.3 1603.7 L631 1676 L631.7 1567.4 L632.4 1529.9 L633.1 1506.6 L633.8 1489.7 L634.5 1476.5 L635.2 1465.6 L635.9 1456.3 L636.6 1448.3 L637.3 1441.1 L638 1434.8 L638.7 1429 L639.4 1423.8 L640.1 1418.9 L640.8 1414.5 L641.5 1410.3 L642.2 1406.4 L642.9 1402.8 L643.6 1399.4 L644.3 1396.2 L645 1393.1 L645.7 1390.2 L646.4 1387.5 L647.2 1384.9 L647.9 1382.4 L648.6 1380 L649.3 1377.8 L650 1375.6 L650.7 1373.5 L651.4 1371.5 L652.1 1369.6 L652.8 1367.8 L653.5 1366 L654.2 1364.3 L654.9 1362.7 L655.6 1361.1 L656.3 1359.6 L657 1358.1 L657.7 1356.7 L658.4 1355.3 L659.1 1354 L659.8 1352.7 L660.5 1351.5 L661.2 1350.3 L661.9 1349.2 L662.6 1348.1 L663.3 1347 L664 1346 L664.7 1345 L665.4 1344 L666.1 1343.1 L666.8 1342.2 L667.5 1341.3 L668.2 1340.4 L668.9 1339.6 L669.6 1338.9 L670.3 1338.1 L671 1337.4 L671.7 1336.7 L672.4 1336 L673.1 1335.4 L673.8 1334.7 L674.5 1334.1 L675.2 1333.6 L675.9 1333 L676.6 1332.5 L677.3 1332 L678 1331.5 L678.7 1331 L679.5 1330.6 L680.2 1330.2 L680.9 1329.8 L681.6 1329.4 L682.3 1329 L683 1328.7 L683.7 1328.4 L684.4 1328.1 L685.1 1327.8 L685.8 1327.6 L686.5 1327.3 L687.2 1327.1 L687.9 1326.9 L688.6 1326.8 L689.3 1326.6 L690 1326.5 L690.7 1326.3 L691.4 1326.2 L692.1 1326.1 L692.8 1326.1 L693.5 1326 L694.2 1326 L694.9 1326 L695.6 1326 L696.3 1326 L697 1326.1 L697.7 1326.1 L698.4 1326.2 L699.1 1326.3 L699.8 1326.4 L700.5 1326.6 L701.2 1326.7 L701.9 1326.9 L702.6 1327.1 L703.4 1327.3 L704.1 1327.5 L704.8 1327.8 L705.5 1328.1 L706.2 1328.3 L706.9 1328.6 L707.6 1329 L708.3 1329.3 L709 1329.7 L709.7 1330.1 L710.4 1330.5 L711.1 1330.9 L711.8 1331.3 L712.5 1331.8 L713.2 1332.3 L713.9 1332.8 L714.6 1333.4 L715.3 1333.9 L716 1334.5 L716.7 1335.1 L717.4 1335.7 L718.1 1336.4 L718.8 1337.1 L719.6 1337.8 L720.3 1338.5 L721 1339.3 L721.7 1340 L722.4 1340.9 L723.1 1341.7 L723.8 1342.6 L724.5 1343.5 L725.2 1344.4 L725.9 1345.4 L726.6 1346.4 L727.3 1347.4 L728 1348.5 L728.7 1349.6 L729.4 1350.7 L730.1 1351.9 L730.8 1353.1 L731.5 1354.4 L732.2 1355.7 L732.9 1357.1 L733.6 1358.5 L734.3 1360 L735 1361.5 L735.8 1363.1 L736.5 1364.7 L737.2 1366.4 L737.9 1368.1 L738.6 1370 L739.3 1371.9 L740 1373.8 L740.7 1375.9 L741.4 1378.1 L742.1 1380.3 L742.8 1382.7 L743.5 1385.1 L744.2 1387.7 L744.9 1390.4 L745.6 1393.3 L746.3 1396.3 L747 1399.4 L747.7 1402.8 L748.4 1406.4 L749.1 1410.2 L749.8 1414.3 L750.5 1418.7 L751.2 1423.4 L752 1428.6 L752.7 1434.2 L753.4 1440.4 L754.1 1447.3 L754.8 1455.1 L755.5 1464 L756.2 1474.5 L756.9 1487.1 L757.6 1502.8 L758.3 1524.1 L759 1556.5 L759.7 1628 L760.4 1581.2 L761.1 1554.8 L761.8 1536.3 L762.5 1522.2 L763.2 1510.7 L763.9 1501.1 L764.7 1492.9 L765.4 1485.7 L766.1 1479.3 L766.8 1473.7 L767.5 1468.5 L768.2 1463.9 L768.9 1459.7 L769.6 1455.8 L770.3 1452.3 L771 1449 L771.7 1446 L772.4 1443.3 L773.2 1440.7 L773.9 1438.3 L774.6 1436.2 L775.3 1434.2 L776 1432.3 L776.7 1430.7 L777.4 1429.1 L778.1 1427.7 L778.8 1426.4 L779.5 1425.3 L780.2 1424.3 L780.9 1423.3 L781.6 1422.6 L782.4 1421.9 L783.1 1421.3 L783.8 1420.8 L784.5 1420.5 L785.2 1420.2 L785.9 1420.1 L786.6 1420 L787.3 1420 L788 1420.1 L788.7 1420.3 L789.5 1420.5 L790.2 1420.8 L790.9 1421.1 L791.6 1421.5 L792.3 1422 L793 1422.5 L793.7 1423.1 L794.5 1423.7 L795.2 1424.5 L795.9 1425.3 L796.6 1426.2 L797.3 1427.1 L798 1428.1 L798.7 1429.2 L799.5 1430.4 L800.2 1431.7 L800.9 1433 L801.6 1434.5 L802.3 1436 L803 1437.7 L803.7 1439.4 L804.5 1441.3 L805.2 1443.3 L805.9 1445.4 L806.6 1447.6 L807.3 1450 L808 1452.6 L808.7 1455.3 L809.4 1458.2 L810.2 1461.3 L810.9 1464.7 L811.6 1468.3 L812.3 1472.2 L813 1476.4 L813.7 1480.9 L814.4 1485.9 L815.2 1491.4 L815.9 1497.5 L816.6 1504.3 L817.3 1512.1 L818 1521 L818.7 1531.4 L819.4 1544 L820.2 1559.9 L820.9 1581.4 L821.6 1614.6 L822.3 1690 L823 1629.3 L823.7 1599.2 L824.4 1579 L825.1 1563.8 L825.8 1551.7 L826.5 1541.6 L827.2 1533 L827.9 1525.5 L828.6 1518.9 L829.3 1513 L830.1 1507.7 L830.8 1502.9 L831.5 1498.5 L832.2 1494.5 L832.9 1490.8 L833.6 1487.4 L834.3 1484.3 L835 1481.4 L835.7 1478.7 L836.4 1476.2 L837.1 1473.9 L837.8 1471.7 L838.5 1469.8 L839.2 1467.9 L839.9 1466.2 L840.6 1464.6 L841.3 1463.2 L842 1461.9 L842.7 1460.7 L843.4 1459.6 L844.2 1458.6 L844.9 1457.7 L845.6 1456.9 L846.3 1456.2 L847 1455.6 L847.7 1455.1 L848.4 1454.7 L849.1 1454.4 L849.8 1454.2 L850.5 1454 L851.2 1454 L851.9 1454 L852.6 1454.1 L853.3 1454.3 L854 1454.5 L854.8 1454.8 L855.5 1455.1 L856.2 1455.5 L856.9 1455.9 L857.6 1456.5 L858.3 1457 L859 1457.7 L859.7 1458.4 L860.5 1459.2 L861.2 1460 L861.9 1461 L862.6 1462 L863.3 1463.1 L864 1464.2 L864.7 1465.5 L865.4 1466.8 L866.2 1468.2 L866.9 1469.7 L867.6 1471.3 L868.3 1473 L869 1474.9 L869.7 1476.8 L870.4 1478.9 L871.1 1481.1 L871.8 1483.4 L872.6 1485.9 L873.3 1488.5 L874 1491.4 L874.7 1494.4 L875.4 1497.6 L876.1 1501.1 L876.8 1504.9 L877.5 1508.9 L878.3 1513.3 L879 1518.1 L879.7 1523.3 L880.4 1529.1 L881.1 1535.6 L881.8 1542.8 L882.5 1551.1 L883.2 1560.7 L884 1572.1 L884.7 1586.1 L885.4 1604.3 L886.1 1630.1 L886.8 1675 L887.5 1635.2 L888.2 1611.1 L888.9 1593.9 L889.6 1580.4 L890.3 1569.4 L891 1560.2 L891.7 1552.2 L892.4 1545.2 L893.1 1538.9 L893.9 1533.4 L894.6 1528.3 L895.3 1523.8 L896 1519.6 L896.7 1515.8 L897.4 1512.3 L898.1 1509 L898.8 1506 L899.5 1503.3 L900.2 1500.7 L900.9 1498.4 L901.6 1496.2 L902.3 1494.1 L903 1492.3 L903.7 1490.6 L904.4 1489 L905.1 1487.6 L905.8 1486.2 L906.5 1485 L907.2 1484 L908 1483 L908.7 1482.1 L909.4 1481.4 L910.1 1480.8 L910.8 1480.2 L911.5 1479.8 L912.2 1479.4 L912.9 1479.2 L913.6 1479 L914.3 1479 L915 1479 L915.7 1479.1 L916.4 1479.3 L917.1 1479.5 L917.8 1479.8 L918.5 1480.1 L919.2 1480.5 L919.9 1480.9 L920.6 1481.5 L921.3 1482 L922 1482.7 L922.7 1483.4 L923.4 1484.2 L924.1 1485.1 L924.8 1486 L925.5 1487 L926.2 1488.1 L926.9 1489.2 L927.6 1490.5 L928.3 1491.8 L929 1493.2 L929.7 1494.7 L930.4 1496.4 L931.1 1498.1 L931.8 1499.9 L932.5 1501.8 L933.2 1503.9 L933.9 1506.1 L934.6 1508.5 L935.3 1510.9 L936 1513.6 L936.7 1516.4 L937.4 1519.5 L938.1 1522.7 L938.8 1526.2 L939.5 1530 L940.2 1534 L940.9 1538.4 L941.6 1543.2 L942.3 1548.5 L943 1554.3 L943.7 1560.8 L944.4 1568.1 L945.1 1576.4 L945.8 1586.1 L946.5 1597.6 L947.2 1611.7 L947.9 1630.1 L948.6 1656.5 L949.3 1703 L950 1662.7 L950.7 1638.5 L951.4 1621.1 L952.1 1607.6 L952.9 1596.5 L953.6 1587.2 L954.3 1579.2 L955 1572.1 L955.7 1565.9 L956.4 1560.3 L957.1 1555.2 L957.8 1550.6 L958.6 1546.4 L959.3 1542.5 L960 1538.9 L960.7 1535.6 L961.4 1532.6 L962.1 1529.8 L962.8 1527.2 L963.5 1524.7 L964.3 1522.5 L965 1520.4 L965.7 1518.4 L966.4 1516.6 L967.1 1515 L967.8 1513.4 L968.5 1512 L969.2 1510.7 L970 1509.5 L970.7 1508.5 L971.4 1507.5 L972.1 1506.6 L972.8 1505.9 L973.5 1505.2 L974.2 1504.6 L974.9 1504.1 L975.7 1503.7 L976.4 1503.4 L977.1 1503.2 L977.8 1503 L978.5 1503 L979.2 1503 L979.9 1503.1 L980.6 1503.3 L981.3 1503.5 L982 1503.7 L982.7 1504 L983.4 1504.4 L984.1 1504.9 L984.8 1505.4 L985.5 1505.9 L986.2 1506.6 L986.9 1507.3 L987.7 1508 L988.4 1508.8 L989.1 1509.7 L989.8 1510.7 L990.5 1511.7 L991.2 1512.9 L991.9 1514.1 L992.6 1515.3 L993.3 1516.7 L994 1518.1 L994.7 1519.7 L995.4 1521.3 L996.1 1523.1 L996.8 1524.9 L997.5 1526.9 L998.2 1529 L998.9 1531.2 L999.6 1533.6 L1000.3 1536.1 L1001 1538.7 L1001.7 1541.6 L1002.4 1544.6 L1003.1 1547.9 L1003.8 1551.4 L1004.5 1555.1 L1005.3 1559.2 L1006 1563.6 L1006.7 1568.3 L1007.4 1573.6 L1008.1 1579.3 L1008.8 1585.7 L1009.5 1592.9 L1010.2 1601.1 L1010.9 1610.6 L1011.6 1621.8 L1012.3 1635.5 L1013 1653.2 L1013.7 1678 L1014.4 1659.1 L1015.1 1644.7 L1015.8 1633 L1016.5 1623.2 L1017.2 1614.7 L1017.9 1607.3 L1018.6 1600.8 L1019.3 1594.9 L1020 1589.6 L1020.7 1584.7 L1021.5 1580.3 L1022.2 1576.2 L1022.9 1572.4 L1023.6 1568.9 L1024.3 1565.7 L1025 1562.7 L1025.7 1559.9 L1026.4 1557.2 L1027.1 1554.8 L1027.8 1552.5 L1028.5 1550.3 L1029.2 1548.3 L1029.9 1546.4 L1030.6 1544.6 L1031.3 1543 L1032 1541.5 L1032.7 1540 L1033.4 1538.7 L1034.1 1537.5 L1034.8 1536.3 L1035.5 1535.3 L1036.2 1534.3 L1037 1533.5 L1037.7 1532.7 L1038.4 1532 L1039.1 1531.3 L1039.8 1530.8 L1040.5 1530.3 L1041.2 1529.9 L1041.9 1529.6 L1042.6 1529.3 L1043.3 1529.1 L1044 1529 L1044.7 1529 L1045.4 1529 L1046.1 1529.1 L1046.8 1529.3 L1047.5 1529.6 L1048.3 1529.9 L1049 1530.3 L1049.7 1530.8 L1050.4 1531.3 L1051.1 1532 L1051.8 1532.7 L1052.5 1533.5 L1053.2 1534.4 L1053.9 1535.3 L1054.7 1536.4 L1055.4 1537.5 L1056.1 1538.7 L1056.8 1540.1 L1057.5 1541.5 L1058.2 1543.1 L1058.9 1544.7 L1059.6 1546.5 L1060.3 1548.4 L1061.1 1550.4 L1061.8 1552.6 L1062.5 1554.9 L1063.2 1557.4 L1063.9 1560.1 L1064.6 1562.9 L1065.3 1566 L1066 1569.3 L1066.7 1572.8 L1067.5 1576.7 L1068.2 1580.9 L1068.9 1585.4 L1069.6 1590.4 L1070.3 1595.8 L1071 1601.9 L1071.7 1608.7 L1072.4 1616.4 L1073.1 1625.3 L1073.9 1635.7 L1074.6 1648.2 L1075.3 1664.1 L1076 1685.4 L1076.7 1718 L1077.4 1691.3 L1078.1 1672.6 L1078.8 1658.3 L1079.5 1646.7 L1080.3 1637 L1081 1628.6 L1081.7 1621.3 L1082.4 1614.8 L1083.1 1608.9 L1083.8 1603.6 L1084.5 1598.8 L1085.2 1594.4 L1085.9 1590.3 L1086.6 1586.5 L1087.4 1583 L1088.1 1579.7 L1088.8 1576.7 L1089.5 1573.8 L1090.2 1571.2 L1090.9 1568.7 L1091.6 1566.3 L1092.3 1564.1 L1093 1562.1 L1093.8 1560.1 L1094.5 1558.3 L1095.2 1556.6 L1095.9 1555 L1096.6 1553.5 L1097.3 1552.1 L1098 1550.8 L1098.7 1549.6 L1099.4 1548.4 L1100.1 1547.4 L1100.9 1546.4 L1101.6 1545.5 L1102.3 1544.6 L1103 1543.9 L1103.7 1543.2 L1104.4 1542.6 L1105.1 1542 L1105.8 1541.6 L1106.5 1541.1 L1107.2 1540.8 L1108 1540.5 L1108.7 1540.3 L1109.4 1540.1 L1110.1 1540 L1110.8 1540 L1111.5 1540 L1112.2 1540.1 L1112.9 1540.3 L1113.6 1540.5 L1114.3 1540.8 L1115 1541.1 L1115.7 1541.5 L1116.4 1542 L1117.1 1542.5 L1117.8 1543.1 L1118.5 1543.8 L1119.2 1544.5 L1120 1545.3 L1120.7 1546.2 L1121.4 1547.2 L1122.1 1548.2 L1122.8 1549.3 L1123.5 1550.5 L1124.2 1551.8 L1124.9 1553.1 L1125.6 1554.6 L1126.3 1556.1 L1127 1557.8 L1127.7 1559.5 L1128.4 1561.4 L1129.1 1563.4 L1129.8 1565.5 L1130.5 1567.8 L1131.2 1570.1 L1131.9 1572.7 L1132.6 1575.4 L1133.3 1578.3 L1134 1581.4 L1134.7 1584.7 L1135.4 1588.3 L1136.1 1592.2 L1136.9 1596.3 L1137.6 1600.8 L1138.3 1605.7 L1139 1611.1 L1139.7 1617.1 L1140.4 1623.8 L1141.1 1631.2 L1141.8 1639.8 L1142.5 1649.8 L1143.2 1661.7 L1143.9 1676.5 L1144.6 1696 L1145.3 1681.2 L1146 1669.3 L1146.7 1659.3 L1147.4 1650.8 L1148.1 1643.3 L1148.8 1636.7 L1149.5 1630.8 L1150.2 1625.4 L1150.9 1620.6 L1151.6 1616.2 L1152.3 1612.1 L1153 1608.4 L1153.7 1605 L1154.4 1601.8 L1155.1 1598.9 L1155.8 1596.1 L1156.5 1593.6 L1157.2 1591.3 L1157.9 1589.1 L1158.6 1587.1 L1159.3 1585.3 L1160 1583.6 L1160.7 1582 L1161.4 1580.6 L1162.1 1579.2 L1162.8 1578 L1163.5 1577 L1164.2 1576 L1164.9 1575.2 L1165.6 1574.4 L1166.3 1573.8 L1167 1573.2 L1167.7 1572.8 L1168.4 1572.4 L1169.1 1572.2 L1169.8 1572 L1170.5 1572 L1171.2 1572 L1171.9 1572.1 L1172.6 1572.3 L1173.3 1572.6 L1174 1572.9 L1174.7 1573.3 L1175.4 1573.8 L1176.1 1574.4 L1176.8 1575 L1177.5 1575.7 L1178.2 1576.5 L1178.9 1577.4 L1179.6 1578.4 L1180.3 1579.4 L1181 1580.6 L1181.7 1581.8 L1182.4 1583.2 L1183.1 1584.6 L1183.8 1586.2 L1184.5 1587.8 L1185.2 1589.6 L1185.9 1591.5 L1186.7 1593.6 L1187.4 1595.8 L1188.1 1598.1 L1188.8 1600.6 L1189.5 1603.3 L1190.2 1606.2 L1190.9 1609.3 L1191.6 1612.7 L1192.3 1616.3 L1193 1620.2 L1193.7 1624.4 L1194.4 1629 L1195.1 1634.1 L1195.8 1639.7 L1196.5 1645.9 L1197.2 1652.8 L1197.9 1660.7 L1198.6 1669.9 L1199.3 1680.6 L1200 1693.7 L1200.7 1710.4 L1201.4 1733.3 L1202.1 1770 L1202.8 1735.3 L1203.5 1713.2 L1204.2 1696.9 L1204.9 1684 L1205.7 1673.4 L1206.4 1664.4 L1207.1 1656.6 L1207.8 1649.7 L1208.5 1643.6 L1209.2 1638 L1209.9 1633 L1210.6 1628.4 L1211.3 1624.2 L1212.1 1620.3 L1212.8 1616.7 L1213.5 1613.4 L1214.2 1610.2 L1214.9 1607.4 L1215.6 1604.7 L1216.3 1602.1 L1217 1599.8 L1217.7 1597.6 L1218.4 1595.5 L1219.2 1593.6 L1219.9 1591.7 L1220.6 1590.1 L1221.3 1588.5 L1222 1587 L1222.7 1585.6 L1223.4 1584.3 L1224.1 1583.2 L1224.8 1582.1 L1225.6 1581.1 L1226.3 1580.1 L1227 1579.3 L1227.7 1578.5 L1228.4 1577.9 L1229.1 1577.3 L1229.8 1576.7 L1230.5 1576.3 L1231.2 1575.9 L1232 1575.6 L1232.7 1575.3 L1233.4 1575.1 L1234.1 1575 L1234.8 1575 L1235.5 1575 L1236.2 1575.1 L1236.9 1575.3 L1237.6 1575.5 L1238.3 1575.8 L1239 1576.1 L1239.7 1576.5 L1240.5 1576.9 L1241.2 1577.5 L1241.9 1578 L1242.6 1578.7 L1243.3 1579.4 L1244 1580.2 L1244.7 1581 L1245.4 1582 L1246.1 1583 L1246.8 1584 L1247.5 1585.2 L1248.2 1586.4 L1248.9 1587.8 L1249.6 1589.2 L1250.3 1590.7 L1251 1592.3 L1251.8 1594 L1252.5 1595.8 L1253.2 1597.7 L1253.9 1599.7 L1254.6 1601.9 L1255.3 1604.2 L1256 1606.7 L1256.7 1609.3 L1257.4 1612 L1258.1 1615 L1258.8 1618.2 L1259.5 1621.6 L1260.2 1625.2 L1260.9 1629.1 L1261.6 1633.4 L1262.3 1638 L1263 1643 L1263.8 1648.5 L1264.5 1654.6 L1265.2 1661.4 L1265.9 1669.1 L1266.6 1677.9 L1267.3 1688.2 L1268 1700.6 L1268.7 1716 L1269.4 1701.8 L1270.1 1690.3 L1270.8 1680.6 L1271.5 1672.2 L1272.2 1664.8 L1272.9 1658.3 L1273.7 1652.4 L1274.4 1647 L1275.1 1642.1 L1275.8 1637.6 L1276.5 1633.5 L1277.2 1629.6 L1277.9 1626 L1278.6 1622.7 L1279.3 1619.6 L1280 1616.6 L1280.7 1613.9 L1281.4 1611.3 L1282.1 1608.8 L1282.9 1606.5 L1283.6 1604.3 L1284.3 1602.2 L1285 1600.3 L1285.7 1598.5 L1286.4 1596.7 L1287.1 1595.1 L1287.8 1593.5 L1288.5 1592.1 L1289.2 1590.7 L1289.9 1589.4 L1290.6 1588.2 L1291.4 1587 L1292.1 1585.9 L1292.8 1584.9 L1293.5 1584 L1294.2 1583.1 L1294.9 1582.3 L1295.6 1581.6 L1296.3 1580.9 L1297 1580.2 L1297.7 1579.7 L1298.4 1579.2 L1299.1 1578.7 L1299.8 1578.3 L1300.6 1578 L1301.3 1577.7 L1302 1577.4 L1302.7 1577.2 L1303.4 1577.1 L1304.1 1577 L1304.8 1577 L1305.5 1577 L1306.2 1577.1 L1306.9 1577.2 L1307.6 1577.4 L1308.4 1577.6 L1309.1 1577.9 L1309.8 1578.2 L1310.5 1578.6 L1311.2 1579 L1311.9 1579.5 L1312.6 1580.1 L1313.3 1580.7 L1314 1581.3 L1314.8 1582 L1315.5 1582.8 L1316.2 1583.6 L1316.9 1584.5 L1317.6 1585.4 L1318.3 1586.4 L1319 1587.5 L1319.7 1588.6 L1320.4 1589.8 L1321.2 1591.1 L1321.9 1592.4 L1322.6 1593.8 L1323.3 1595.3 L1324 1596.9 L1324.7 1598.5 L1325.4 1600.3 L1326.1 1602.1 L1326.8 1604 L1327.5 1606.1 L1328.3 1608.2 L1329 1610.4 L1329.7 1612.8 L1330.4 1615.3 L1331.1 1617.9 L1331.8 1620.7 L1332.5 1623.6 L1333.2 1626.7 L1333.9 1630 L1334.7 1633.5 L1335.4 1637.2 L1336.1 1641.2 L1336.8 1645.4 L1337.5 1650 L1338.2 1646.4 L1338.9 1643.1 L1339.6 1639.9 L1340.3 1636.9 L1341 1634 L1341.7 1631.3 L1342.4 1628.7 L1343.1 1626.3 L1343.8 1623.9 L1344.5 1621.6 L1345.2 1619.5 L1346 1617.5 L1346.7 1615.5 L1347.4 1613.6 L1348.1 1611.8 L1348.8 1610.1 L1349.5 1608.5 L1350.2 1606.9 L1350.9 1605.4 L1351.6 1604 L1352.3 1602.7 L1353 1601.4 L1353.7 1600.2 L1354.4 1599 L1355.1 1597.9 L1355.8 1596.8 L1356.5 1595.8 L1357.2 1594.9 L1357.9 1594 L1358.6 1593.1 L1359.3 1592.3 L1360 1591.6 L1360.7 1590.9 L1361.4 1590.3 L1362.1 1589.7 L1362.8 1589.1 L1363.6 1588.6 L1364.3 1588.2 L1365 1587.7 L1365.7 1587.4 L1366.4 1587.1 L1367.1 1586.8 L1367.8 1586.5 L1368.5 1586.3 L1369.2 1586.2 L1369.9 1586.1 L1370.6 1586 L1371.3 1586 L1372 1586 L1372.7 1586.2 L1373.4 1586.4 L1374.1 1586.8 L1374.9 1587.2 L1375.6 1587.8 L1376.3 1588.4 L1377 1589.2 L1377.7 1590 L1378.4 1591 L1379.1 1592.1 L1379.8 1593.3 L1380.5 1594.6 L1381.2 1596 L1382 1597.6 L1382.7 1599.3 L1383.4 1601.2 L1384.1 1603.2 L1384.8 1605.4 L1385.5 1607.8 L1386.2 1610.4 L1386.9 1613.1 L1387.6 1616.2 L1388.3 1619.4 L1389.1 1622.9 L1389.8 1626.8 L1390.5 1631 L1391.2 1635.6 L1391.9 1640.7 L1392.6 1646.3 L1393.3 1652.6 L1394 1659.7 L1394.7 1667.7 L1395.4 1677.1 L1396.2 1688.3 L1396.9 1702 L1397.6 1719.8 L1398.3 1744.7 L1399 1787 L1399.7 1763.4 L1400.4 1746.4 L1401.1 1733.1 L1401.8 1722.1 L1402.5 1712.8 L1403.2 1704.8 L1403.9 1697.7 L1404.7 1691.4 L1405.4 1685.7 L1406.1 1680.6 L1406.8 1675.9 L1407.5 1671.5 L1408.2 1667.6 L1408.9 1663.9 L1409.6 1660.4 L1410.3 1657.2 L1411 1654.2 L1411.7 1651.4 L1412.4 1648.8 L1413.1 1646.3 L1413.8 1644 L1414.5 1641.9 L1415.2 1639.8 L1416 1637.9 L1416.7 1636.1 L1417.4 1634.4 L1418.1 1632.8 L1418.8 1631.4 L1419.5 1630 L1420.2 1628.7 L1420.9 1627.5 L1421.6 1626.3 L1422.3 1625.3 L1423 1624.3 L1423.7 1623.4 L1424.4 1622.6 L1425.1 1621.8 L1425.8 1621.2 L1426.5 1620.6 L1427.2 1620 L1428 1619.5 L1428.7 1619.1 L1429.4 1618.8 L1430.1 1618.5 L1430.8 1618.3 L1431.5 1618.1 L1432.2 1618 L1432.9 1618 L1433.6 1618 L1434.3 1618.1 L1435 1618.3 L1435.7 1618.5 L1436.4 1618.7 L1437.1 1619.1 L1437.8 1619.5 L1438.5 1619.9 L1439.2 1620.4 L1439.9 1621 L1440.6 1621.6 L1441.3 1622.3 L1442 1623.1 L1442.7 1623.9 L1443.4 1624.8 L1444.1 1625.8 L1444.8 1626.8 L1445.5 1628 L1446.2 1629.2 L1446.9 1630.4 L1447.6 1631.8 L1448.3 1633.2 L1449.1 1634.8 L1449.8 1636.4 L1450.5 1638.1 L1451.2 1639.9 L1451.9 1641.9 L1452.6 1643.9 L1453.3 1646.1 L1454 1648.4 L1454.7 1650.8 L1455.4 1653.3 L1456.1 1656.1 L1456.8 1658.9 L1457.5 1662 L1458.2 1665.3 L1458.9 1668.8 L1459.6 1672.5 L1460.3 1676.5 L1461 1680.8 L1461.7 1685.4 L1462.4 1690.5 L1463.1 1696 L1463.8 1702 L1464.5 1696.8 L1465.2 1692 L1465.9 1687.5 L1466.7 1683.4 L1467.4 1679.5 L1468.1 1675.9 L1468.8 1672.5 L1469.5 1669.4 L1470.2 1666.4 L1471 1663.6 L1471.7 1661 L1472.4 1658.5 L1473.1 1656.1 L1473.8 1653.9 L1474.5 1651.8 L1475.2 1649.9 L1476 1648 L1476.7 1646.3 L1477.4 1644.6 L1478.1 1643.1 L1478.8 1641.6 L1479.5 1640.3 L1480.2 1639 L1481 1637.8 L1481.7 1636.7 L1482.4 1635.7 L1483.1 1634.7 L1483.8 1633.9 L1484.5 1633.1 L1485.2 1632.4 L1486 1631.7 L1486.7 1631.1 L1487.4 1630.6 L1488.1 1630.2 L1488.8 1629.8 L1489.5 1629.5 L1490.3 1629.3 L1491 1629.1 L1491.7 1629 L1492.4 1629 L1493.1 1629 L1493.8 1629.1 L1494.5 1629.1 L1495.2 1629.2 L1495.9 1629.3 L1496.6 1629.5 L1497.3 1629.6 L1498.1 1629.8 L1498.8 1630.1 L1499.5 1630.3 L1500.2 1630.6 L1500.9 1630.9 L1501.6 1631.2 L1502.3 1631.6 L1503 1632 L1503.7 1632.4 L1504.4 1632.9 L1505.1 1633.3 L1505.8 1633.8 L1506.5 1634.4 L1507.2 1634.9 L1507.9 1635.5 L1508.6 1636.2 L1509.3 1636.8 L1510.1 1637.5 L1510.8 1638.2 L1511.5 1639 L1512.2 1639.8 L1512.9 1640.6 L1513.6 1641.5 L1514.3 1642.4 L1515 1643.3 L1515.7 1644.3 L1516.4 1645.3 L1517.1 1646.3 L1517.8 1647.4 L1518.5 1648.6 L1519.2 1649.7 L1519.9 1651 L1520.7 1652.2 L1521.4 1653.5 L1522.1 1654.9 L1522.8 1656.3 L1523.5 1657.8 L1524.2 1659.3 L1524.9 1660.9 L1525.6 1662.6 L1526.3 1664.3 L1527 1666 L1527.7 1667.9 L1528.4 1669.8 L1529.1 1671.8 L1529.8 1673.9 L1530.5 1676 L1531.2 1678.3 L1531.9 1680.6 L1532.7 1683.1 L1533.4 1685.7 L1534.1 1688.4 L1534.8 1691.2 L1535.5 1694.1 L1536.2 1697.3 L1536.9 1700.5 L1537.6 1704 L1538.3 1701.4 L1539 1699 L1539.7 1696.6 L1540.4 1694.3 L1541.1 1692.2 L1541.8 1690.1 L1542.6 1688.1 L1543.3 1686.2 L1544 1684.4 L1544.7 1682.6 L1545.4 1681 L1546.1 1679.4 L1546.8 1677.9 L1547.5 1676.4 L1548.2 1675.1 L1548.9 1673.8 L1549.6 1672.5 L1550.3 1671.4 L1551.1 1670.3 L1551.8 1669.3 L1552.5 1668.3 L1553.2 1667.4 L1553.9 1666.6 L1554.6 1665.8 L1555.3 1665.1 L1556 1664.4 L1556.7 1663.8 L1557.4 1663.3 L1558.1 1662.8 L1558.8 1662.4 L1559.6 1662 L1560.3 1661.7 L1561 1661.4 L1561.7 1661.3 L1562.4 1661.1 L1563.1 1661 L1563.8 1661 L1564.5 1661 L1565.2 1661.1 L1565.9 1661.1 L1566.6 1661.2 L1567.4 1661.4 L1568.1 1661.6 L1568.8 1661.8 L1569.5 1662 L1570.2 1662.3 L1570.9 1662.6 L1571.6 1662.9 L1572.3 1663.3 L1573 1663.7 L1573.7 1664.1 L1574.5 1664.6 L1575.2 1665.1 L1575.9 1665.6 L1576.6 1666.2 L1577.3 1666.8 L1578 1667.4 L1578.7 1668.1 L1579.4 1668.8 L1580.1 1669.5 L1580.9 1670.3 L1581.6 1671.1 L1582.3 1672 L1583 1672.9 L1583.7 1673.9 L1584.4 1674.9 L1585.1 1675.9 L1585.8 1677 L1586.5 1678.1 L1587.2 1679.3 L1588 1680.5 L1588.7 1681.8 L1589.4 1683.1 L1590.1 1684.5 L1590.8 1685.9 L1591.5 1687.4 L1592.2 1688.9 L1592.9 1690.6 L1593.6 1692.2 L1594.4 1694 L1595.1 1695.8 L1595.8 1697.7 L1596.5 1699.6 L1597.2 1701.7 L1597.9 1703.8 L1598.6 1706.1 L1599.3 1708.4 L1600 1710.8 L1600.7 1713.3 L1601.5 1716 L1602.2 1718.8 L1602.9 1721.7 L1603.6 1724.8 L1604.3 1728 L1605 1724.7 L1605.7 1721.5 L1606.5 1718.5 L1607.2 1715.6 L1607.9 1712.9 L1608.6 1710.4 L1609.3 1708 L1610 1705.7 L1610.8 1703.5 L1611.5 1701.4 L1612.2 1699.5 L1612.9 1697.7 L1613.6 1695.9 L1614.4 1694.3 L1615.1 1692.8 L1615.8 1691.3 L1616.5 1690 L1617.2 1688.8 L1617.9 1687.6 L1618.7 1686.5 L1619.4 1685.6 L1620.1 1684.7 L1620.8 1683.8 L1621.5 1683.1 L1622.3 1682.4 L1623 1681.9 L1623.7 1681.4 L1624.4 1681 L1625.1 1680.6 L1625.8 1680.3 L1626.6 1680.2 L1627.3 1680 L1628 1680 L1628.7 1680 L1629.4 1680.1 L1630.1 1680.2 L1630.8 1680.3 L1631.5 1680.5 L1632.3 1680.7 L1633 1680.9 L1633.7 1681.2 L1634.4 1681.5 L1635.1 1681.9 L1635.8 1682.3 L1636.5 1682.7 L1637.2 1683.2 L1637.9 1683.7 L1638.6 1684.2 L1639.4 1684.8 L1640.1 1685.4 L1640.8 1686.1 L1641.5 1686.7 L1642.2 1687.4 L1642.9 1688.2 L1643.6 1688.9 L1644.3 1689.7 L1645 1690.6 L1645.7 1691.4 L1646.5 1692.3 L1647.2 1693.2 L1647.9 1694.1 L1648.6 1695.1 L1649.3 1696 L1650 1697 L1650.7 1694.6 L1651.4 1692.3 L1652.1 1690.1 L1652.8 1688 L1653.5 1685.9 L1654.2 1683.9 L1655 1682 L1655.7 1680.2 L1656.4 1678.4 L1657.1 1676.7 L1657.8 1675.1 L1658.5 1673.5 L1659.2 1672 L1659.9 1670.6 L1660.6 1669.2 L1661.3 1667.8 L1662 1666.5 L1662.8 1665.3 L1663.5 1664.1 L1664.2 1662.9 L1664.9 1661.8 L1665.6 1660.8 L1666.3 1659.8 L1667 1658.8 L1667.7 1657.9 L1668.4 1657 L1669.1 1656.2 L1669.8 1655.4 L1670.5 1654.7 L1671.2 1654 L1672 1653.3 L1672.7 1652.7 L1673.4 1652.1 L1674.1 1651.6 L1674.8 1651.1 L1675.5 1650.6 L1676.2 1650.2 L1676.9 1649.8 L1677.6 1649.5 L1678.3 1649.2 L1679 1648.9 L1679.8 1648.7 L1680.5 1648.5 L1681.2 1648.3 L1681.9 1648.2 L1682.6 1648.1 L1683.3 1648 L1684 1648 L1684.7 1648 L1685.4 1648.1 L1686.1 1648.3 L1686.8 1648.5 L1687.5 1648.8 L1688.2 1649.1 L1688.9 1649.5 L1689.6 1650 L1690.3 1650.5 L1691 1651.1 L1691.8 1651.7 L1692.5 1652.5 L1693.2 1653.3 L1693.9 1654.1 L1694.6 1655.1 L1695.3 1656.1 L1696 1657.1 L1696.7 1658.3 L1697.4 1659.6 L1698.1 1660.9 L1698.8 1662.3 L1699.5 1663.8 L1700.2 1665.4 L1700.9 1667.1 L1701.6 1668.9 L1702.3 1670.8 L1703 1672.8 L1703.7 1674.9 L1704.4 1677.2 L1705.1 1679.6 L1705.8 1682.2 L1706.5 1684.9 L1707.2 1687.8 L1708 1690.8 L1708.7 1694.1 L1709.4 1697.6 L1710.1 1701.4 L1710.8 1705.4 L1711.5 1709.7 L1712.2 1714.4 L1712.9 1719.5 L1713.6 1725.1 L1714.3 1731.2 L1715 1738 L1715.7 1730.4 L1716.4 1723.6 L1717.1 1717.4 L1717.8 1711.9 L1718.6 1706.8 L1719.3 1702.1 L1720 1697.8 L1720.7 1693.8 L1721.4 1690.1 L1722.1 1686.7 L1722.8 1683.4 L1723.5 1680.4 L1724.2 1677.5 L1725 1674.8 L1725.7 1672.3 L1726.4 1669.9 L1727.1 1667.6 L1727.8 1665.5 L1728.5 1663.5 L1729.2 1661.6 L1729.9 1659.9 L1730.6 1658.2 L1731.4 1656.6 L1732.1 1655.1 L1732.8 1653.7 L1733.5 1652.4 L1734.2 1651.2 L1734.9 1650 L1735.6 1649 L1736.3 1648 L1737 1647 L1737.8 1646.2 L1738.5 1645.4 L1739.2 1644.7 L1739.9 1644 L1740.6 1643.5 L1741.3 1642.9 L1742 1642.5 L1742.7 1642.1 L1743.4 1641.8 L1744.2 1641.5 L1744.9 1641.3 L1745.6 1641.1 L1746.3 1641 L1747 1641 L1747.7 1641 L1748.4 1641.1 L1749.1 1641.3 L1749.9 1641.4 L1750.6 1641.7 L1751.3 1642 L1752 1642.4 L1752.7 1642.8 L1753.4 1643.2 L1754.1 1643.8 L1754.9 1644.3 L1755.6 1644.9 L1756.3 1645.6 L1757 1646.3 L1757.7 1647 L1758.4 1647.8 L1759.1 1648.6 L1759.9 1649.4 L1760.6 1650.2 L1761.3 1651.1 L1762 1652" fill="none" stroke="#0072bd" stroke-width="6.5" stroke-linejoin="round"/>
</g>
<path d="M338.8 1790.8v-15.5M338.8 1308.5v15.5M481.5 1790.8v-15.5M481.5 1308.5v15.5M623.2 1790.8v-15.5M623.2 1308.5v15.5M765.4 1790.8v-15.5M765.4 1308.5v15.5M907.7 1790.8v-15.5M907.7 1308.5v15.5M1046.2 1790.8v-15.5M1046.2 1308.5v15.5M1191.4 1790.8v-15.5M1191.4 1308.5v15.5M1330.7 1790.8v-15.5M1330.7 1308.5v15.5M1476.3 1790.8v-15.5M1476.3 1308.5v15.5M1618.1 1790.8v-15.5M1618.1 1308.5v15.5M1761.5 1790.8v-15.5M1761.5 1308.5v15.5M221.5 1756.3h15.5M1761.5 1756.3h-15.5M221.5 1612.7h15.5M1761.5 1612.7h-15.5M221.5 1469.1h15.5M1761.5 1469.1h-15.5M221.5 1325.5h15.5M1761.5 1325.5h-15.5" stroke="#262626" stroke-width="3" fill="none"/>
<path d="M220 1308.5H1763" stroke="#262626" stroke-width="3"/>
<path d="M220 1790.8H1763" stroke="#8c8c8c" stroke-width="3"/>
<path d="M221.5 1308.5V1790.8" stroke="#262626" stroke-width="3"/>
<path d="M1761.5 1308.5V1790.8" stroke="#262626" stroke-width="3"/>
<text x="0" y="0" font-size="45" text-anchor="middle" fill="#262626" font-family='"Liberation Sans", sans-serif' transform="translate(338.8 1861) scale(1 1.07)">4</text>
<text x="0" y="0" font-size="45" text-anchor="middle" fill="#262626" font-family='"Liberation Sans", sans-serif' transform="translate(481.5 1861) scale(1 1.07)">6</text>
<text x="0" y="0" font-size="45" text-anchor="middle" fill="#262626" font-family='"Liberation Sans", sans-serif' transform="translate(623.2 1861) scale(1 1.07)">8</text>
<text x="0" y="0" font-size="45" text-anchor="middle" fill="#262626" font-family='"Liberation Sans", sans-serif' transform="translate(765.4 1861) scale(1 1.07)">10</text>
<text x="0" y="0" font-size="45" text-anchor="middle" fill="#262626" font-family='"Liberation Sans", sans-serif' transform="translate(910.7 1861) scale(1 1.07)">12</text>
<text x="0" y="0" font-size="45" text-anchor="middle" fill="#262626" font-family='"Liberation Sans", sans-serif' transform="translate(1046.2 1861) scale(1 1.07)">14</text>
<text x="0" y="0" font-size="45" text-anchor="middle" fill="#262626" font-family='"Liberation Sans", sans-serif' transform="translate(1191.4 1861) scale(1 1.07)">16</text>
<text x="0" y="0" font-size="45" text-anchor="middle" fill="#262626" font-family='"Liberation Sans", sans-serif' transform="translate(1330.7 1861) scale(1 1.07)">18</text>
<text x="0" y="0" font-size="45" text-anchor="middle" fill="#262626" font-family='"Liberation Sans", sans-serif' transform="translate(1476.3 1861) scale(1 1.07)">20</text>
<text x="0" y="0" font-size="45" text-anchor="middle" fill="#262626" font-family='"Liberation Sans", sans-serif' transform="translate(1618.1 1861) scale(1 1.07)">22</text>
<text x="0" y="0" font-size="45" text-anchor="middle" fill="#262626" font-family='"Liberation Sans", sans-serif' transform="translate(1761.5 1861) scale(1 1.07)">24</text>
<text x="0" y="0" font-size="45" text-anchor="end" fill="#262626" font-family='"Liberation Sans", sans-serif' transform="translate(198 1776.3) scale(1 1.05)">-60</text>
<text x="0" y="0" font-size="45" text-anchor="end" fill="#262626" font-family='"Liberation Sans", sans-serif' transform="translate(198 1632.7) scale(1 1.05)">-40</text>
<text x="0" y="0" font-size="45" text-anchor="end" fill="#262626" font-family='"Liberation Sans", sans-serif' transform="translate(198 1489.1) scale(1 1.05)">-20</text>
<text x="0" y="0" font-size="45" text-anchor="end" fill="#262626" font-family='"Liberation Sans", sans-serif' transform="translate(198 1345.5) scale(1 1.05)">0</text>
<text x="1095.7" y="1931.8" font-size="46" text-anchor="middle" fill="#262626" font-family='"Liberation Sans", sans-serif' textLength="354" lengthAdjust="spacingAndGlyphs">Frequency (MHz)</text>
<text x="105" y="1541.6" font-size="46" text-anchor="middle" fill="#262626" font-family='"Liberation Sans", sans-serif' transform="rotate(-90 105 1541.6)" textLength="182" lengthAdjust="spacingAndGlyphs">FFT (dB)</text>
<text x="231" y="1394" font-size="80" text-anchor="start" fill="#000" font-family='"Liberation Serif", serif' stroke="#fff" stroke-width="1.3">(c)</text>
<rect x="983.7" y="1315.8" width="770.3" height="116.7" fill="#fff" stroke="#262626" stroke-width="2.6"/>
<path d="M982.4 1432.5H1755.3" stroke="#8f8f8f" stroke-width="2.6"/>
<path d="M996 1348H1089" stroke="#0072bd" stroke-width="6"/>
<text x="1096" y="1366.5" font-size="40" text-anchor="start" fill="#000" font-family='"Liberation Sans", sans-serif' textLength="645.5" lengthAdjust="spacingAndGlyphs">Hydrophone output FFT (DC biased)</text>
<path d="M996 1401H1089" stroke="#0072bd" stroke-width="6" stroke-dasharray="24 25"/>
<text x="1096" y="1417.7" font-size="40" text-anchor="start" fill="#000" font-family='"Liberation Sans", sans-serif'>Simulation FFT</text>
<path d="M352.9 1971.5V2446.5M495.2 1971.5V2446.5M636.9 1971.5V2446.5M779.6 1971.5V2446.5M918 1971.5V2446.5M1060.1 1971.5V2446.5M1198.9 1971.5V2446.5M1341.2 1971.5V2446.5M1486.8 1971.5V2446.5M1629 1971.5V2446.5M1767.4 1971.5V2446.5M221.5 2397.7H1777.5M221.5 2294H1777.5M221.5 2189.5H1777.5M221.5 2082.3H1777.5M221.5 1978H1777.5" stroke="#dedede" stroke-width="2.4" fill="none"/>
<clipPath id="cd"><rect x="221.5" y="1971.5" width="1556.0" height="475.0"/></clipPath>
<g clip-path="url(#cd)">
<path d="M221.5 2232 L222.2 2226 L223 2220.8 L223.7 2216.2 L224.4 2212.1 L225.2 2208.5 L225.9 2205.3 L226.6 2202.5 L227.4 2200 L228.1 2197.8 L228.9 2195.9 L229.6 2194.3 L230.3 2193 L231.1 2191.9 L231.8 2191.1 L232.5 2190.5 L233.3 2190.1 L234 2190 L234.7 2190.1 L235.4 2190.3 L236.1 2190.7 L236.8 2191.3 L237.5 2192 L238.2 2192.8 L239 2193.9 L239.7 2195.1 L240.4 2196.6 L241.1 2198.2 L241.8 2200.1 L242.5 2202.1 L243.2 2204.5 L243.9 2207.1 L244.6 2210 L245.3 2213.3 L246 2217 L246.7 2221.1 L247.5 2225.9 L248.2 2231.3 L248.9 2237.5 L249.6 2244.9 L250.3 2253.8 L251 2265 L251.7 2280 L252.4 2266.6 L253.1 2256.3 L253.8 2247.9 L254.5 2241 L255.3 2235 L256 2229.8 L256.7 2225.3 L257.4 2221.3 L258.1 2217.7 L258.8 2214.5 L259.5 2211.7 L260.2 2209.2 L261 2206.9 L261.7 2204.8 L262.4 2203 L263.1 2201.4 L263.8 2200 L264.5 2198.8 L265.2 2197.8 L265.9 2196.9 L266.7 2196.2 L267.4 2195.7 L268.1 2195.3 L268.8 2195.1 L269.5 2195 L270.2 2195.2 L270.9 2195.7 L271.6 2196.7 L272.3 2198 L273 2199.7 L273.7 2201.9 L274.4 2204.5 L275.1 2207.7 L275.9 2211.5 L276.6 2216 L277.3 2221.4 L278 2227.8 L278.7 2235.6 L279.4 2245.4 L280.1 2258.1 L280.8 2276 L281.5 2261 L282.3 2249.8 L283 2241 L283.8 2233.8 L284.5 2227.9 L285.3 2223 L286 2218.8 L286.8 2215.3 L287.5 2212.5 L288.3 2210.1 L289 2208.2 L289.8 2206.8 L290.5 2205.8 L291.3 2205.2 L292 2205 L292.7 2205 L293.4 2205.2 L294.1 2205.4 L294.8 2205.7 L295.5 2206.1 L296.2 2206.6 L296.9 2207.2 L297.6 2207.9 L298.3 2208.7 L299 2209.6 L299.7 2210.6 L300.4 2211.7 L301.1 2212.9 L301.8 2214.2 L302.5 2215.7 L303.2 2217.3 L303.9 2219 L304.6 2220.9 L305.3 2222.9 L306 2225.1 L306.7 2227.5 L307.4 2230.1 L308.1 2232.9 L308.8 2236 L309.5 2239.3 L310.2 2243 L310.9 2247 L311.6 2251.5 L312.3 2256.4 L313 2262 L313.8 2248.5 L314.5 2238.2 L315.2 2230.1 L316 2223.6 L316.8 2218.2 L317.5 2213.9 L318.2 2210.4 L319 2207.7 L319.8 2205.6 L320.5 2204.1 L321.2 2203.3 L322 2203 L322.7 2203.2 L323.4 2203.7 L324.1 2204.6 L324.8 2205.9 L325.5 2207.6 L326.2 2209.7 L326.9 2212.3 L327.6 2215.4 L328.4 2219.1 L329.1 2223.6 L329.8 2228.8 L330.5 2235.2 L331.2 2242.9 L331.9 2252.6 L332.6 2265.3 L333.3 2283.4 L334 2314 L334.7 2275.1 L335.4 2254.5 L336.2 2240.4 L336.9 2229.8 L337.6 2221.3 L338.3 2214.3 L339 2208.3 L339.8 2203.2 L340.5 2198.8 L341.2 2194.9 L341.9 2191.4 L342.6 2188.4 L343.4 2185.7 L344.1 2183.3 L344.8 2181.2 L345.5 2179.4 L346.2 2177.7 L347 2176.4 L347.7 2175.2 L348.4 2174.2 L349.1 2173.4 L349.8 2172.8 L350.6 2172.3 L351.3 2172.1 L352 2172 L352.7 2172.2 L353.4 2172.6 L354.2 2173.4 L354.9 2174.5 L355.6 2176 L356.3 2177.8 L357.1 2180 L357.8 2182.7 L358.5 2185.8 L359.2 2189.5 L359.9 2193.8 L360.7 2198.9 L361.4 2205 L362.1 2212.3 L362.8 2221.3 L363.6 2232.8 L364.3 2248.5 L365 2273 L365.7 2246.9 L366.4 2230.4 L367.1 2218.4 L367.9 2209 L368.6 2201.2 L369.3 2194.7 L370 2189.1 L370.7 2184.3 L371.4 2180 L372.1 2176.2 L372.9 2172.8 L373.6 2169.8 L374.3 2167 L375 2164.6 L375.7 2162.4 L376.4 2160.4 L377.1 2158.6 L377.9 2157 L378.6 2155.7 L379.3 2154.4 L380 2153.4 L380.7 2152.5 L381.4 2151.7 L382.1 2151.1 L382.9 2150.6 L383.6 2150.3 L384.3 2150.1 L385 2150 L385.8 2150.3 L386.6 2151.1 L387.4 2152.4 L388.2 2154.1 L389 2156 L389.7 2147.1 L390.4 2139.7 L391.1 2133.3 L391.8 2127.8 L392.5 2123 L393.2 2118.7 L394 2114.9 L394.7 2111.4 L395.4 2108.3 L396.1 2105.6 L396.8 2103.1 L397.5 2100.8 L398.2 2098.8 L398.9 2096.9 L399.6 2095.3 L400.3 2093.9 L401 2092.6 L401.7 2091.5 L402.5 2090.6 L403.2 2089.8 L403.9 2089.1 L404.6 2088.6 L405.3 2088.3 L406 2088.1 L406.7 2088 L407.4 2088.1 L408.1 2088.4 L408.9 2088.8 L409.6 2089.5 L410.3 2090.4 L411 2091.4 L411.7 2092.7 L412.5 2094.2 L413.2 2095.9 L413.9 2097.9 L414.6 2100.2 L415.4 2102.8 L416.1 2105.8 L416.8 2109.1 L417.5 2112.9 L418.2 2117.3 L419 2122.3 L419.7 2128.1 L420.4 2135 L421.1 2143.3 L421.8 2153.6 L422.6 2167.2 L423.3 2186.8 L424 2222 L424.7 2219.2 L425.5 2216.6 L426.2 2214.1 L426.9 2211.8 L427.6 2209.7 L428.4 2207.7 L429.1 2205.8 L429.8 2204.1 L430.5 2202.5 L431.3 2201.1 L432 2199.8 L432.7 2198.6 L433.5 2197.5 L434.2 2196.5 L434.9 2195.7 L435.6 2195 L436.4 2194.4 L437.1 2193.9 L437.8 2193.5 L438.5 2193.2 L439.3 2193.1 L440 2193 L440.7 2193 L441.4 2193.2 L442.1 2193.4 L442.8 2193.8 L443.5 2194.2 L444.2 2194.7 L444.9 2195.3 L445.6 2196.1 L446.4 2196.8 L447.1 2197.7 L447.8 2198.7 L448.5 2199.7 L449.2 2200.9 L449.9 2202.1 L450.6 2203.3 L451.3 2204.6 L452 2206 L452.7 2183 L453.4 2167.9 L454.1 2156.7 L454.8 2147.8 L455.5 2140.5 L456.3 2134.4 L457 2129.2 L457.7 2124.7 L458.4 2120.8 L459.1 2117.5 L459.8 2114.5 L460.5 2112 L461.2 2109.7 L461.9 2107.9 L462.6 2106.3 L463.4 2104.9 L464.1 2103.9 L464.8 2103 L465.5 2102.5 L466.2 2102.1 L466.9 2102 L467.6 2102.1 L468.4 2102.5 L469.1 2103 L469.8 2103.8 L470.5 2104.9 L471.3 2106.2 L472 2107.7 L472.7 2109.6 L473.4 2111.8 L474.2 2114.3 L474.9 2117.2 L475.6 2120.5 L476.4 2124.4 L477.1 2128.8 L477.8 2133.9 L478.5 2140 L479.3 2147.2 L480 2156 L480.7 2167.3 L481.4 2182.5 L482.2 2205.7 L482.9 2256 L483.6 2215.7 L484.3 2194.7 L485.1 2180.5 L485.8 2169.7 L486.5 2161.2 L487.2 2154.1 L488 2148.1 L488.7 2142.9 L489.4 2138.4 L490.1 2134.4 L490.9 2130.9 L491.6 2127.8 L492.3 2125.1 L493 2122.6 L493.7 2120.4 L494.5 2118.5 L495.2 2116.8 L495.9 2115.3 L496.6 2114 L497.4 2112.9 L498.1 2112 L498.8 2111.3 L499.5 2110.7 L500.3 2110.3 L501 2110.1 L501.7 2110 L502.4 2110.1 L503.1 2110.5 L503.8 2111.2 L504.6 2112.1 L505.3 2113.2 L506 2114.7 L506.7 2116.5 L507.4 2118.6 L508.1 2121.1 L508.9 2124 L509.6 2127.4 L510.3 2131.2 L511 2135.7 L511.7 2141 L512.4 2147.2 L513.1 2154.6 L513.9 2163.7 L514.6 2175.3 L515.3 2191.2 L516 2216 L516.7 2182.8 L517.4 2163.9 L518.1 2150.6 L518.8 2140.5 L519.6 2132.3 L520.3 2125.5 L521 2119.7 L521.7 2114.7 L522.4 2110.4 L523.1 2106.5 L523.8 2103.2 L524.5 2100.2 L525.3 2097.5 L526 2095.2 L526.7 2093.1 L527.4 2091.3 L528.1 2089.7 L528.8 2088.3 L529.5 2087.1 L530.2 2086.2 L531 2085.4 L531.7 2084.8 L532.4 2084.3 L533.1 2084.1 L533.8 2084 L534.5 2084.1 L535.2 2084.5 L536 2085.1 L536.7 2086 L537.4 2087.1 L538.1 2088.5 L538.8 2090.3 L539.6 2092.3 L540.3 2094.7 L541 2097.4 L541.7 2100.6 L542.4 2104.3 L543.1 2108.6 L543.9 2113.6 L544.6 2119.5 L545.3 2126.5 L546 2135.1 L546.7 2145.9 L547.5 2160.4 L548.2 2182 L548.9 2225 L549.6 2181.8 L550.3 2160.1 L551 2145.5 L551.7 2134.6 L552.5 2125.9 L553.2 2118.7 L553.9 2112.7 L554.6 2107.5 L555.3 2103 L556 2099.1 L556.7 2095.6 L557.4 2092.5 L558.2 2089.8 L558.9 2087.4 L559.6 2085.3 L560.3 2083.4 L561 2081.8 L561.7 2080.4 L562.4 2079.2 L563.1 2078.2 L563.9 2077.4 L564.6 2076.8 L565.3 2076.3 L566 2076.1 L566.7 2076 L567.4 2076.1 L568.1 2076.5 L568.8 2077.2 L569.5 2078.2 L570.2 2079.5 L570.9 2081.1 L571.6 2083 L572.3 2085.3 L573 2088 L573.8 2091.1 L574.5 2094.8 L575.2 2099.1 L575.9 2104.1 L576.6 2110 L577.3 2117.1 L578 2125.9 L578.7 2137 L579.4 2152.2 L580.1 2175.3 L580.8 2225 L581.5 2168.1 L582.2 2143.6 L583 2128 L583.7 2116.7 L584.4 2107.9 L585.1 2100.9 L585.8 2095.1 L586.5 2090.3 L587.3 2086.2 L588 2082.9 L588.7 2080.1 L589.4 2077.9 L590.1 2076.1 L590.8 2074.7 L591.6 2073.8 L592.3 2073.2 L593 2073 L593.7 2073.1 L594.4 2073.3 L595.1 2073.8 L595.9 2074.4 L596.6 2075.2 L597.3 2076.2 L598 2077.3 L598.7 2078.7 L599.4 2080.3 L600.2 2082.1 L600.9 2084.2 L601.6 2086.6 L602.3 2089.3 L603 2092.3 L603.7 2095.7 L604.5 2099.6 L605.2 2104 L605.9 2109 L606.6 2114.9 L607.3 2121.8 L608 2130.2 L608.8 2140.6 L609.5 2154.2 L610.2 2174 L610.9 2210 L611.6 2170.3 L612.3 2149.5 L613.1 2135.3 L613.8 2124.6 L614.5 2116.1 L615.2 2109 L616 2103 L616.7 2097.9 L617.4 2093.4 L618.1 2089.4 L618.9 2085.9 L619.6 2082.8 L620.3 2080 L621 2077.6 L621.7 2075.4 L622.5 2073.5 L623.2 2071.8 L623.9 2070.3 L624.6 2069 L625.4 2067.9 L626.1 2067 L626.8 2066.3 L627.5 2065.7 L628.3 2065.3 L629 2065.1 L629.7 2065 L630.4 2065.2 L631.2 2065.7 L631.9 2066.5 L632.6 2067.7 L633.4 2069.3 L634.1 2071.3 L634.8 2073.8 L635.6 2076.7 L636.3 2080.2 L637 2084.4 L637.8 2089.3 L638.5 2095.2 L639.2 2102.4 L640 2111.3 L640.7 2122.7 L641.4 2138.5 L642.2 2163.2 L642.9 2222 L643.6 2159.7 L644.3 2134.3 L645.1 2118.2 L645.8 2106.5 L646.5 2097.2 L647.2 2089.7 L648 2083.4 L648.7 2078 L649.4 2073.3 L650.1 2069.1 L650.9 2065.5 L651.6 2062.3 L652.3 2059.5 L653 2056.9 L653.7 2054.7 L654.5 2052.7 L655.2 2051 L655.9 2049.4 L656.6 2048.1 L657.4 2047 L658.1 2046.1 L658.8 2045.3 L659.5 2044.7 L660.3 2044.3 L661 2044.1 L661.7 2044 L662.4 2044.2 L663.2 2044.7 L663.9 2045.6 L664.6 2046.8 L665.3 2048.4 L666.1 2050.5 L666.8 2053 L667.5 2056 L668.2 2059.5 L669 2063.8 L669.7 2068.9 L670.4 2075 L671.2 2082.4 L671.9 2091.7 L672.6 2103.8 L673.3 2120.8 L674.1 2148.7 L674.8 2235 L675.5 2127.9 L676.2 2098.5 L676.9 2080.8 L677.6 2068.1 L678.4 2058.2 L679.1 2050.1 L679.8 2043.3 L680.5 2037.4 L681.2 2032.3 L681.9 2027.7 L682.6 2023.6 L683.3 2019.9 L684 2016.5 L684.8 2013.4 L685.5 2010.5 L686.2 2007.9 L686.9 2005.4 L687.6 2003.2 L688.3 2001.1 L689 1999.1 L689.7 1997.3 L690.4 1995.6 L691.2 1994 L691.9 1992.5 L692.6 1991.1 L693.3 1989.8 L694 1988.6 L694.7 1987.5 L695.4 1986.5 L696.1 1985.5 L696.8 1984.7 L697.6 1983.9 L698.3 1983.1 L699 1982.4 L699.7 1981.8 L700.4 1981.3 L701.1 1980.8 L701.8 1980.4 L702.5 1980 L703.2 1979.7 L704 1979.4 L704.7 1979.3 L705.4 1979.1 L706.1 1979 L706.8 1979 L707.5 1979 L708.2 1979.1 L708.9 1979.2 L709.6 1979.4 L710.3 1979.6 L711 1979.9 L711.7 1980.2 L712.4 1980.6 L713.1 1981.1 L713.8 1981.6 L714.5 1982.1 L715.2 1982.7 L715.9 1983.4 L716.6 1984.1 L717.3 1984.9 L718 1985.8 L718.7 1986.7 L719.4 1987.7 L720.1 1988.7 L720.8 1989.9 L721.5 1991.1 L722.2 1992.4 L722.9 1993.8 L723.6 1995.3 L724.3 1996.9 L725 1998.6 L725.7 2000.4 L726.4 2002.4 L727.1 2004.5 L727.8 2006.7 L728.5 2009.1 L729.2 2011.7 L729.9 2014.5 L730.6 2017.6 L731.3 2020.9 L732 2024.5 L732.7 2028.5 L733.4 2032.9 L734.1 2037.9 L734.8 2043.5 L735.5 2049.9 L736.2 2057.5 L736.9 2066.7 L737.6 2078.1 L738.3 2093.6 L739 2117.2 L739.7 2169 L740.4 2139.3 L741.1 2121.6 L741.8 2109 L742.6 2099.2 L743.3 2091.4 L744 2084.9 L744.7 2079.3 L745.4 2074.6 L746.1 2070.5 L746.8 2067 L747.6 2063.9 L748.3 2061.3 L749 2059 L749.7 2057 L750.4 2055.4 L751.1 2054 L751.8 2052.9 L752.6 2052.1 L753.3 2051.5 L754 2051.1 L754.7 2051 L755.4 2051.1 L756.2 2051.5 L756.9 2052 L757.6 2052.9 L758.3 2053.9 L759.1 2055.2 L759.8 2056.8 L760.5 2058.7 L761.2 2060.9 L762 2063.5 L762.7 2066.5 L763.4 2069.9 L764.2 2073.8 L764.9 2078.4 L765.6 2083.7 L766.3 2089.9 L767.1 2097.4 L767.8 2106.7 L768.5 2118.6 L769.2 2135.1 L770 2161.5 L770.7 2232 L771.4 2185 L772.1 2162.4 L772.8 2147.5 L773.5 2136.4 L774.2 2127.6 L774.9 2120.4 L775.6 2114.3 L776.3 2109.1 L777 2104.6 L777.7 2100.7 L778.4 2097.2 L779.2 2094.2 L779.9 2091.5 L780.6 2089.2 L781.3 2087.1 L782 2085.3 L782.7 2083.8 L783.4 2082.5 L784.1 2081.4 L784.8 2080.5 L785.5 2079.9 L786.2 2079.4 L786.9 2079.1 L787.6 2079 L788.3 2079.1 L789 2079.5 L789.8 2080 L790.5 2080.8 L791.2 2081.9 L791.9 2083.2 L792.7 2084.8 L793.4 2086.6 L794.1 2088.8 L794.8 2091.4 L795.5 2094.3 L796.3 2097.6 L797 2101.5 L797.7 2106 L798.4 2111.2 L799.2 2117.3 L799.9 2124.6 L800.6 2133.6 L801.3 2145 L802.1 2160.6 L802.8 2184.8 L803.5 2240 L804.2 2193.7 L804.9 2171.3 L805.6 2156.5 L806.3 2145.5 L807 2136.8 L807.7 2129.8 L808.4 2123.9 L809.1 2118.9 L809.8 2114.7 L810.5 2111 L811.3 2107.9 L812 2105.2 L812.7 2102.9 L813.4 2101 L814.1 2099.5 L814.8 2098.2 L815.5 2097.2 L816.2 2096.5 L816.9 2096.1 L817.6 2096 L818.3 2096.1 L819 2096.3 L819.8 2096.7 L820.5 2097.3 L821.2 2098 L821.9 2098.9 L822.7 2100 L823.4 2101.2 L824.1 2102.7 L824.8 2104.3 L825.6 2106.2 L826.3 2108.3 L827 2110.7 L827.7 2113.4 L828.4 2116.4 L829.2 2119.8 L829.9 2123.6 L830.6 2128 L831.3 2132.9 L832.1 2138.7 L832.8 2145.4 L833.5 2153.4 L834.2 2163.4 L835 2176.2 L835.7 2194.3 L836.4 2225 L837.1 2195.6 L837.9 2178 L838.6 2165.5 L839.3 2155.9 L840 2148.2 L840.8 2141.8 L841.5 2136.5 L842.2 2132 L843 2128.2 L843.7 2125 L844.4 2122.2 L845.1 2120 L845.9 2118.1 L846.6 2116.6 L847.3 2115.4 L848 2114.6 L848.8 2114.2 L849.5 2114 L850.2 2114.1 L850.9 2114.4 L851.6 2114.8 L852.4 2115.4 L853.1 2116.2 L853.8 2117.3 L854.5 2118.5 L855.2 2119.9 L855.9 2121.5 L856.7 2123.4 L857.4 2125.6 L858.1 2128.1 L858.8 2130.9 L859.5 2134 L860.2 2137.6 L861 2141.7 L861.7 2146.3 L862.4 2151.7 L863.1 2158 L863.8 2165.5 L864.5 2174.7 L865.3 2186.4 L866 2202.4 L866.7 2227.6 L867.4 2289 L868.1 2229.3 L868.8 2204.3 L869.5 2188.4 L870.2 2176.8 L870.9 2167.6 L871.6 2160.2 L872.3 2153.9 L873 2148.6 L873.7 2144 L874.4 2140 L875.1 2136.5 L875.8 2133.4 L876.6 2130.7 L877.3 2128.3 L878 2126.2 L878.7 2124.4 L879.4 2122.8 L880.1 2121.5 L880.8 2120.4 L881.5 2119.5 L882.2 2118.9 L882.9 2118.4 L883.6 2118.1 L884.3 2118 L885 2118.1 L885.7 2118.3 L886.5 2118.7 L887.2 2119.2 L887.9 2119.9 L888.6 2120.7 L889.4 2121.8 L890.1 2122.9 L890.8 2124.3 L891.5 2125.9 L892.3 2127.7 L893 2129.7 L893.7 2131.9 L894.4 2134.4 L895.1 2137.2 L895.9 2140.3 L896.6 2143.8 L897.3 2147.8 L898 2152.3 L898.8 2157.4 L899.5 2163.3 L900.2 2170.2 L900.9 2178.5 L901.7 2188.7 L902.4 2202 L903.1 2221 L903.8 2205.1 L904.6 2193.5 L905.3 2184.3 L906 2176.9 L906.8 2170.6 L907.5 2165.4 L908.2 2160.9 L909 2157 L909.7 2153.7 L910.4 2150.8 L911.2 2148.4 L911.9 2146.4 L912.6 2144.7 L913.4 2143.3 L914.1 2142.3 L914.8 2141.6 L915.6 2141.1 L916.3 2141 L917 2141.1 L917.7 2141.3 L918.4 2141.6 L919.1 2142.1 L919.8 2142.7 L920.5 2143.5 L921.2 2144.4 L921.9 2145.5 L922.6 2146.7 L923.3 2148.1 L924 2149.7 L924.8 2151.5 L925.5 2153.4 L926.2 2155.6 L926.9 2158 L927.6 2160.7 L928.3 2163.6 L929 2166.9 L929.7 2170.4 L930.4 2174.4 L931.1 2178.9 L931.8 2183.9 L932.5 2189.5 L933.2 2196 L933.9 2188.3 L934.7 2181.7 L935.4 2176 L936.1 2171.1 L936.9 2166.8 L937.6 2163 L938.3 2159.6 L939.1 2156.7 L939.8 2154.1 L940.5 2151.9 L941.3 2150 L942 2148.4 L942.7 2147 L943.5 2145.9 L944.2 2145.1 L944.9 2144.5 L945.7 2144.1 L946.4 2144 L947.1 2144.1 L947.8 2144.3 L948.5 2144.7 L949.2 2145.3 L949.9 2146 L950.6 2146.9 L951.3 2147.9 L952 2149.2 L952.7 2150.6 L953.4 2152.3 L954.1 2154.1 L954.8 2156.2 L955.6 2158.6 L956.3 2161.2 L957 2164.1 L957.7 2167.4 L958.4 2171.1 L959.1 2175.2 L959.8 2179.9 L960.5 2185.2 L961.2 2191.4 L961.9 2198.6 L962.6 2207.3 L963.3 2218 L964 2203.5 L964.7 2192.5 L965.4 2183.7 L966.2 2176.5 L966.9 2170.4 L967.6 2165.2 L968.3 2160.6 L969 2156.7 L969.7 2153.2 L970.4 2150.2 L971.2 2147.5 L971.9 2145.2 L972.6 2143.2 L973.3 2141.4 L974 2139.9 L974.7 2138.7 L975.4 2137.7 L976.2 2137 L976.9 2136.4 L977.6 2136.1 L978.3 2136 L979 2136.1 L979.7 2136.5 L980.4 2137.2 L981.1 2138.1 L981.8 2139.2 L982.5 2140.7 L983.2 2142.5 L983.9 2144.6 L984.6 2147.1 L985.3 2150 L986.1 2153.4 L986.8 2157.2 L987.5 2161.7 L988.2 2167 L988.9 2173.2 L989.6 2180.6 L990.3 2189.7 L991 2201.3 L991.7 2217.2 L992.4 2242 L993.1 2206.4 L993.8 2186.8 L994.6 2173.1 L995.3 2162.7 L996 2154.4 L996.7 2147.5 L997.5 2141.6 L998.2 2136.5 L998.9 2132.1 L999.6 2128.2 L1000.4 2124.7 L1001.1 2121.7 L1001.8 2118.9 L1002.5 2116.5 L1003.2 2114.3 L1004 2112.4 L1004.7 2110.7 L1005.4 2109.3 L1006.1 2108 L1006.9 2106.9 L1007.6 2106 L1008.3 2105.3 L1009 2104.7 L1009.8 2104.3 L1010.5 2104.1 L1011.2 2104 L1011.9 2104.1 L1012.6 2104.4 L1013.3 2104.9 L1014 2105.7 L1014.7 2106.6 L1015.4 2107.8 L1016.1 2109.3 L1016.8 2110.9 L1017.5 2112.9 L1018.2 2115.1 L1019 2117.7 L1019.7 2120.5 L1020.4 2123.8 L1021.1 2127.5 L1021.8 2131.7 L1022.5 2136.5 L1023.2 2142 L1023.9 2148.4 L1024.6 2155.9 L1025.3 2165 L1026 2156.8 L1026.7 2149.9 L1027.4 2143.9 L1028.2 2138.7 L1028.9 2134.2 L1029.6 2130.1 L1030.3 2126.6 L1031 2123.4 L1031.7 2120.6 L1032.4 2118.1 L1033.2 2115.8 L1033.9 2113.9 L1034.6 2112.2 L1035.3 2110.7 L1036 2109.4 L1036.7 2108.3 L1037.4 2107.5 L1038.2 2106.8 L1038.9 2106.4 L1039.6 2106.1 L1040.3 2106 L1041 2106.1 L1041.7 2106.3 L1042.4 2106.6 L1043.1 2107.1 L1043.8 2107.8 L1044.5 2108.5 L1045.2 2109.5 L1045.9 2110.6 L1046.6 2111.8 L1047.3 2113.3 L1048 2114.9 L1048.7 2116.8 L1049.4 2118.8 L1050.2 2121.1 L1050.9 2123.7 L1051.6 2126.6 L1052.3 2129.8 L1053 2133.3 L1053.7 2137.4 L1054.4 2142 L1055.1 2147.2 L1055.8 2153.3 L1056.5 2160.4 L1057.2 2169 L1057.9 2179.8 L1058.6 2194.1 L1059.3 2215.3 L1060 2256 L1060.7 2231.5 L1061.5 2215.8 L1062.2 2204.5 L1062.9 2195.7 L1063.6 2188.7 L1064.4 2183 L1065.1 2178.3 L1065.8 2174.5 L1066.6 2171.5 L1067.3 2169.1 L1068 2167.3 L1068.7 2166 L1069.5 2165.2 L1070.2 2165 L1070.9 2165.1 L1071.6 2165.2 L1072.3 2165.5 L1073 2165.9 L1073.7 2166.4 L1074.4 2167 L1075.2 2167.7 L1075.9 2168.5 L1076.6 2169.5 L1077.3 2170.5 L1078 2171.7 L1078.7 2173.1 L1079.4 2174.6 L1080.1 2176.2 L1080.8 2178 L1081.5 2180 L1082.2 2182.1 L1082.9 2184.4 L1083.6 2187 L1084.3 2189.8 L1085.1 2192.8 L1085.8 2196.2 L1086.5 2199.8 L1087.2 2203.9 L1087.9 2208.4 L1088.6 2213.4 L1089.3 2219 L1090 2216.4 L1090.7 2214 L1091.5 2211.7 L1092.2 2209.5 L1092.9 2207.5 L1093.6 2205.6 L1094.4 2203.8 L1095.1 2202.1 L1095.8 2200.6 L1096.5 2199.1 L1097.3 2197.8 L1098 2196.5 L1098.7 2195.4 L1099.4 2194.3 L1100.2 2193.4 L1100.9 2192.6 L1101.6 2191.8 L1102.3 2191.1 L1103.1 2190.6 L1103.8 2190.1 L1104.5 2189.7 L1105.2 2189.4 L1106 2189.2 L1106.7 2189 L1107.4 2189 L1108.1 2189.1 L1108.8 2189.3 L1109.5 2189.6 L1110.2 2190 L1110.9 2190.6 L1111.6 2191.4 L1112.3 2192.2 L1113 2193.3 L1113.7 2194.4 L1114.4 2195.8 L1115.1 2197.2 L1115.8 2198.9 L1116.6 2200.7 L1117.3 2202.8 L1118 2205 L1118.7 2207.5 L1119.4 2210.2 L1120.1 2213.2 L1120.8 2216.4 L1121.5 2220 L1122.2 2224 L1122.9 2228.5 L1123.6 2233.4 L1124.3 2239 L1125 2234.7 L1125.7 2230.8 L1126.4 2227.2 L1127.1 2224 L1127.9 2221 L1128.6 2218.4 L1129.3 2216 L1130 2213.8 L1130.7 2211.8 L1131.4 2210.1 L1132.1 2208.6 L1132.8 2207.2 L1133.5 2206.1 L1134.2 2205.1 L1135 2204.4 L1135.7 2203.8 L1136.4 2203.3 L1137.1 2203.1 L1137.8 2203 L1138.5 2203.2 L1139.3 2203.6 L1140 2204.4 L1140.7 2205.4 L1141.4 2206.8 L1142.2 2208.6 L1142.9 2210.7 L1143.6 2213.2 L1144.4 2216.2 L1145.1 2219.7 L1145.8 2223.7 L1146.6 2228.4 L1147.3 2233.9 L1148 2240.4 L1148.7 2248.2 L1149.5 2257.7 L1150.2 2270 L1150.9 2260.6 L1151.7 2252.9 L1152.4 2246.4 L1153.2 2240.9 L1153.9 2236.1 L1154.6 2232 L1155.4 2228.5 L1156.1 2225.5 L1156.8 2222.9 L1157.6 2220.7 L1158.3 2218.9 L1159 2217.5 L1159.8 2216.4 L1160.5 2215.6 L1161.3 2215.2 L1162 2215 L1162.7 2215.1 L1163.5 2215.5 L1164.2 2216 L1164.9 2216.9 L1165.6 2217.9 L1166.4 2219.3 L1167.1 2220.9 L1167.8 2222.8 L1168.5 2225.1 L1169.3 2227.7 L1170 2230.7 L1170.7 2234.1 L1171.5 2238.1 L1172.2 2242.7 L1172.9 2248.2 L1173.6 2254.6 L1174.4 2262.3 L1175.1 2271.8 L1175.8 2284.2 L1176.5 2301.7 L1177.3 2330.5 L1178 2430 L1178.7 2348.7 L1179.4 2321.2 L1180.1 2304.3 L1180.8 2292.1 L1181.5 2282.6 L1182.2 2274.9 L1183 2268.5 L1183.7 2263.1 L1184.4 2258.4 L1185.1 2254.3 L1185.8 2250.7 L1186.5 2247.6 L1187.2 2244.8 L1187.9 2242.4 L1188.6 2240.3 L1189.3 2238.5 L1190 2236.9 L1190.8 2235.6 L1191.5 2234.5 L1192.2 2233.6 L1192.9 2232.9 L1193.6 2232.4 L1194.3 2232.1 L1195 2232 L1195.7 2232.1 L1196.4 2232.2 L1197.1 2232.5 L1197.8 2232.8 L1198.5 2233.3 L1199.3 2233.9 L1200 2234.6 L1200.7 2235.5 L1201.4 2236.4 L1202.1 2237.5 L1202.8 2238.7 L1203.5 2240 L1204.2 2241.5 L1204.9 2243.2 L1205.6 2245 L1206.4 2247 L1207.1 2249.2 L1207.8 2251.6 L1208.5 2254.3 L1209.2 2257.2 L1209.9 2260.4 L1210.6 2264 L1211.3 2268 L1212 2272.4 L1212.7 2277.5 L1213.5 2283.2 L1214.2 2289.9 L1214.9 2297.8 L1215.6 2307.5 L1216.3 2319.9 L1217 2337 L1217.7 2304.9 L1218.5 2286.4 L1219.2 2273.4 L1220 2263.6 L1220.7 2255.7 L1221.4 2249.2 L1222.2 2243.8 L1222.9 2239.2 L1223.7 2235.4 L1224.4 2232.1 L1225.1 2229.3 L1225.9 2227 L1226.6 2225.1 L1227.3 2223.6 L1228.1 2222.5 L1228.8 2221.6 L1229.6 2221.2 L1230.3 2221 L1231 2221.1 L1231.7 2221.4 L1232.5 2221.9 L1233.2 2222.6 L1233.9 2223.5 L1234.6 2224.7 L1235.3 2226 L1236 2227.7 L1236.8 2229.5 L1237.5 2231.7 L1238.2 2234.2 L1238.9 2237 L1239.6 2240.1 L1240.4 2243.8 L1241.1 2247.9 L1241.8 2252.6 L1242.5 2258.1 L1243.2 2264.4 L1243.9 2272 L1244.7 2281.3 L1245.4 2293 L1246.1 2309 L1246.8 2285.7 L1247.5 2270.4 L1248.3 2259 L1249 2250 L1249.7 2242.6 L1250.4 2236.4 L1251.2 2231 L1251.9 2226.3 L1252.6 2222.2 L1253.3 2218.6 L1254.1 2215.4 L1254.8 2212.5 L1255.5 2210 L1256.2 2207.8 L1257 2205.8 L1257.7 2204 L1258.4 2202.5 L1259.1 2201.2 L1259.9 2200 L1260.6 2199.1 L1261.3 2198.3 L1262 2197.7 L1262.8 2197.3 L1263.5 2197.1 L1264.2 2197 L1264.9 2197.1 L1265.7 2197.5 L1266.4 2198.2 L1267.1 2199.1 L1267.8 2200.3 L1268.6 2201.7 L1269.3 2203.5 L1270 2205.7 L1270.8 2208.2 L1271.5 2211.1 L1272.2 2214.5 L1273 2218.4 L1273.7 2222.9 L1274.4 2228.2 L1275.2 2234.4 L1275.9 2241.9 L1276.6 2251.2 L1277.3 2263 L1278.1 2279.3 L1278.8 2305 L1279.5 2258.9 L1280.2 2236.6 L1280.9 2221.9 L1281.6 2211.1 L1282.3 2202.7 L1283 2195.9 L1283.7 2190.4 L1284.4 2185.8 L1285.1 2182.1 L1285.8 2178.9 L1286.5 2176.4 L1287.2 2174.4 L1287.9 2172.9 L1288.6 2171.8 L1289.3 2171.2 L1290 2171 L1290.7 2171.1 L1291.4 2171.3 L1292.2 2171.7 L1292.9 2172.3 L1293.6 2173.1 L1294.3 2174 L1295.1 2175.1 L1295.8 2176.4 L1296.5 2177.9 L1297.2 2179.6 L1298 2181.6 L1298.7 2183.8 L1299.4 2186.2 L1300.1 2189 L1300.9 2192.2 L1301.6 2195.7 L1302.3 2199.7 L1303 2204.2 L1303.8 2209.4 L1304.5 2215.4 L1305.2 2222.5 L1305.9 2231 L1306.7 2241.6 L1307.4 2255.6 L1308.1 2276 L1308.8 2247.7 L1309.5 2230.4 L1310.2 2218 L1310.9 2208.3 L1311.6 2200.4 L1312.3 2193.7 L1313 2188 L1313.7 2183 L1314.4 2178.7 L1315.1 2174.8 L1315.8 2171.3 L1316.5 2168.2 L1317.2 2165.4 L1317.9 2162.9 L1318.6 2160.6 L1319.3 2158.6 L1320 2156.7 L1320.7 2155.1 L1321.4 2153.6 L1322.1 2152.3 L1322.8 2151.2 L1323.5 2150.2 L1324.2 2149.3 L1324.9 2148.6 L1325.6 2148 L1326.3 2147.6 L1327 2147.3 L1327.7 2147.1 L1328.4 2147 L1329.1 2147 L1329.8 2147.1 L1330.6 2147.2 L1331.3 2147.4 L1332 2147.6 L1332.7 2147.9 L1333.4 2148.2 L1334.2 2148.6 L1334.9 2149 L1335.6 2149.5 L1336.3 2150 L1337 2150.6 L1337.8 2151.2 L1338.5 2151.9 L1339.2 2152.6 L1339.9 2153.4 L1340.6 2154.2 L1341.4 2155.1 L1342.1 2156.1 L1342.8 2157.1 L1343.5 2158.1 L1344.2 2159.2 L1345 2160.4 L1345.7 2161.6 L1346.4 2162.9 L1347.1 2164.2 L1347.8 2165.5 L1348.6 2167 L1349.3 2168.5 L1350 2170 L1350.7 2169.9 L1351.4 2169.7 L1352.2 2169.6 L1352.9 2169.5 L1353.6 2169.4 L1354.3 2169.3 L1355 2169.1 L1355.8 2169 L1356.5 2168.9 L1357.2 2168.8 L1357.9 2168.7 L1358.6 2168.6 L1359.4 2168.5 L1360.1 2168.5 L1360.8 2168.4 L1361.5 2168.3 L1362.2 2168.2 L1363 2168.2 L1363.7 2168.1 L1364.4 2168.1 L1365.1 2168.1 L1365.8 2168 L1366.6 2168 L1367.3 2168 L1368 2168 L1368.7 2168.1 L1369.4 2168.3 L1370.2 2168.8 L1370.9 2169.4 L1371.6 2170.2 L1372.3 2171.2 L1373 2172.3 L1373.8 2173.7 L1374.5 2175.3 L1375.2 2177.2 L1375.9 2179.3 L1376.6 2181.6 L1377.4 2184.3 L1378.1 2187.4 L1378.8 2190.8 L1379.5 2194.7 L1380.2 2199.1 L1381 2204.2 L1381.7 2210.1 L1382.4 2217 L1383.1 2225.4 L1383.8 2235.9 L1384.6 2249.8 L1385.3 2269.9 L1386 2307 L1386.7 2281.8 L1387.4 2265.7 L1388.1 2253.9 L1388.8 2244.8 L1389.5 2237.3 L1390.2 2231.1 L1390.9 2225.8 L1391.6 2221.3 L1392.3 2217.4 L1393 2214.1 L1393.7 2211.2 L1394.4 2208.7 L1395.1 2206.5 L1395.8 2204.8 L1396.5 2203.2 L1397.2 2202.1 L1397.9 2201.7 L1398.6 2201.8 L1399.3 2201 L1400 2199.2 L1400.7 2198.1 L1401.4 2199.6 L1402.1 2203.2 L1402.8 2205.7 L1403.5 2204.6 L1404.2 2201.8 L1405 2200.6 L1405.7 2202.1 L1406.4 2204.8 L1407.1 2207.1 L1407.8 2209.8 L1408.5 2214.2 L1409.2 2219.9 L1409.9 2224.6 L1410.6 2226.9 L1411.3 2228.2 L1412 2231.7 L1412.8 2238.4 L1413.5 2246 L1414.2 2251.9 L1414.9 2256.8 L1415.6 2264.9 L1416.3 2280 L1417 2305.1 L1417.7 2283.1 L1418.4 2267.9 L1419.2 2255.9 L1419.9 2247 L1420.6 2240.1 L1421.3 2233 L1422.1 2225.5 L1422.8 2220.1 L1423.5 2218.3 L1424.2 2218.6 L1424.9 2217.3 L1425.7 2212.7 L1426.4 2207.3 L1427.1 2204.5 L1427.8 2205 L1428.6 2205.9 L1429.3 2204.9 L1430 2202.7 L1430.7 2201.9 L1431.4 2203.5 L1432.2 2205.9 L1432.9 2207.3 L1433.6 2208.4 L1434.3 2210.6 L1435 2213.7 L1435.8 2215.1 L1436.5 2213.1 L1437.2 2209.5 L1437.9 2208.5 L1438.6 2212 L1439.4 2217.6 L1440.1 2221.7 L1440.8 2223.5 L1441.5 2225.4 L1442.2 2229.4 L1443 2235 L1443.7 2240 L1444.4 2243.9 L1445.1 2248.6 L1445.8 2255.6 L1446.6 2263.9 L1447.3 2272 L1448 2280.6 L1448.7 2267.2 L1449.4 2259.4 L1450.1 2255 L1450.8 2250 L1451.5 2242.3 L1452.2 2233.4 L1452.9 2226.7 L1453.6 2223.8 L1454.3 2223.1 L1455 2222 L1455.7 2220.2 L1456.4 2219.1 L1457.1 2219 L1457.8 2218.7 L1458.5 2216.3 L1459.2 2212.4 L1459.9 2209.6 L1460.6 2209.5 L1461.3 2210.7 L1462 2210.4 L1462.7 2207.7 L1463.4 2205.2 L1464.1 2206 L1464.8 2210.5 L1465.5 2215.6 L1466.2 2218.6 L1466.9 2219.4 L1467.6 2220.2 L1468.3 2222.4 L1469 2225.2 L1469.7 2227.5 L1470.4 2230.1 L1471.1 2234.9 L1471.8 2242.8 L1472.5 2251.8 L1473.2 2259.3 L1473.9 2265.8 L1474.6 2275.4 L1475.3 2293.1 L1476 2325.7 L1476.7 2315.8 L1477.4 2305.7 L1478.1 2296 L1478.8 2288.7 L1479.5 2284.8 L1480.2 2282.3 L1480.9 2278.9 L1481.6 2274.7 L1482.4 2271.1 L1483.1 2268.3 L1483.8 2264.7 L1484.5 2258.7 L1485.2 2251.8 L1485.9 2247.5 L1486.6 2247.5 L1487.3 2249.8 L1488 2250.5 L1488.7 2248.2 L1489.4 2244.9 L1490.1 2243.3 L1490.8 2243.7 L1491.5 2244 L1492.2 2242.4 L1492.9 2239.9 L1493.6 2238.5 L1494.4 2238.3 L1495.1 2237.7 L1495.8 2235.7 L1496.5 2233.6 L1497.2 2233.7 L1497.9 2236.2 L1498.6 2238.2 L1499.3 2236.8 L1500 2232.9 L1500.7 2229.9 L1501.4 2230.6 L1502.1 2234.2 L1502.8 2237.4 L1503.5 2238.7 L1504.2 2238.8 L1504.9 2239.4 L1505.6 2240.5 L1506.3 2240.4 L1507 2238.5 L1507.7 2236.6 L1508.4 2237 L1509.1 2239.3 L1509.8 2241.2 L1510.5 2240.8 L1511.2 2239.5 L1511.9 2240.5 L1512.6 2245 L1513.3 2250.9 L1514 2254.5 L1514.7 2254.7 L1515.4 2253.6 L1516.1 2253.9 L1516.8 2255.9 L1517.5 2258 L1518.2 2259.6 L1518.9 2261.8 L1519.6 2265.9 L1520.3 2271 L1521 2274.7 L1521.7 2275.8 L1522.4 2276.5 L1523.1 2279.9 L1523.8 2287 L1524.5 2295.5 L1525.2 2302.4 L1525.9 2307.9 L1526.6 2315.1 L1527.3 2327 L1528 2344 L1528.7 2329.8 L1529.4 2317.6 L1530.1 2306.8 L1530.8 2298.1 L1531.5 2290.9 L1532.3 2283.3 L1533 2275.2 L1533.7 2269 L1534.4 2267 L1535.1 2268.1 L1535.8 2268.5 L1536.5 2265.6 L1537.2 2260.5 L1537.9 2256.6 L1538.6 2255.5 L1539.4 2255.3 L1540.1 2253.6 L1540.8 2250.1 L1541.5 2246.9 L1542.2 2245.5 L1542.9 2245 L1543.6 2243.7 L1544.3 2241.6 L1545 2240.7 L1545.7 2242.1 L1546.5 2243.7 L1547.2 2242.7 L1547.9 2238.9 L1548.6 2235.7 L1549.3 2236.1 L1550 2239.9 L1550.7 2243.7 L1551.4 2244.9 L1552.1 2243.8 L1552.8 2242.9 L1553.5 2243.2 L1554.2 2243.5 L1554.9 2242.5 L1555.6 2241.3 L1556.4 2241.9 L1557.1 2244.8 L1557.8 2247.9 L1558.5 2249.1 L1559.2 2249.2 L1559.9 2251.1 L1560.6 2256.2 L1561.3 2262.5 L1562 2266.3 L1562.7 2258.3 L1563.4 2249.5 L1564.1 2242.9 L1564.8 2239.4 L1565.5 2236.9 L1566.2 2233.9 L1566.9 2231 L1567.6 2229.4 L1568.4 2228.8 L1569.1 2227.2 L1569.8 2223.5 L1570.5 2219.5 L1571.2 2218.2 L1571.9 2220.2 L1572.6 2222.8 L1573.3 2222.8 L1574 2220.6 L1574.7 2219 L1575.5 2220.4 L1576.2 2223.7 L1576.9 2225.5 L1577.6 2224.8 L1578.4 2223.2 L1579.1 2223 L1579.8 2223.8 L1580.5 2224.3 L1581.3 2224.8 L1582 2227.8 L1582.7 2234.2 L1583.5 2241.6 L1584.2 2246.3 L1584.9 2247.5 L1585.6 2248.5 L1586.4 2252.7 L1587.1 2260 L1587.8 2267.5 L1588.5 2273.5 L1589.3 2280 L1590 2290.4 L1590.7 2281.4 L1591.4 2274.3 L1592.1 2267.3 L1592.9 2261.3 L1593.6 2257.6 L1594.3 2255.4 L1595 2252.2 L1595.7 2246.9 L1596.4 2241.6 L1597.1 2239.9 L1597.9 2242.2 L1598.6 2245.3 L1599.3 2245.7 L1600 2243.1 L1600.7 2240.3 L1601.5 2239.5 L1602.2 2240 L1602.9 2239.9 L1603.6 2239.3 L1604.4 2240.1 L1605.1 2243.2 L1605.8 2246.8 L1606.5 2248.7 L1607.3 2249.4 L1608 2251.7 L1608.7 2252.6 L1609.4 2253.8 L1610.1 2252.2 L1610.8 2246.9 L1611.5 2240.9 L1612.2 2237.6 L1612.9 2237.5 L1613.6 2238.4 L1614.3 2238 L1615 2236.6 L1615.7 2235.8 L1616.4 2236 L1617.1 2235.4 L1617.8 2233.2 L1618.5 2230.6 L1619.2 2230.2 L1619.9 2232.6 L1620.6 2235.3 L1621.3 2235.5 L1622 2233.1 L1622.7 2231.1 L1623.5 2232.6 L1624.2 2236.5 L1624.9 2239.4 L1625.6 2239.6 L1626.4 2239.2 L1627.1 2241.2 L1627.8 2245.8 L1628.6 2251.8 L1629.3 2258.7 L1630 2268.4 L1630.7 2282.5 L1631.5 2300.7 L1632.2 2322.9 L1632.9 2298.9 L1633.6 2280.9 L1634.3 2269.1 L1635.1 2262.2 L1635.8 2256.5 L1636.5 2249.1 L1637.2 2241.1 L1637.9 2235.4 L1638.6 2232.4 L1639.4 2230.1 L1640.1 2226.9 L1640.8 2223.4 L1641.5 2220.4 L1642.2 2218.1 L1642.9 2215.5 L1643.6 2212.6 L1644.4 2210.2 L1645.1 2208.3 L1645.8 2206.4 L1646.5 2204.6 L1647.2 2202.9 L1647.9 2201.3 L1648.7 2199.8 L1649.4 2198.4 L1650.1 2197.1 L1650.8 2195.9 L1651.5 2194.7 L1652.2 2193.7 L1652.9 2192.7 L1653.7 2191.8 L1654.4 2190.9 L1655.1 2190.1 L1655.8 2189.4 L1656.5 2188.7 L1657.2 2188.1 L1657.9 2187.6 L1658.7 2187.1 L1659.4 2186.6 L1660.1 2186.2 L1660.8 2185.9 L1661.5 2185.6 L1662.2 2185.4 L1663 2185.2 L1663.7 2185.1 L1664.4 2185 L1665.1 2185 L1665.8 2185.1 L1666.6 2185.4 L1667.3 2185.9 L1668 2186.6 L1668.8 2187.6 L1669.5 2188.7 L1670.2 2190.1 L1671 2191.6 L1671.7 2193.4 L1672.4 2195.4 L1673.2 2197.7 L1673.9 2200.2 L1674.6 2202.9 L1675.4 2205.6 L1676.1 2208.6 L1676.8 2207.2 L1677.6 2206.1 L1678.3 2205.5 L1679.1 2205.8 L1679.8 2206 L1680.5 2204.2 L1681.3 2200.4 L1682 2197.4 L1682.8 2197.8 L1683.5 2200.2 L1684.2 2200.8 L1685 2199 L1685.7 2197.7 L1686.4 2199.4 L1687.1 2203.4 L1687.8 2206.9 L1688.6 2208.5 L1689.3 2209.9 L1690 2212.7 L1690.8 2216.3 L1691.5 2219.2 L1692.2 2221.6 L1692.9 2226.1 L1693.7 2234.4 L1694.4 2245 L1695.1 2254.5 L1695.8 2262.3 L1696.5 2272.7 L1697.3 2293.7 L1698 2343.5 L1698.7 2315.3 L1699.4 2298 L1700.1 2284.9 L1700.8 2275.8 L1701.5 2269.9 L1702.2 2265.1 L1702.9 2259.5 L1703.6 2253.6 L1704.3 2249.2 L1705 2246.8 L1705.7 2244.3 L1706.4 2239.5 L1707.1 2233.1 L1707.8 2228.4 L1708.5 2228.1 L1709.2 2231 L1709.9 2233.4 L1710.6 2233.1 L1711.3 2231 L1712 2229.8 L1712.7 2230.3 L1713.4 2231 L1714.1 2230.7 L1714.8 2230.5 L1715.5 2232 L1716.2 2235.1 L1717 2237.4 L1717.7 2237.2 L1718.4 2235.7 L1719.1 2236 L1719.8 2239.6 L1720.5 2244.1 L1721.2 2246.5 L1721.9 2246.3 L1722.6 2246.6 L1723.3 2250.1 L1724 2256.9 L1724.8 2264.4 L1725.5 2270.9 L1726.2 2277.2 L1726.9 2284.8 L1727.6 2293.5 L1728.3 2302.1 L1729 2311.4 L1729.7 2296.2 L1730.4 2286.8 L1731.2 2281.9 L1731.9 2277.9 L1732.6 2271.9 L1733.3 2264.9 L1734.1 2260.2 L1734.8 2259.1 L1735.5 2259.1 L1736.2 2257.3 L1736.9 2253.6 L1737.7 2250.2 L1738.4 2248.5 L1739.1 2247.6 L1739.8 2245.9 L1740.6 2244.1 L1741.3 2244.4 L1742 2246.9 L1742.7 2248.9 L1743.4 2247.9 L1744.1 2244.3 L1744.8 2241.7 L1745.5 2242.9 L1746.2 2247.4 L1746.9 2252.1 L1747.6 2254.9 L1748.3 2256.7 L1749 2259.9 L1749.7 2264.8 L1750.4 2269.9 L1751.1 2273.7 L1751.8 2277.2 L1752.5 2282.5 L1753.2 2290.3 L1753.9 2299.2 L1754.6 2308.6 L1755.3 2321.5 L1756 2345.9 L1756.7 2315.1 L1757.4 2300.7 L1758.1 2290.1 L1758.8 2278.9 L1759.5 2268.3 L1760.2 2260.5 L1760.9 2255.8 L1761.6 2252.1 L1762.4 2248 L1763.1 2244.1 L1763.8 2242.1 L1764.5 2241.4 L1765.2 2240.1 L1765.9 2236.7 L1766.6 2233.2 L1767.3 2232.2 L1768 2234.2 L1768.7 2236.3 L1769.5 2235.4 L1770.2 2232.3 L1770.9 2231.3 L1771.7 2233.5 L1772.4 2236.6 L1773.2 2237.9 L1773.9 2237.4 L1774.6 2236.6 L1775.4 2236.1 L1776.1 2235.6 L1776.8 2235.2 L1777.6 2235.2 L1778.3 2232" fill="none" stroke="#ff0000" stroke-width="6.5" stroke-linejoin="round" stroke-dasharray="25 21"/>
<path d="M221.5 2215 L222.2 2216.2 L222.9 2220 L223.7 2226.3 L224.4 2235 L225.1 2225.8 L225.9 2218.3 L226.6 2211.9 L227.3 2206.6 L228.1 2202 L228.8 2198.2 L229.6 2194.9 L230.3 2192.2 L231 2189.9 L231.8 2188.1 L232.5 2186.7 L233.2 2185.8 L234 2185.2 L234.7 2185 L235.4 2185.1 L236.1 2185.3 L236.8 2185.8 L237.5 2186.4 L238.2 2187.2 L238.9 2188.1 L239.7 2189.3 L240.4 2190.7 L241.1 2192.3 L241.8 2194.1 L242.5 2196.2 L243.2 2198.5 L243.9 2201.2 L244.6 2204.1 L245.3 2207.5 L246 2211.3 L246.7 2215.6 L247.4 2220.5 L248.2 2226.2 L248.9 2232.8 L249.6 2240.7 L250.3 2250.4 L251 2262.8 L251.7 2280 L252.4 2265.4 L253.1 2254.3 L253.8 2245.5 L254.5 2238.2 L255.3 2232 L256 2226.7 L256.7 2222 L257.4 2217.8 L258.1 2214.2 L258.8 2210.9 L259.5 2208 L260.2 2205.4 L261 2203.1 L261.7 2201 L262.4 2199.2 L263.1 2197.5 L263.8 2196.1 L264.5 2194.9 L265.2 2193.8 L265.9 2193 L266.7 2192.2 L267.4 2191.7 L268.1 2191.3 L268.8 2191.1 L269.5 2191 L270.2 2191.2 L270.9 2191.7 L271.6 2192.7 L272.3 2194 L273 2195.8 L273.7 2198 L274.4 2200.7 L275.1 2204 L275.9 2207.9 L276.6 2212.5 L277.3 2218 L278 2224.7 L278.7 2232.8 L279.4 2243 L280.1 2256.5 L280.8 2276 L281.5 2253.5 L282.2 2238.6 L282.9 2227.5 L283.6 2218.6 L284.4 2211.3 L285.1 2205.1 L285.8 2199.8 L286.5 2195.1 L287.2 2191.1 L287.9 2187.5 L288.6 2184.3 L289.3 2181.5 L290.1 2178.9 L290.8 2176.7 L291.5 2174.7 L292.2 2173 L292.9 2171.5 L293.6 2170.1 L294.3 2169 L295 2168.1 L295.8 2167.3 L296.5 2166.7 L297.2 2166.3 L297.9 2166.1 L298.6 2166 L299.3 2166 L300 2166.1 L300.7 2166.2 L301.5 2166.4 L302.2 2166.6 L302.9 2166.9 L303.6 2167.2 L304.3 2167.5 L305 2167.9 L305.8 2168.4 L306.5 2168.9 L307.2 2169.4 L307.9 2170 L308.6 2170.6 L309.3 2171.3 L310.1 2172 L310.8 2172.7 L311.5 2173.5 L312.2 2174.3 L312.9 2175.2 L313.6 2176.1 L314.4 2177 L315.1 2178 L315.8 2179 L316.5 2180 L317.2 2175.3 L317.9 2171 L318.6 2167.1 L319.3 2163.6 L320 2160.3 L320.7 2157.2 L321.4 2154.4 L322.1 2151.7 L322.8 2149.3 L323.5 2147 L324.2 2144.8 L324.9 2142.7 L325.6 2140.8 L326.3 2139 L327 2137.3 L327.7 2135.7 L328.4 2134.1 L329.1 2132.7 L329.8 2131.4 L330.5 2130.1 L331.2 2128.9 L331.9 2127.7 L332.6 2126.7 L333.3 2125.7 L334 2124.7 L334.7 2123.9 L335.4 2123.1 L336.1 2122.3 L336.8 2121.6 L337.5 2120.9 L338.2 2120.4 L338.9 2119.8 L339.6 2119.3 L340.3 2118.9 L341 2118.5 L341.7 2118.1 L342.4 2117.8 L343.1 2117.6 L343.8 2117.4 L344.5 2117.2 L345.2 2117.1 L345.9 2117 L346.6 2117 L347.3 2117.1 L348.1 2117.5 L348.8 2118.1 L349.5 2118.9 L350.2 2120 L351 2121.3 L351.7 2122.9 L352.4 2124.8 L353.1 2127 L353.9 2129.6 L354.6 2132.4 L355.3 2135.7 L356.1 2139.5 L356.8 2143.7 L357.5 2148.5 L358.2 2154.1 L359 2160.5 L359.7 2168 L360.4 2156.3 L361.1 2147 L361.8 2139.4 L362.5 2133 L363.2 2127.5 L363.9 2122.7 L364.6 2118.6 L365.3 2115 L366 2111.8 L366.8 2109 L367.5 2106.6 L368.2 2104.5 L368.9 2102.6 L369.6 2101.1 L370.3 2099.8 L371 2098.8 L371.7 2098 L372.4 2097.4 L373.1 2097.1 L373.8 2097 L374.5 2097.1 L375.2 2097.5 L376 2098 L376.7 2098.9 L377.4 2099.9 L378.1 2101.2 L378.8 2102.8 L379.5 2104.7 L380.3 2106.8 L381 2109.3 L381.7 2112 L382.4 2115.2 L383.1 2118.7 L383.8 2122.7 L384.6 2127.2 L385.3 2132.3 L386 2138 L386.7 2133 L387.4 2128.6 L388.1 2124.5 L388.9 2120.8 L389.6 2117.5 L390.3 2114.4 L391 2111.5 L391.7 2108.9 L392.4 2106.5 L393.1 2104.2 L393.9 2102.2 L394.6 2100.3 L395.3 2098.5 L396 2096.9 L396.7 2095.4 L397.4 2094.1 L398.1 2092.8 L398.8 2091.7 L399.6 2090.7 L400.3 2089.8 L401 2089 L401.7 2088.3 L402.4 2087.7 L403.1 2087.1 L403.8 2086.7 L404.6 2086.4 L405.3 2086.2 L406 2086 L406.7 2086 L407.4 2086.1 L408.1 2086.4 L408.9 2087 L409.6 2087.8 L410.3 2088.8 L411 2090.1 L411.7 2091.7 L412.5 2093.5 L413.2 2095.6 L413.9 2098.1 L414.6 2100.9 L415.3 2104.1 L416 2107.8 L416.8 2112.1 L417.5 2117 L418.2 2122.7 L418.9 2129.4 L419.6 2137.5 L420.4 2147.5 L421.1 2160.6 L421.8 2179 L422.5 2167.4 L423.2 2158.2 L424 2150.6 L424.7 2144.2 L425.4 2138.7 L426.1 2133.9 L426.9 2129.7 L427.6 2126 L428.3 2122.7 L429 2119.8 L429.8 2117.2 L430.5 2115 L431.2 2113 L431.9 2111.2 L432.6 2109.7 L433.4 2108.4 L434.1 2107.4 L434.8 2106.5 L435.5 2105.8 L436.3 2105.4 L437 2105.1 L437.7 2105 L438.4 2105.1 L439.1 2105.6 L439.9 2106.4 L440.6 2107.4 L441.3 2108.8 L442 2110.6 L442.8 2112.7 L443.5 2115.2 L444.2 2118.1 L444.9 2121.5 L445.7 2125.5 L446.4 2130.2 L447.1 2135.6 L447.8 2142 L448.6 2149.7 L449.3 2159 L450 2171 L450.7 2161.5 L451.4 2153.7 L452.1 2147.1 L452.8 2141.4 L453.5 2136.4 L454.2 2132 L454.9 2128 L455.6 2124.6 L456.3 2121.4 L457 2118.6 L457.7 2116.1 L458.4 2113.8 L459.2 2111.8 L459.9 2110 L460.6 2108.4 L461.3 2107 L462 2105.8 L462.7 2104.8 L463.4 2103.9 L464.1 2103.2 L464.8 2102.7 L465.5 2102.3 L466.2 2102.1 L466.9 2102 L467.6 2102.1 L468.4 2102.5 L469.1 2103 L469.8 2103.8 L470.5 2104.9 L471.3 2106.2 L472 2107.7 L472.7 2109.6 L473.4 2111.8 L474.2 2114.3 L474.9 2117.2 L475.6 2120.5 L476.4 2124.4 L477.1 2128.8 L477.8 2133.9 L478.5 2140 L479.3 2147.2 L480 2156 L480.7 2167.3 L481.4 2182.5 L482.2 2205.7 L482.9 2256 L483.6 2215.7 L484.3 2194.7 L485.1 2180.5 L485.8 2169.7 L486.5 2161.2 L487.2 2154.1 L488 2148.1 L488.7 2142.9 L489.4 2138.4 L490.1 2134.4 L490.9 2130.9 L491.6 2127.8 L492.3 2125.1 L493 2122.6 L493.7 2120.4 L494.5 2118.5 L495.2 2116.8 L495.9 2115.3 L496.6 2114 L497.4 2112.9 L498.1 2112 L498.8 2111.3 L499.5 2110.7 L500.3 2110.3 L501 2110.1 L501.7 2110 L502.4 2110.1 L503.1 2110.5 L503.8 2111.2 L504.6 2112.1 L505.3 2113.2 L506 2114.7 L506.7 2116.5 L507.4 2118.6 L508.1 2121.1 L508.9 2124 L509.6 2127.4 L510.3 2131.2 L511 2135.7 L511.7 2141 L512.4 2147.2 L513.1 2154.6 L513.9 2163.7 L514.6 2175.3 L515.3 2191.2 L516 2216 L516.7 2182.8 L517.4 2163.9 L518.1 2150.6 L518.8 2140.5 L519.6 2132.3 L520.3 2125.5 L521 2119.7 L521.7 2114.7 L522.4 2110.4 L523.1 2106.5 L523.8 2103.2 L524.5 2100.2 L525.3 2097.5 L526 2095.2 L526.7 2093.1 L527.4 2091.3 L528.1 2089.7 L528.8 2088.3 L529.5 2087.1 L530.2 2086.2 L531 2085.4 L531.7 2084.8 L532.4 2084.3 L533.1 2084.1 L533.8 2084 L534.5 2084.1 L535.2 2084.5 L536 2085.1 L536.7 2086 L537.4 2087.1 L538.1 2088.5 L538.8 2090.3 L539.6 2092.3 L540.3 2094.7 L541 2097.4 L541.7 2100.6 L542.4 2104.3 L543.1 2108.6 L543.9 2113.6 L544.6 2119.5 L545.3 2126.5 L546 2135.1 L546.7 2145.9 L547.5 2160.4 L548.2 2182 L548.9 2225 L549.6 2181.8 L550.3 2160.1 L551 2145.5 L551.7 2134.6 L552.5 2125.9 L553.2 2118.7 L553.9 2112.7 L554.6 2107.5 L555.3 2103 L556 2099.1 L556.7 2095.6 L557.4 2092.5 L558.2 2089.8 L558.9 2087.4 L559.6 2085.3 L560.3 2083.4 L561 2081.8 L561.7 2080.4 L562.4 2079.2 L563.1 2078.2 L563.9 2077.4 L564.6 2076.8 L565.3 2076.3 L566 2076.1 L566.7 2076 L567.4 2076.1 L568.1 2076.5 L568.8 2077.2 L569.5 2078.2 L570.2 2079.5 L570.9 2081.1 L571.6 2083 L572.3 2085.3 L573 2088 L573.8 2091.1 L574.5 2094.8 L575.2 2099.1 L575.9 2104.1 L576.6 2110 L577.3 2117.1 L578 2125.9 L578.7 2137 L579.4 2152.2 L580.1 2175.3 L580.8 2225 L581.5 2168.1 L582.2 2143.6 L583 2128 L583.7 2116.7 L584.4 2107.9 L585.1 2100.9 L585.8 2095.1 L586.5 2090.3 L587.3 2086.2 L588 2082.9 L588.7 2080.1 L589.4 2077.9 L590.1 2076.1 L590.8 2074.7 L591.6 2073.8 L592.3 2073.2 L593 2073 L593.7 2073.1 L594.4 2073.3 L595.1 2073.8 L595.9 2074.4 L596.6 2075.2 L597.3 2076.2 L598 2077.3 L598.7 2078.7 L599.4 2080.3 L600.2 2082.1 L600.9 2084.2 L601.6 2086.6 L602.3 2089.3 L603 2092.3 L603.7 2095.7 L604.5 2099.6 L605.2 2104 L605.9 2109 L606.6 2114.9 L607.3 2121.8 L608 2130.2 L608.8 2140.6 L609.5 2154.2 L610.2 2174 L610.9 2210 L611.6 2170.3 L612.3 2149.5 L613.1 2135.3 L613.8 2124.6 L614.5 2116.1 L615.2 2109 L616 2103 L616.7 2097.9 L617.4 2093.4 L618.1 2089.4 L618.9 2085.9 L619.6 2082.8 L620.3 2080 L621 2077.6 L621.7 2075.4 L622.5 2073.5 L623.2 2071.8 L623.9 2070.3 L624.6 2069 L625.4 2067.9 L626.1 2067 L626.8 2066.3 L627.5 2065.7 L628.3 2065.3 L629 2065.1 L629.7 2065 L630.4 2065.2 L631.2 2065.7 L631.9 2066.5 L632.6 2067.7 L633.4 2069.3 L634.1 2071.3 L634.8 2073.8 L635.6 2076.7 L636.3 2080.2 L637 2084.4 L637.8 2089.3 L638.5 2095.2 L639.2 2102.4 L640 2111.3 L640.7 2122.7 L641.4 2138.5 L642.2 2163.2 L642.9 2222 L643.6 2159.7 L644.3 2134.3 L645.1 2118.2 L645.8 2106.5 L646.5 2097.2 L647.2 2089.7 L648 2083.4 L648.7 2078 L649.4 2073.3 L650.1 2069.1 L650.9 2065.5 L651.6 2062.3 L652.3 2059.5 L653 2056.9 L653.7 2054.7 L654.5 2052.7 L655.2 2051 L655.9 2049.4 L656.6 2048.1 L657.4 2047 L658.1 2046.1 L658.8 2045.3 L659.5 2044.7 L660.3 2044.3 L661 2044.1 L661.7 2044 L662.4 2044.2 L663.2 2044.7 L663.9 2045.6 L664.6 2046.8 L665.3 2048.4 L666.1 2050.5 L666.8 2053 L667.5 2056 L668.2 2059.5 L669 2063.8 L669.7 2068.9 L670.4 2075 L671.2 2082.4 L671.9 2091.7 L672.6 2103.8 L673.3 2120.8 L674.1 2148.7 L674.8 2235 L675.5 2127.9 L676.2 2098.5 L676.9 2080.8 L677.6 2068.1 L678.4 2058.2 L679.1 2050.1 L679.8 2043.3 L680.5 2037.4 L681.2 2032.3 L681.9 2027.7 L682.6 2023.6 L683.3 2019.9 L684 2016.5 L684.8 2013.4 L685.5 2010.5 L686.2 2007.9 L686.9 2005.4 L687.6 2003.2 L688.3 2001.1 L689 1999.1 L689.7 1997.3 L690.4 1995.6 L691.2 1994 L691.9 1992.5 L692.6 1991.1 L693.3 1989.8 L694 1988.6 L694.7 1987.5 L695.4 1986.5 L696.1 1985.5 L696.8 1984.7 L697.6 1983.9 L698.3 1983.1 L699 1982.4 L699.7 1981.8 L700.4 1981.3 L701.1 1980.8 L701.8 1980.4 L702.5 1980 L703.2 1979.7 L704 1979.4 L704.7 1979.3 L705.4 1979.1 L706.1 1979 L706.8 1979 L707.5 1979 L708.2 1979.1 L708.9 1979.2 L709.6 1979.4 L710.3 1979.6 L711 1979.9 L711.7 1980.2 L712.4 1980.6 L713.1 1981.1 L713.8 1981.6 L714.5 1982.1 L715.2 1982.7 L715.9 1983.4 L716.6 1984.1 L717.3 1984.9 L718 1985.8 L718.7 1986.7 L719.4 1987.7 L720.1 1988.7 L720.8 1989.9 L721.5 1991.1 L722.2 1992.4 L722.9 1993.8 L723.6 1995.3 L724.3 1996.9 L725 1998.6 L725.7 2000.4 L726.4 2002.4 L727.1 2004.5 L727.8 2006.7 L728.5 2009.1 L729.2 2011.7 L729.9 2014.5 L730.6 2017.6 L731.3 2020.9 L732 2024.5 L732.7 2028.5 L733.4 2032.9 L734.1 2037.9 L734.8 2043.5 L735.5 2049.9 L736.2 2057.5 L736.9 2066.7 L737.6 2078.1 L738.3 2093.6 L739 2117.2 L739.7 2169 L740.4 2139.3 L741.1 2121.6 L741.8 2109 L742.6 2099.2 L743.3 2091.4 L744 2084.9 L744.7 2079.3 L745.4 2074.6 L746.1 2070.5 L746.8 2067 L747.6 2063.9 L748.3 2061.3 L749 2059 L749.7 2057 L750.4 2055.4 L751.1 2054 L751.8 2052.9 L752.6 2052.1 L753.3 2051.5 L754 2051.1 L754.7 2051 L755.4 2051.1 L756.2 2051.5 L756.9 2052 L757.6 2052.9 L758.3 2053.9 L759.1 2055.2 L759.8 2056.8 L760.5 2058.7 L761.2 2060.9 L762 2063.5 L762.7 2066.5 L763.4 2069.9 L764.2 2073.8 L764.9 2078.4 L765.6 2083.7 L766.3 2089.9 L767.1 2097.4 L767.8 2106.7 L768.5 2118.6 L769.2 2135.1 L770 2161.5 L770.7 2232 L771.4 2185 L772.1 2162.4 L772.8 2147.5 L773.5 2136.4 L774.2 2127.6 L774.9 2120.4 L775.6 2114.3 L776.3 2109.1 L777 2104.6 L777.7 2100.7 L778.4 2097.2 L779.2 2094.2 L779.9 2091.5 L780.6 2089.2 L781.3 2087.1 L782 2085.3 L782.7 2083.8 L783.4 2082.5 L784.1 2081.4 L784.8 2080.5 L785.5 2079.9 L786.2 2079.4 L786.9 2079.1 L787.6 2079 L788.3 2079.1 L789 2079.5 L789.8 2080 L790.5 2080.8 L791.2 2081.9 L791.9 2083.2 L792.7 2084.8 L793.4 2086.6 L794.1 2088.8 L794.8 2091.4 L795.5 2094.3 L796.3 2097.6 L797 2101.5 L797.7 2106 L798.4 2111.2 L799.2 2117.3 L799.9 2124.6 L800.6 2133.6 L801.3 2145 L802.1 2160.6 L802.8 2184.8 L803.5 2240 L804.2 2193.7 L804.9 2171.3 L805.6 2156.5 L806.3 2145.5 L807 2136.8 L807.7 2129.8 L808.4 2123.9 L809.1 2118.9 L809.8 2114.7 L810.5 2111 L811.3 2107.9 L812 2105.2 L812.7 2102.9 L813.4 2101 L814.1 2099.5 L814.8 2098.2 L815.5 2097.2 L816.2 2096.5 L816.9 2096.1 L817.6 2096 L818.3 2096.1 L819 2096.3 L819.8 2096.7 L820.5 2097.3 L821.2 2098 L821.9 2098.9 L822.7 2100 L823.4 2101.2 L824.1 2102.7 L824.8 2104.3 L825.6 2106.2 L826.3 2108.3 L827 2110.7 L827.7 2113.4 L828.4 2116.4 L829.2 2119.8 L829.9 2123.6 L830.6 2128 L831.3 2132.9 L832.1 2138.7 L832.8 2145.4 L833.5 2153.4 L834.2 2163.4 L835 2176.2 L835.7 2194.3 L836.4 2225 L837.1 2195.6 L837.9 2178 L838.6 2165.5 L839.3 2155.9 L840 2148.2 L840.8 2141.8 L841.5 2136.5 L842.2 2132 L843 2128.2 L843.7 2125 L844.4 2122.2 L845.1 2120 L845.9 2118.1 L846.6 2116.6 L847.3 2115.4 L848 2114.6 L848.8 2114.2 L849.5 2114 L850.2 2114.1 L850.9 2114.4 L851.6 2114.8 L852.4 2115.4 L853.1 2116.2 L853.8 2117.3 L854.5 2118.5 L855.2 2119.9 L855.9 2121.5 L856.7 2123.4 L857.4 2125.6 L858.1 2128.1 L858.8 2130.9 L859.5 2134 L860.2 2137.6 L861 2141.7 L861.7 2146.3 L862.4 2151.7 L863.1 2158 L863.8 2165.5 L864.5 2174.7 L865.3 2186.4 L866 2202.4 L866.7 2227.6 L867.4 2289 L868.1 2229.3 L868.8 2204.3 L869.5 2188.4 L870.2 2176.8 L870.9 2167.6 L871.6 2160.2 L872.3 2153.9 L873 2148.6 L873.7 2144 L874.4 2140 L875.1 2136.5 L875.8 2133.4 L876.6 2130.7 L877.3 2128.3 L878 2126.2 L878.7 2124.4 L879.4 2122.8 L880.1 2121.5 L880.8 2120.4 L881.5 2119.5 L882.2 2118.9 L882.9 2118.4 L883.6 2118.1 L884.3 2118 L885 2118.1 L885.7 2118.3 L886.5 2118.7 L887.2 2119.2 L887.9 2119.9 L888.6 2120.7 L889.4 2121.8 L890.1 2122.9 L890.8 2124.3 L891.5 2125.9 L892.3 2127.7 L893 2129.7 L893.7 2131.9 L894.4 2134.4 L895.1 2137.2 L895.9 2140.3 L896.6 2143.8 L897.3 2147.8 L898 2152.3 L898.8 2157.4 L899.5 2163.3 L900.2 2170.2 L900.9 2178.5 L901.7 2188.7 L902.4 2202 L903.1 2221 L903.8 2205.1 L904.6 2193.5 L905.3 2184.3 L906 2176.9 L906.8 2170.6 L907.5 2165.4 L908.2 2160.9 L909 2157 L909.7 2153.7 L910.4 2150.8 L911.2 2148.4 L911.9 2146.4 L912.6 2144.7 L913.4 2143.3 L914.1 2142.3 L914.8 2141.6 L915.6 2141.1 L916.3 2141 L917 2141.1 L917.7 2141.3 L918.4 2141.6 L919.1 2142.1 L919.8 2142.7 L920.5 2143.5 L921.2 2144.4 L921.9 2145.5 L922.6 2146.7 L923.3 2148.1 L924 2149.7 L924.8 2151.5 L925.5 2153.4 L926.2 2155.6 L926.9 2158 L927.6 2160.7 L928.3 2163.6 L929 2166.9 L929.7 2170.4 L930.4 2174.4 L931.1 2178.9 L931.8 2183.9 L932.5 2189.5 L933.2 2196 L933.9 2188.3 L934.7 2181.7 L935.4 2176 L936.1 2171.1 L936.9 2166.8 L937.6 2163 L938.3 2159.6 L939.1 2156.7 L939.8 2154.1 L940.5 2151.9 L941.3 2150 L942 2148.4 L942.7 2147 L943.5 2145.9 L944.2 2145.1 L944.9 2144.5 L945.7 2144.1 L946.4 2144 L947.1 2144.1 L947.8 2144.3 L948.5 2144.7 L949.2 2145.3 L949.9 2146 L950.6 2146.9 L951.3 2147.9 L952 2149.2 L952.7 2150.6 L953.4 2152.3 L954.1 2154.1 L954.8 2156.2 L955.6 2158.6 L956.3 2161.2 L957 2164.1 L957.7 2167.4 L958.4 2171.1 L959.1 2175.2 L959.8 2179.9 L960.5 2185.2 L961.2 2191.4 L961.9 2198.6 L962.6 2207.3 L963.3 2218 L964 2203.5 L964.7 2192.5 L965.4 2183.7 L966.2 2176.5 L966.9 2170.4 L967.6 2165.2 L968.3 2160.6 L969 2156.7 L969.7 2153.2 L970.4 2150.2 L971.2 2147.5 L971.9 2145.2 L972.6 2143.2 L973.3 2141.4 L974 2139.9 L974.7 2138.7 L975.4 2137.7 L976.2 2137 L976.9 2136.4 L977.6 2136.1 L978.3 2136 L979 2136.1 L979.7 2136.5 L980.4 2137.2 L981.1 2138.1 L981.8 2139.2 L982.5 2140.7 L983.2 2142.5 L983.9 2144.6 L984.6 2147.1 L985.3 2150 L986.1 2153.4 L986.8 2157.2 L987.5 2161.7 L988.2 2167 L988.9 2173.2 L989.6 2180.6 L990.3 2189.7 L991 2201.3 L991.7 2217.2 L992.4 2242 L993.1 2206.4 L993.8 2186.8 L994.6 2173.1 L995.3 2162.7 L996 2154.4 L996.7 2147.5 L997.5 2141.6 L998.2 2136.5 L998.9 2132.1 L999.6 2128.2 L1000.4 2124.7 L1001.1 2121.7 L1001.8 2118.9 L1002.5 2116.5 L1003.2 2114.3 L1004 2112.4 L1004.7 2110.7 L1005.4 2109.3 L1006.1 2108 L1006.9 2106.9 L1007.6 2106 L1008.3 2105.3 L1009 2104.7 L1009.8 2104.3 L1010.5 2104.1 L1011.2 2104 L1011.9 2104.1 L1012.6 2104.4 L1013.3 2104.9 L1014 2105.7 L1014.7 2106.6 L1015.4 2107.8 L1016.1 2109.3 L1016.8 2110.9 L1017.5 2112.9 L1018.2 2115.1 L1019 2117.7 L1019.7 2120.5 L1020.4 2123.8 L1021.1 2127.5 L1021.8 2131.7 L1022.5 2136.5 L1023.2 2142 L1023.9 2148.4 L1024.6 2155.9 L1025.3 2165 L1026 2156.8 L1026.7 2149.9 L1027.4 2143.9 L1028.2 2138.7 L1028.9 2134.2 L1029.6 2130.1 L1030.3 2126.6 L1031 2123.4 L1031.7 2120.6 L1032.4 2118.1 L1033.2 2115.8 L1033.9 2113.9 L1034.6 2112.2 L1035.3 2110.7 L1036 2109.4 L1036.7 2108.3 L1037.4 2107.5 L1038.2 2106.8 L1038.9 2106.4 L1039.6 2106.1 L1040.3 2105.9 L1041 2105.6 L1041.7 2106.4 L1042.4 2107.9 L1043.1 2108.6 L1043.8 2107.7 L1044.5 2106.8 L1045.2 2108.1 L1045.9 2111.5 L1046.6 2114.7 L1047.3 2116.3 L1048 2117.3 L1048.7 2119 L1049.4 2120.6 L1050.2 2120.1 L1050.9 2117.9 L1051.6 2117.9 L1052.3 2123.3 L1053 2132.6 L1053.7 2141.1 L1054.4 2145.6 L1055.1 2148.2 L1055.8 2153.4 L1056.5 2162.9 L1057.2 2174.3 L1057.9 2184.9 L1058.6 2195.9 L1059.3 2213.6 L1060 2253.2 L1060.7 2228.7 L1061.5 2212.3 L1062.2 2199.7 L1062.9 2192.3 L1063.6 2189.8 L1064.4 2188.2 L1065.1 2182.8 L1065.8 2174 L1066.6 2166.9 L1067.3 2165.6 L1068 2168.3 L1068.7 2170.2 L1069.5 2168.8 L1070.2 2166.3 L1070.9 2165.8 L1071.6 2166.8 L1072.3 2166.7 L1073 2164.7 L1073.7 2162.9 L1074.4 2163.7 L1075.2 2166.4 L1075.9 2167.6 L1076.6 2166.2 L1077.3 2165.2 L1078 2168.5 L1078.7 2176 L1079.4 2183.1 L1080.1 2185.3 L1080.8 2182.8 L1081.5 2179.8 L1082.2 2179.9 L1082.9 2182.4 L1083.6 2184.7 L1084.3 2186.2 L1085.1 2189.1 L1085.8 2194.7 L1086.5 2201.1 L1087.2 2205.2 L1087.9 2207.2 L1088.6 2210.5 L1089.3 2218.1 L1090 2219.8 L1090.7 2219.2 L1091.5 2213.9 L1092.2 2207.2 L1092.9 2204 L1093.6 2205.3 L1094.4 2207.2 L1095.1 2206.1 L1095.8 2202.4 L1096.5 2198.9 L1097.3 2196.7 L1098 2194.1 L1098.7 2190.1 L1099.4 2187.2 L1100.2 2188.6 L1100.9 2193.7 L1101.6 2197.8 L1102.3 2197 L1103.1 2192.8 L1103.8 2190.2 L1104.5 2191.4 L1105.2 2193.6 L1106 2192.7 L1106.7 2188.4 L1107.4 2184.4 L1108.1 2183.8 L1108.8 2185.5 L1109.5 2186.9 L1110.2 2187.6 L1110.9 2189.6 L1111.6 2193.8 L1112.3 2197.7 L1113 2198 L1113.7 2194.5 L1114.4 2191.6 L1115.1 2193.4 L1115.8 2199.5 L1116.6 2205.4 L1117.3 2207.4 L1118 2206.4 L1118.7 2206.4 L1119.4 2209.2 L1120.1 2213.1 L1120.8 2215.6 L1121.5 2217 L1122.2 2220.1 L1122.9 2226.1 L1123.6 2233 L1124.3 2238.4 L1125 2232.5 L1125.7 2229.1 L1126.4 2230 L1127.1 2232.1 L1127.9 2230.4 L1128.6 2223.2 L1129.3 2214.2 L1130 2208.4 L1130.7 2207 L1131.4 2207.2 L1132.1 2206.2 L1132.8 2204.5 L1133.5 2204.5 L1134.2 2206.1 L1135 2206.8 L1135.7 2204.9 L1136.4 2202.2 L1137.1 2202.3 L1137.8 2205.4 L1138.5 2208.1 L1139.3 2206.7 L1140 2202.6 L1140.7 2201.1 L1141.4 2205 L1142.2 2211.2 L1142.9 2214.9 L1143.6 2214.8 L1144.4 2214.1 L1145.1 2216 L1145.8 2219.9 L1146.6 2224 L1147.3 2228.7 L1148 2237 L1148.7 2249.6 L1149.5 2263.5 L1150.2 2275.2 L1150.9 2262 L1151.7 2250.8 L1152.4 2244.9 L1153.1 2242 L1153.8 2237.5 L1154.6 2229.6 L1155.3 2221.9 L1156 2218.3 L1156.8 2218.7 L1157.5 2219.5 L1158.2 2218.8 L1159 2218 L1159.7 2218.8 L1160.4 2219.4 L1161.1 2217 L1161.9 2211.8 L1162.6 2208.4 L1163.3 2210.1 L1164 2215.2 L1164.7 2218.5 L1165.4 2216.9 L1166.2 2212.8 L1166.9 2210.5 L1167.6 2211.6 L1168.3 2213.7 L1169 2213.9 L1169.7 2212.7 L1170.4 2212.9 L1171.1 2215.4 L1171.8 2218.1 L1172.6 2218.9 L1173.3 2218.7 L1174 2220.6 L1174.7 2225.2 L1175.4 2228.8 L1176.1 2227.5 L1176.8 2221.7 L1177.5 2216.5 L1178.2 2216.4 L1179 2220.7 L1179.7 2225.3 L1180.4 2227.3 L1181.1 2228.1 L1181.8 2230.2 L1182.5 2231.2 L1183.2 2230.8 L1184 2228 L1184.7 2225.2 L1185.4 2225.2 L1186.1 2226.8 L1186.9 2226.3 L1187.6 2221.8 L1188.3 2216.8 L1189 2215.9 L1189.8 2219.4 L1190.5 2222.5 L1191.2 2221.2 L1191.9 2216.3 L1192.7 2212.3 L1193.4 2211.7 L1194.1 2212.9 L1194.8 2213.6 L1195.6 2214 L1196.3 2216.2 L1197 2219.9 L1197.8 2221.6 L1198.5 2218.5 L1199.2 2213 L1199.9 2209.8 L1200.6 2211.1 L1201.4 2213.5 L1202.1 2212.8 L1202.8 2209.1 L1203.5 2206.6 L1204.2 2208.6 L1204.9 2213.9 L1205.7 2218.5 L1206.4 2220.4 L1207.1 2221.2 L1207.8 2222.9 L1208.5 2224.8 L1209.2 2224.8 L1209.9 2223.1 L1210.6 2223.2 L1211.3 2228.1 L1212 2236.2 L1212.8 2242.6 L1213.5 2244.4 L1214.2 2243.9 L1214.9 2246.3 L1215.6 2253.5 L1216.3 2252.5 L1217 2249.8 L1217.7 2245.1 L1218.4 2241.3 L1219.1 2240.1 L1219.8 2240 L1220.5 2238.6 L1221.2 2235.6 L1221.9 2233.5 L1222.6 2233.6 L1223.3 2233.7 L1224 2230.2 L1224.7 2222.9 L1225.4 2216 L1226.1 2214.1 L1226.8 2217.6 L1227.5 2222.4 L1228.2 2224.2 L1228.9 2223.1 L1229.6 2222.1 L1230.3 2223 L1231 2224.4 L1231.7 2224 L1232.5 2222.3 L1233.2 2222.1 L1233.9 2224.2 L1234.6 2226.1 L1235.3 2226.3 L1236 2226 L1236.8 2227.5 L1237.5 2231 L1238.2 2234.8 L1238.9 2237.5 L1239.6 2240.2 L1240.4 2243.8 L1241.1 2247.9 L1241.8 2252.6 L1242.5 2258.1 L1243.2 2264.4 L1243.9 2272 L1244.7 2281.3 L1245.4 2293 L1246.1 2309 L1246.8 2285.7 L1247.5 2270.4 L1248.3 2259 L1249 2250 L1249.7 2242.6 L1250.4 2236.4 L1251.2 2231 L1251.9 2226.3 L1252.6 2222.2 L1253.3 2218.6 L1254.1 2215.4 L1254.8 2212.5 L1255.5 2210 L1256.2 2207.8 L1257 2205.8 L1257.7 2204 L1258.4 2202.5 L1259.1 2201.2 L1259.9 2200 L1260.6 2199.1 L1261.3 2198.3 L1262 2197.7 L1262.8 2197.3 L1263.5 2197.1 L1264.2 2197 L1264.9 2197.1 L1265.7 2197.5 L1266.4 2198.2 L1267.1 2199.1 L1267.8 2200.3 L1268.6 2201.7 L1269.3 2203.5 L1270 2205.7 L1270.8 2208.2 L1271.5 2211.1 L1272.2 2214.5 L1273 2218.4 L1273.7 2222.9 L1274.4 2228.2 L1275.2 2234.4 L1275.9 2241.9 L1276.6 2251.2 L1277.3 2263 L1278.1 2279.3 L1278.8 2305 L1279.5 2285.4 L1280.2 2271.8 L1281 2261.4 L1281.7 2253 L1282.4 2246 L1283.1 2240.1 L1283.9 2235 L1284.6 2230.5 L1285.3 2226.5 L1286 2223 L1286.8 2219.9 L1287.5 2217.2 L1288.2 2214.7 L1288.9 2212.5 L1289.7 2210.6 L1290.4 2208.9 L1291.1 2207.4 L1291.8 2206.1 L1292.6 2205 L1293.3 2204 L1294 2203.3 L1294.7 2202.7 L1295.5 2202.3 L1296.2 2202.1 L1296.9 2202 L1297.6 2202.2 L1298.4 2202.8 L1299.1 2203.8 L1299.9 2205.3 L1300.6 2207.2 L1301.4 2209.6 L1302.1 2212.5 L1302.9 2216.1 L1303.6 2220.3 L1304.4 2225.4 L1305.1 2231.5 L1305.9 2238.9 L1306.6 2248.1 L1307.4 2259.9 L1308.1 2276 L1308.8 2247.7 L1309.5 2230.4 L1310.2 2218 L1310.9 2208.3 L1311.6 2200.4 L1312.3 2193.7 L1313 2188 L1313.7 2183 L1314.4 2178.7 L1315.1 2174.8 L1315.8 2171.3 L1316.5 2168.2 L1317.2 2165.4 L1317.9 2162.9 L1318.6 2160.6 L1319.3 2158.6 L1320 2156.7 L1320.7 2155.1 L1321.4 2153.6 L1322.1 2152.3 L1322.8 2151.2 L1323.5 2150.2 L1324.2 2149.3 L1324.9 2148.6 L1325.6 2148 L1326.3 2147.6 L1327 2147.3 L1327.7 2147.1 L1328.4 2147 L1329.1 2147 L1329.8 2147.2 L1330.6 2147.4 L1331.3 2147.6 L1332 2148 L1332.7 2148.4 L1333.5 2148.9 L1334.2 2149.5 L1334.9 2150.2 L1335.6 2150.9 L1336.3 2151.8 L1337.1 2152.7 L1337.8 2153.7 L1338.5 2154.7 L1339.2 2155.9 L1339.9 2157.1 L1340.7 2158.5 L1341.4 2159.8 L1342.1 2161.3 L1342.8 2162.9 L1343.6 2164.5 L1344.3 2166.2 L1345 2168 L1345.7 2167.5 L1346.4 2167.1 L1347.1 2166.6 L1347.9 2166.2 L1348.6 2165.8 L1349.3 2165.5 L1350 2165.1 L1350.7 2164.8 L1351.4 2164.6 L1352.1 2164.4 L1352.9 2164.2 L1353.6 2164.1 L1354.3 2164 L1355 2164 L1355.7 2164 L1356.4 2164.1 L1357.1 2164.3 L1357.8 2164.5 L1358.5 2164.7 L1359.3 2165.1 L1360 2165.4 L1360.7 2165.9 L1361.4 2166.4 L1362.1 2167 L1362.8 2167.6 L1363.5 2168.3 L1364.2 2169.1 L1364.9 2170 L1365.6 2170.9 L1366.4 2171.9 L1367.1 2173 L1367.8 2174.2 L1368.5 2175.4 L1369.2 2176.8 L1369.9 2178.3 L1370.6 2179.8 L1371.3 2181.5 L1372 2183.3 L1372.7 2185.3 L1373.4 2187.3 L1374.2 2189.6 L1374.9 2192 L1375.6 2194.6 L1376.3 2197.4 L1377 2200.4 L1377.7 2203.8 L1378.4 2207.4 L1379.1 2211.4 L1379.8 2215.9 L1380.5 2220.9 L1381.3 2226.5 L1382 2233 L1382.7 2240.6 L1383.4 2249.8 L1384.1 2261.4 L1384.8 2277 L1385.5 2254.5 L1386.2 2239.6 L1386.9 2228.8 L1387.6 2220.3 L1388.3 2213.6 L1389 2208.2 L1389.7 2203.9 L1390.4 2200.4 L1391.1 2197.6 L1391.8 2195.6 L1392.5 2194.1 L1393.2 2193.3 L1393.9 2193 L1394.6 2193.1 L1395.3 2193.3 L1396.1 2193.6 L1396.8 2194.7 L1397.5 2196.4 L1398.2 2196.9 L1398.9 2195.2 L1399.6 2192.9 L1400.4 2192.8 L1401.1 2195.5 L1401.8 2198.8 L1402.5 2201 L1403.2 2203 L1403.9 2206.4 L1404.7 2209.6 L1405.4 2210.3 L1406.1 2208.9 L1406.8 2209.3 L1407.5 2214.3 L1408.2 2221.9 L1409 2227.4 L1409.7 2228.4 L1410.4 2228.1 L1411.1 2231.2 L1411.8 2238.4 L1412.5 2246.3 L1413.3 2251.9 L1414 2256.3 L1414.7 2263.5 L1415.4 2254.5 L1416.2 2248.1 L1416.9 2242 L1417.6 2237 L1418.3 2235.4 L1419.1 2236.1 L1419.8 2234.6 L1420.5 2227.6 L1421.3 2217.8 L1422 2211.1 L1422.7 2209.8 L1423.5 2211 L1424.2 2210 L1424.9 2206.5 L1425.7 2204 L1426.4 2204.6 L1427.1 2206.6 L1427.8 2207.1 L1428.6 2206 L1429.3 2205.9 L1430 2207.7 L1430.7 2208.9 L1431.4 2207 L1432.1 2203.2 L1432.8 2201.4 L1433.5 2204.5 L1434.2 2210 L1434.9 2213 L1435.6 2210.9 L1436.3 2206.2 L1437 2203.4 L1437.7 2204.3 L1438.4 2206.7 L1439.1 2208.3 L1439.8 2209.4 L1440.5 2212.1 L1441.2 2216.6 L1441.9 2220.3 L1442.6 2220.8 L1443.3 2219.2 L1444 2219.1 L1444.7 2222.2 L1445.4 2226 L1446.1 2226.4 L1446.8 2222.9 L1447.5 2219.6 L1448.2 2220.9 L1448.9 2227 L1449.6 2234.1 L1450.3 2238.6 L1451 2240.9 L1451.7 2243.4 L1452.4 2246.9 L1453.1 2250 L1453.8 2251.2 L1454.5 2240.5 L1455.3 2234.5 L1456 2232.9 L1456.8 2231.1 L1457.5 2225.1 L1458.3 2216.7 L1459 2211.4 L1459.8 2211.3 L1460.5 2212.5 L1461.3 2210.7 L1462 2206.2 L1462.8 2203.4 L1463.5 2204.7 L1464.2 2207.6 L1464.9 2209.6 L1465.6 2210.8 L1466.3 2213.2 L1467.1 2216.6 L1467.8 2218.1 L1468.5 2215.1 L1469.2 2209.5 L1469.9 2206.6 L1470.6 2209.4 L1471.3 2215.4 L1472 2219.8 L1472.8 2220.7 L1473.5 2221.1 L1474.2 2224.3 L1474.9 2230.3 L1475.6 2235.8 L1476.3 2239 L1477 2241.5 L1477.8 2245.8 L1478.5 2251.8 L1479.2 2256.9 L1479.9 2260.6 L1480.6 2266 L1481.3 2259.9 L1482 2258.2 L1482.8 2255.7 L1483.5 2248.7 L1484.2 2238.9 L1484.9 2231.6 L1485.7 2229.8 L1486.4 2231.1 L1487.1 2231.5 L1487.8 2230.6 L1488.6 2230.4 L1489.3 2232.2 L1490 2233.6 L1490.7 2232.1 L1491.5 2229 L1492.2 2228.1 L1493 2230.5 L1493.7 2232.7 L1494.4 2231.2 L1495.2 2227.8 L1495.9 2228 L1496.7 2234.6 L1497.4 2243.9 L1498.2 2250.5 L1498.9 2253.1 L1499.6 2254.9 L1500.4 2259 L1501.1 2264.5 L1501.9 2269.3 L1502.6 2274.8 L1503.3 2270.8 L1504 2269.9 L1504.7 2268.8 L1505.4 2264.3 L1506.1 2256.9 L1506.8 2250.8 L1507.5 2249.2 L1508.2 2250.5 L1508.9 2250.4 L1509.6 2246.5 L1510.3 2241.3 L1511 2238.7 L1511.7 2239.8 L1512.4 2242 L1513.1 2242.4 L1513.8 2241.2 L1514.5 2240.1 L1515.2 2239.6 L1515.9 2237.5 L1516.6 2232.2 L1517.3 2225.8 L1518 2222.7 L1518.7 2225.2 L1519.4 2230.2 L1520.1 2232.9 L1520.8 2231.5 L1521.5 2228.9 L1522.2 2229 L1522.9 2232.5 L1523.7 2236.2 L1524.4 2237.4 L1525.1 2237.6 L1525.8 2240.2 L1526.6 2245.5 L1527.3 2251.5 L1528 2257.4 L1528.8 2266.5 L1529.5 2282.6 L1530.2 2278.2 L1530.9 2272.5 L1531.7 2262.8 L1532.4 2251.8 L1533.1 2245 L1533.8 2244.1 L1534.5 2245.7 L1535.2 2245.3 L1536 2242.4 L1536.7 2239.7 L1537.4 2238.6 L1538.1 2237.7 L1538.8 2234.5 L1539.5 2230.1 L1540.3 2227.5 L1541 2228.2 L1541.7 2229.3 L1542.5 2227.7 L1543.2 2224.6 L1544 2225.2 L1544.7 2232 L1545.5 2240.8 L1546.2 2245.7 L1547 2245.6 L1547.7 2245.1 L1548.5 2248 L1549.2 2253.4 L1550 2258.8 L1550.7 2264.6 L1551.5 2273.7 L1552.2 2271.2 L1553 2268 L1553.7 2261.6 L1554.4 2254.1 L1555.2 2250.2 L1555.9 2251.3 L1556.6 2253.5 L1557.3 2252.4 L1558.1 2248.3 L1558.8 2245.8 L1559.5 2247.9 L1560.2 2252.4 L1561 2255.1 L1561.7 2254.6 L1562.4 2252.8 L1563.1 2251.9 L1563.8 2251.1 L1564.5 2248.4 L1565.3 2245 L1566 2244.5 L1566.7 2249.2 L1567.4 2256.3 L1568.1 2260.5 L1568.8 2259.9 L1569.6 2257.8 L1570.3 2258.6 L1571 2262.6 L1571.7 2263.9 L1572.4 2261.6 L1573.1 2257.2 L1573.8 2254 L1574.5 2253.3 L1575.3 2253.3 L1576 2251.9 L1576.7 2250.3 L1577.4 2250.9 L1578.1 2253.5 L1578.8 2254.6 L1579.5 2251.4 L1580.2 2245.6 L1580.9 2242.4 L1581.6 2244.8 L1582.4 2250.1 L1583.1 2253.3 L1583.8 2252.2 L1584.5 2249.2 L1585.2 2247.7 L1585.9 2247.6 L1586.6 2246.6 L1587.3 2243.6 L1588 2240.7 L1588.7 2240.5 L1589.5 2242.2 L1590.2 2242.8 L1590.9 2241 L1591.6 2239.6 L1592.3 2242 L1593 2248 L1593.7 2252.8 L1594.5 2252.2 L1595.2 2247.1 L1595.9 2242.8 L1596.6 2242.5 L1597.4 2244.9 L1598.1 2246.4 L1598.8 2246.8 L1599.5 2248.2 L1600.3 2251.4 L1601 2254.1 L1601.7 2254 L1602.4 2252.6 L1603.2 2254 L1603.9 2259.8 L1604.6 2266.4 L1605.3 2269.6 L1606.1 2269.4 L1606.8 2270.5 L1607.5 2276.3 L1608.2 2285.3 L1609 2292.8 L1609.7 2296.7 L1610.4 2299.7 L1611.1 2305.5 L1611.9 2314.5 L1612.6 2326.1 L1613.3 2318.1 L1614 2313.3 L1614.8 2313.2 L1615.5 2315 L1616.2 2313.7 L1616.9 2307.8 L1617.6 2300.9 L1618.3 2297.6 L1619.1 2298 L1619.8 2298 L1620.5 2294.6 L1621.2 2289 L1621.9 2285.4 L1622.6 2285.5 L1623.4 2286.9 L1624.1 2287.3 L1624.8 2286.9 L1625.5 2288.3 L1626.3 2291.5 L1627 2293.3 L1627.8 2291.8 L1628.5 2290.1 L1629.2 2293.3 L1630 2302.3 L1630.7 2312.2 L1631.5 2318 L1632.2 2320.1 L1632.9 2295.6 L1633.6 2280.6 L1634.3 2270.3 L1635.1 2260.7 L1635.8 2251.1 L1636.5 2243.9 L1637.2 2240.2 L1637.9 2237.8 L1638.6 2233.9 L1639.4 2229.3 L1640.1 2226.4 L1640.8 2225.4 L1641.5 2224 L1642.2 2220.4 L1642.9 2215.7 L1643.6 2212 L1644.4 2209.9 L1645.1 2208.3 L1645.8 2206.4 L1646.5 2204.6 L1647.2 2202.9 L1647.9 2201.3 L1648.7 2199.8 L1649.4 2198.4 L1650.1 2197.1 L1650.8 2195.9 L1651.5 2194.7 L1652.2 2193.7 L1652.9 2192.7 L1653.7 2191.8 L1654.4 2190.9 L1655.1 2190.1 L1655.8 2189.4 L1656.5 2188.7 L1657.2 2188.1 L1657.9 2187.6 L1658.7 2187.1 L1659.4 2186.6 L1660.1 2186.2 L1660.8 2185.9 L1661.5 2185.6 L1662.2 2185.4 L1663 2185.2 L1663.7 2185.1 L1664.4 2185 L1665.1 2185 L1665.8 2185.1 L1666.6 2185.4 L1667.3 2185.9 L1668 2186.6 L1668.8 2187.6 L1669.5 2188.7 L1670.2 2190.1 L1671 2191.6 L1671.7 2193.4 L1672.4 2195.4 L1673.2 2197.7 L1673.9 2200.2 L1674.6 2202.9 L1675.4 2205.9 L1676.1 2208.7 L1676.8 2206.5 L1677.6 2205.6 L1678.3 2206.6 L1679.1 2207.3 L1679.8 2205.1 L1680.5 2200.8 L1681.3 2197.7 L1682 2197.6 L1682.8 2198.4 L1683.5 2197.5 L1684.3 2196.2 L1685 2197.5 L1685.8 2201.1 L1686.5 2203.9 L1687.3 2204.5 L1688 2205.8 L1688.8 2210 L1689.5 2214.5 L1690.3 2214.6 L1691 2210 L1691.8 2206.4 L1692.5 2208.9 L1693.3 2216.3 L1694 2219 L1694.7 2218.4 L1695.4 2216.1 L1696.1 2215 L1696.8 2215.4 L1697.5 2215.1 L1698.2 2213 L1698.9 2210.9 L1699.6 2211.3 L1700.3 2213.9 L1701 2215.1 L1701.7 2212.7 L1702.4 2208.4 L1703.1 2206.6 L1703.8 2208.8 L1704.5 2212.2 L1705.2 2212.1 L1705.9 2207.8 L1706.6 2202.7 L1707.3 2201 L1708 2203 L1708.7 2206 L1709.4 2207.9 L1710.1 2209.7 L1710.8 2212.9 L1711.5 2216.2 L1712.3 2216.5 L1713 2212.7 L1713.7 2208.2 L1714.4 2207.4 L1715.1 2210.6 L1715.8 2213.9 L1716.5 2213.7 L1717.2 2210.9 L1717.9 2210 L1718.6 2213.5 L1719.4 2219.4 L1720.1 2223.5 L1720.8 2224.5 L1721.5 2224.7 L1722.2 2226.4 L1722.9 2228.6 L1723.6 2229.5 L1724.3 2229.4 L1725 2231.3 L1725.7 2237.2 L1726.5 2244.7 L1727.2 2248.9 L1727.9 2248.1 L1728.6 2245.8 L1729.3 2247.2 L1730 2253.5 L1730.7 2253.9 L1731.4 2252.1 L1732.1 2248.6 L1732.8 2246.4 L1733.6 2246.9 L1734.3 2247.9 L1735 2246.9 L1735.7 2244.3 L1736.4 2242.7 L1737.1 2242.9 L1737.8 2242 L1738.5 2237.3 L1739.3 2230.5 L1740 2226.5 L1740.7 2228.5 L1741.4 2234.3 L1742.1 2238.3 L1742.8 2238.1 L1743.5 2235.8 L1744.2 2235.1 L1744.9 2236.6 L1745.6 2238.1 L1746.3 2237.9 L1747 2237.4 L1747.7 2238.9 L1748.4 2242.2 L1749.1 2244.4 L1749.8 2243.4 L1750.5 2241 L1751.2 2241.3 L1751.9 2245.4 L1752.6 2247.8 L1753.3 2246.3 L1754 2240.8 L1754.8 2235.7 L1755.5 2235.1 L1756.2 2238.5 L1756.9 2242 L1757.6 2243.1 L1758.3 2242.8 L1759 2243 L1759.7 2242.9 L1760.5 2240.2 L1761.2 2234.7 L1761.9 2229.9 L1762.6 2229.4 L1763.3 2232.2 L1764 2233.9 L1764.7 2231.8 L1765.5 2228.1 L1766.2 2227.2 L1766.9 2230.7 L1767.6 2235.1 L1768.3 2236.1 L1769 2233.5 L1769.7 2230.5 L1770.5 2229.4 L1771.2 2229.4 L1771.9 2228.6 L1772.6 2227.5 L1773.3 2227.9 L1774 2229.5 L1774.7 2230.3 L1775.4 2229.3 L1776.2 2227.6 L1776.9 2227.1 L1777.6 2227.7 L1778.3 2228" fill="none" stroke="#ff0000" stroke-width="7" stroke-linejoin="round"/>
</g>
<path d="M352.9 2446.5v-15.5M352.9 1971.5v15.5M495.2 2446.5v-15.5M495.2 1971.5v15.5M636.9 2446.5v-15.5M636.9 1971.5v15.5M779.6 2446.5v-15.5M779.6 1971.5v15.5M918 2446.5v-15.5M918 1971.5v15.5M1060.1 2446.5v-15.5M1060.1 1971.5v15.5M1198.9 2446.5v-15.5M1198.9 1971.5v15.5M1341.2 2446.5v-15.5M1341.2 1971.5v15.5M1486.8 2446.5v-15.5M1486.8 1971.5v15.5M1629 2446.5v-15.5M1629 1971.5v15.5M1767.4 2446.5v-15.5M1767.4 1971.5v15.5M221.5 2397.7h15.5M1777.5 2397.7h-15.5M221.5 2294h15.5M1777.5 2294h-15.5M221.5 2189.5h15.5M1777.5 2189.5h-15.5M221.5 2082.3h15.5M1777.5 2082.3h-15.5M221.5 1978h15.5M1777.5 1978h-15.5" stroke="#262626" stroke-width="3" fill="none"/>
<path d="M220 1971.5H1779" stroke="#262626" stroke-width="3"/>
<path d="M220 2446.5H1779" stroke="#8e8e8e" stroke-width="3"/>
<path d="M221.5 1971.5V2446.5" stroke="#262626" stroke-width="3"/>
<path d="M1777.5 1971.5V2446.5" stroke="#262626" stroke-width="3"/>
<text x="0" y="0" font-size="45" text-anchor="middle" fill="#262626" font-family='"Liberation Sans", sans-serif' transform="translate(352.9 2514.5) scale(1 1.07)">4</text>
<text x="0" y="0" font-size="45" text-anchor="middle" fill="#262626" font-family='"Liberation Sans", sans-serif' transform="translate(495.2 2514.5) scale(1 1.07)">6</text>
<text x="0" y="0" font-size="45" text-anchor="middle" fill="#262626" font-family='"Liberation Sans", sans-serif' transform="translate(636.9 2514.5) scale(1 1.07)">8</text>
<text x="0" y="0" font-size="45" text-anchor="middle" fill="#262626" font-family='"Liberation Sans", sans-serif' transform="translate(779.6 2514.5) scale(1 1.07)">10</text>
<text x="0" y="0" font-size="45" text-anchor="middle" fill="#262626" font-family='"Liberation Sans", sans-serif' transform="translate(918 2514.5) scale(1 1.07)">12</text>
<text x="0" y="0" font-size="45" text-anchor="middle" fill="#262626" font-family='"Liberation Sans", sans-serif' transform="translate(1060.1 2514.5) scale(1 1.07)">14</text>
<text x="0" y="0" font-size="45" text-anchor="middle" fill="#262626" font-family='"Liberation Sans", sans-serif' transform="translate(1198.9 2514.5) scale(1 1.07)">16</text>
<text x="0" y="0" font-size="45" text-anchor="middle" fill="#262626" font-family='"Liberation Sans", sans-serif' transform="translate(1341.2 2514.5) scale(1 1.07)">18</text>
<text x="0" y="0" font-size="45" text-anchor="middle" fill="#262626" font-family='"Liberation Sans", sans-serif' transform="translate(1486.8 2514.5) scale(1 1.07)">20</text>
<text x="0" y="0" font-size="45" text-anchor="middle" fill="#262626" font-family='"Liberation Sans", sans-serif' transform="translate(1629 2514.5) scale(1 1.07)">22</text>
<text x="0" y="0" font-size="45" text-anchor="middle" fill="#262626" font-family='"Liberation Sans", sans-serif' transform="translate(1767.4 2514.5) scale(1 1.07)">24</text>
<text x="0" y="0" font-size="45" text-anchor="end" fill="#262626" font-family='"Liberation Sans", sans-serif' transform="translate(198 2417.2) scale(1 1.04)">-80</text>
<text x="0" y="0" font-size="45" text-anchor="end" fill="#262626" font-family='"Liberation Sans", sans-serif' transform="translate(198 2313.5) scale(1 1.04)">-60</text>
<text x="0" y="0" font-size="45" text-anchor="end" fill="#262626" font-family='"Liberation Sans", sans-serif' transform="translate(198 2209) scale(1 1.04)">-40</text>
<text x="0" y="0" font-size="45" text-anchor="end" fill="#262626" font-family='"Liberation Sans", sans-serif' transform="translate(198 2101.8) scale(1 1.04)">-20</text>
<text x="0" y="0" font-size="45" text-anchor="end" fill="#262626" font-family='"Liberation Sans", sans-serif' transform="translate(198 1997.5) scale(1 1.04)">0</text>
<text x="1070.7" y="2587" font-size="46" text-anchor="middle" fill="#262626" font-family='"Liberation Sans", sans-serif' textLength="354" lengthAdjust="spacingAndGlyphs">Frequency (MHz)</text>
<text x="105" y="2204" font-size="46" text-anchor="middle" fill="#262626" font-family='"Liberation Sans", sans-serif' transform="rotate(-90 105 2204)" textLength="182" lengthAdjust="spacingAndGlyphs">FFT (dB)</text>
<text x="231" y="2059.5" font-size="80" text-anchor="start" fill="#000" font-family='"Liberation Serif", serif' stroke="#fff" stroke-width="1.3">(d)</text>
<rect x="1046.2" y="1978" width="720.8" height="109.7" fill="#fff" stroke="#262626" stroke-width="2.6"/>
<path d="M1044.9 2087.7H1768.3" stroke="#8f8f8f" stroke-width="2.6"/>
<path d="M1057 2006.4H1147" stroke="#ff0000" stroke-width="6"/>
<text x="1157" y="2024" font-size="40" text-anchor="start" fill="#000" font-family='"Liberation Sans", sans-serif' textLength="598.8" lengthAdjust="spacingAndGlyphs">Hydrophone output FFT (AC only)</text>
<path d="M1057 2063.3H1147" stroke="#ff0000" stroke-width="6" stroke-dasharray="24 25"/>
<text x="1157" y="2079" font-size="40" text-anchor="start" fill="#000" font-family='"Liberation Sans", sans-serif'>Simulation FFT</text>
</svg>
</body></html>
